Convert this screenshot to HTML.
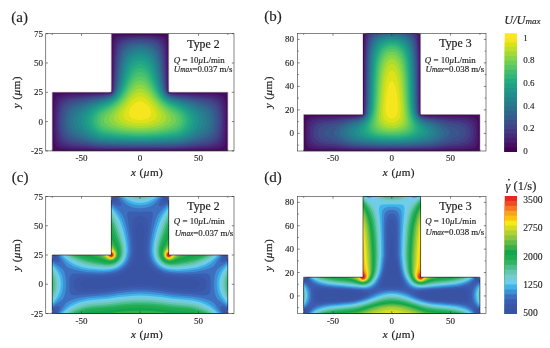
<!DOCTYPE html>
<html><head><meta charset="utf-8"><title>Velocity and shear rate contours</title>
<style>
html,body{margin:0;padding:0;background:#fff;}
svg{display:block;font-family:"Liberation Serif", "DejaVu Serif", serif;}
</style></head>
<body>
<svg width="550" height="348" viewBox="0 0 550 348">
<rect width="550" height="348" fill="#fff"/>
<clipPath id="ca"><path d="M52.25 150.9L227.8 150.9L227.8 92.3L168.69 92.3L168.69 33.7L111.35 33.7L111.35 92.3L52.25 92.3Z"/></clipPath>
<g clip-path="url(#ca)">
<path d="M52.25 150.9L227.8 150.9L227.8 92.3L168.69 92.3L168.69 33.7L111.35 33.7L111.35 92.3L52.25 92.3Z" fill="#460b5e"/>
<path d="M83.3 149.7L99.1 150.0L116.0 150.1L151.1 150.1L181.6 150.0L203.8 149.6L211.4 149.3L214.9 149.1L217.8 148.8L219.6 148.4L221.3 148.0L222.5 147.4L223.3 146.8L223.9 146.2L224.6 145.0L225.0 143.9L225.5 142.1L226.0 137.4L226.3 132.1L226.4 125.7L226.4 118.1L226.3 111.6L226.1 107.0L225.8 103.4L225.5 101.1L224.9 98.8L224.3 97.6L223.9 97.0L223.4 96.4L222.5 95.8L221.4 95.2L220.2 94.9L216.7 94.3L212.6 93.9L206.7 93.7L172.2 92.9L168.7 92.6L168.4 92.3L168.2 90.0L168.1 86.4L167.6 56.6L167.4 50.1L167.1 45.4L166.7 41.9L166.2 39.6L165.8 38.6L165.2 37.8L164.6 37.2L164.0 36.8L162.8 36.2L161.7 35.9L158.2 35.4L152.9 35.0L145.3 34.9L134.3 34.9L126.0 35.1L120.7 35.5L119.0 35.8L117.2 36.2L116.3 36.6L115.4 37.2L114.8 37.8L114.3 38.6L113.9 39.6L113.5 40.7L113.0 44.2L112.7 48.4L112.5 53.6L112.0 85.3L111.8 90.0L111.6 92.3L111.3 92.6L107.8 92.9L72.7 93.7L66.9 94.0L62.8 94.4L59.9 94.9L58.7 95.2L57.5 95.8L56.7 96.4L56.1 97.0L55.4 98.2L55.0 99.3L54.6 101.1L54.3 102.8L53.9 108.7L53.7 117.5L53.7 128.0L53.9 135.1L54.3 139.8L54.5 141.5L54.8 143.3L55.2 144.5L55.7 145.6L56.7 146.8L57.5 147.4L58.1 147.7L59.9 148.3L62.2 148.8L65.7 149.1L69.8 149.4Z" fill="#481a6c"/>
<path d="M99.6 149.2L116.6 149.3L140.6 149.4L165.2 149.3L181.0 149.1L190.9 148.8L207.9 147.9L211.4 147.6L213.8 147.3L216.1 146.8L218.0 146.2L219.6 145.5L220.8 144.6L221.5 143.9L222.3 142.7L222.9 141.5L223.5 139.8L224.0 137.4L224.3 135.1L224.7 131.0L224.9 126.3L224.9 120.4L224.8 115.2L224.6 111.1L224.3 107.5L223.8 104.6L223.1 102.2L222.5 100.8L221.9 99.8L221.0 98.7L220.2 98.1L219.0 97.4L217.8 96.9L216.1 96.4L214.3 96.0L210.8 95.5L205.6 95.1L172.8 93.5L170.5 93.2L169.3 93.0L168.7 92.8L168.2 92.3L167.9 91.1L167.7 90.0L167.4 85.9L166.6 58.9L166.3 53.0L165.9 48.4L165.2 44.2L164.4 41.9L164.0 41.0L163.4 40.1L162.8 39.5L161.7 38.6L160.5 38.0L159.3 37.6L157.6 37.1L155.8 36.8L150.6 36.3L144.1 36.1L135.3 36.1L128.3 36.4L123.6 36.9L121.9 37.3L120.0 37.8L118.7 38.4L117.8 39.0L117.1 39.6L116.2 40.7L115.6 41.9L115.2 43.1L114.7 44.8L114.4 46.6L113.9 51.3L113.5 57.1L112.6 86.4L112.3 90.5L111.9 92.3L111.3 92.8L110.8 93.0L107.8 93.4L73.9 95.1L68.6 95.6L64.5 96.3L62.8 96.7L61.0 97.4L59.8 98.2L58.7 99.1L57.7 100.5L57.1 101.7L56.5 103.4L56.1 105.2L55.5 109.9L55.2 116.9L55.1 125.1L55.4 132.1L56.0 136.8L56.3 138.9L56.7 140.4L57.1 141.5L57.7 142.7L58.5 143.9L59.1 144.5L59.9 145.1L60.7 145.6L62.8 146.5L65.1 147.1L68.6 147.6L72.1 147.9L76.8 148.2L92.0 148.9Z" fill="#482677"/>
<path d="M122.5 148.6L150.0 148.6L177.5 148.3L188.6 147.8L202.6 146.8L206.7 146.4L210.2 145.9L213.2 145.3L215.5 144.5L217.3 143.6L218.4 142.8L219.0 142.3L220.1 140.9L221.1 139.2L221.7 137.4L222.2 135.7L222.6 133.3L223.0 130.4L223.2 127.5L223.3 120.4L223.2 116.9L223.0 113.4L222.4 108.7L222.1 107.0L221.6 105.2L220.8 103.4L220.2 102.3L219.2 101.1L218.4 100.3L216.9 99.3L214.9 98.4L212.6 97.7L209.7 97.2L203.2 96.4L172.8 94.1L170.5 93.7L169.3 93.4L168.7 93.2L168.3 92.9L167.8 92.3L167.4 91.1L167.2 90.0L166.7 85.9L166.4 80.6L165.5 58.9L165.0 53.0L164.3 48.4L163.9 46.6L163.3 44.8L162.5 43.1L161.7 41.9L160.5 40.7L159.7 40.1L158.6 39.6L157.0 39.0L155.2 38.5L153.5 38.2L151.1 37.8L148.2 37.6L141.8 37.3L135.3 37.4L129.5 37.8L125.4 38.4L122.5 39.2L121.3 39.6L120.1 40.3L119.0 41.2L118.4 41.9L117.8 42.7L117.2 43.7L116.6 45.1L116.2 46.6L115.5 50.1L114.9 54.8L114.5 60.1L113.6 80.6L113.3 86.4L112.8 90.5L112.2 92.3L111.9 92.7L111.3 93.2L110.8 93.4L109.6 93.7L107.3 94.1L76.2 96.5L71.5 97.0L67.5 97.7L65.7 98.2L63.9 98.9L62.8 99.5L61.4 100.5L60.4 101.5L59.5 102.8L58.9 104.0L58.3 105.8L57.7 108.1L57.3 110.5L57.0 113.4L56.8 116.3L56.7 119.8L56.7 123.9L56.9 127.5L57.1 131.0L57.7 135.1L58.1 136.8L58.7 138.6L59.5 140.4L60.3 141.5L61.0 142.3L62.2 143.3L63.4 144.0L64.5 144.5L67.5 145.4L71.6 146.2L76.2 146.7L90.9 147.8L99.1 148.2L104.9 148.4Z" fill="#46337f"/>
<path d="M102.0 147.4L120.1 147.7L140.0 147.8L159.9 147.7L178.1 147.4L187.4 146.8L203.2 145.2L207.9 144.4L210.2 143.9L212.0 143.4L213.8 142.7L215.5 141.7L216.7 140.7L217.6 139.8L218.5 138.6L219.4 136.8L220.1 135.1L220.7 132.7L221.1 129.8L221.4 126.9L221.6 123.4L221.6 119.3L221.4 115.7L221.1 112.8L220.5 109.9L219.9 107.5L219.2 105.8L218.5 104.6L217.7 103.4L216.5 102.3L215.5 101.5L213.8 100.5L212.4 99.9L210.6 99.3L207.3 98.6L203.2 98.0L188.6 96.3L173.4 94.8L170.5 94.2L169.3 93.9L168.5 93.5L167.8 92.9L167.4 92.3L167.1 91.7L166.6 90.0L166.2 87.0L165.6 80.6L164.5 61.2L164.0 56.4L163.5 52.5L162.9 49.5L162.1 47.2L161.3 45.4L160.2 43.7L159.3 42.8L158.3 41.9L157.0 41.2L155.8 40.6L154.1 40.1L152.3 39.6L150.0 39.3L147.6 39.0L144.7 38.8L141.2 38.7L137.7 38.7L134.2 38.8L131.2 39.1L128.9 39.4L126.6 39.9L124.8 40.4L123.1 41.2L121.9 41.8L120.7 42.8L119.9 43.7L119.0 44.8L118.4 46.1L117.7 47.8L117.1 50.1L116.3 54.2L115.7 60.1L115.2 65.9L114.4 80.6L113.9 86.4L113.6 88.8L113.3 90.5L112.9 91.7L112.7 92.3L112.3 92.9L111.3 93.6L110.8 93.9L109.0 94.4L107.3 94.7L104.3 95.1L90.5 96.4L76.2 98.0L71.6 98.8L68.0 99.8L66.3 100.5L64.5 101.5L63.4 102.4L62.4 103.4L61.5 104.6L60.6 106.4L60.0 108.1L59.4 110.5L58.7 114.6L58.4 119.8L58.5 125.7L59.0 130.4L59.7 133.9L60.2 135.7L60.6 136.8L61.2 138.0L62.0 139.2L62.8 140.2L63.6 140.9L65.2 142.1L67.5 143.2L69.8 143.9L73.3 144.7L77.4 145.2L90.9 146.6L96.7 147.1Z" fill="#424086"/>
<path d="M116.6 146.8L129.5 147.0L142.4 147.0L155.2 146.9L168.7 146.7L176.3 146.5L180.4 146.3L185.7 145.9L190.9 145.2L204.4 143.2L207.9 142.4L210.8 141.4L212.6 140.5L213.7 139.8L214.5 139.2L215.5 138.1L216.9 136.2L217.5 135.1L218.2 133.3L218.7 131.6L219.2 129.2L219.5 126.9L219.7 124.5L219.8 122.2L219.7 119.3L219.6 116.9L219.3 114.6L219.0 112.8L218.4 110.6L217.8 108.9L217.3 107.6L216.6 106.4L215.7 105.2L214.9 104.4L213.8 103.4L212.0 102.3L210.2 101.5L207.9 100.7L205.6 100.1L202.0 99.5L189.7 97.6L175.1 95.7L172.8 95.4L171.0 95.0L169.3 94.4L168.1 93.7L167.3 92.9L166.6 91.7L166.2 90.5L165.8 88.8L165.4 86.4L164.8 80.6L163.8 67.1L163.3 61.2L162.6 56.0L161.7 51.6L161.1 49.7L160.5 48.2L159.6 46.6L158.7 45.3L157.7 44.2L156.4 43.3L155.0 42.5L153.5 41.9L151.7 41.3L149.4 40.8L144.7 40.3L141.8 40.1L138.9 40.1L135.9 40.2L133.0 40.5L130.7 40.8L128.9 41.2L126.0 42.1L124.2 42.9L123.1 43.7L121.9 44.7L121.2 45.4L120.1 47.1L119.2 48.9L118.4 51.3L117.8 54.2L117.2 57.7L116.6 62.7L115.2 80.6L114.5 87.0L114.0 90.0L113.4 91.7L112.8 92.9L111.9 93.7L110.8 94.4L109.6 94.8L106.7 95.5L92.0 97.3L78.0 99.5L73.9 100.2L71.0 101.1L69.2 101.7L67.5 102.6L66.2 103.4L65.1 104.4L63.9 105.7L63.1 107.0L62.5 108.1L61.8 109.9L61.3 111.6L60.8 114.0L60.5 116.3L60.4 118.7L60.3 121.0L60.3 123.9L60.5 126.9L60.9 129.2L61.7 132.7L62.2 134.2L62.8 135.7L63.5 136.8L64.5 138.1L65.6 139.2L66.9 140.1L68.2 140.9L69.8 141.6L71.6 142.2L73.9 142.9L78.0 143.6L88.5 145.1L95.0 145.9L100.8 146.4L104.9 146.6Z" fill="#3e4c8a"/>
<path d="M106.1 145.6L123.6 146.0L141.2 146.2L158.7 146.0L176.3 145.5L182.7 145.1L188.6 144.3L201.5 141.9L205.6 140.9L207.9 140.1L209.7 139.3L210.9 138.6L212.5 137.4L213.6 136.2L214.5 135.1L215.5 133.4L216.1 132.0L216.8 129.8L217.3 127.5L217.6 125.1L217.7 122.2L217.7 119.3L217.5 116.9L217.1 114.6L216.5 112.2L215.8 110.5L215.0 108.7L214.2 107.5L213.2 106.4L212.0 105.3L210.8 104.5L209.1 103.5L207.3 102.7L205.0 102.0L202.6 101.4L192.1 99.2L186.2 98.2L175.7 96.6L172.8 96.0L169.9 95.2L168.7 94.7L167.8 94.1L166.7 92.9L166.1 91.7L165.4 90.0L164.8 87.0L163.9 80.6L162.3 63.1L161.7 58.9L161.1 55.8L160.4 53.0L159.5 50.7L158.7 48.9L157.6 47.3L157.0 46.6L155.8 45.5L154.7 44.7L153.5 44.0L152.3 43.5L150.6 42.9L148.8 42.5L146.5 42.1L144.1 41.8L141.8 41.7L137.1 41.7L134.8 41.9L132.4 42.2L130.7 42.6L128.9 43.1L127.1 43.7L125.4 44.7L124.2 45.5L123.1 46.6L122.1 47.8L121.3 49.1L120.5 50.7L119.9 52.5L118.8 56.6L117.9 61.8L117.3 67.7L116.1 80.6L115.4 86.4L114.8 89.4L114.2 91.1L113.7 92.3L112.9 93.5L111.9 94.3L110.8 95.0L109.6 95.4L107.8 95.9L104.9 96.5L93.9 98.2L87.5 99.3L76.8 101.5L74.1 102.3L72.1 103.0L70.4 103.8L69.0 104.6L67.5 105.8L66.3 107.0L65.5 108.1L64.5 109.9L63.8 111.6L63.1 114.0L62.5 117.5L62.3 121.0L62.5 125.1L63.0 128.6L63.4 130.4L63.9 132.0L64.5 133.3L65.1 134.4L66.4 136.2L67.5 137.3L68.3 138.0L70.4 139.3L72.7 140.4L75.1 141.1L78.0 141.8L87.9 143.7L93.8 144.6L100.2 145.3Z" fill="#39568c"/>
<path d="M119.0 145.1L129.5 145.2L140.0 145.3L150.6 145.2L161.5 145.0L177.5 144.5L182.2 144.0L186.2 143.4L192.7 142.1L201.5 140.0L204.4 139.1L206.9 138.0L208.5 137.1L209.7 136.3L210.8 135.3L211.6 134.5L212.4 133.3L213.2 132.1L213.8 130.9L214.4 129.2L214.8 127.5L215.2 125.7L215.5 122.2L215.3 118.7L215.1 116.9L214.7 115.2L214.3 113.7L213.8 112.2L212.6 110.0L211.1 108.1L210.2 107.3L209.1 106.4L207.3 105.3L205.6 104.4L203.2 103.6L200.9 102.9L193.9 101.1L188.6 99.8L183.4 98.7L174.5 97.2L171.6 96.5L169.9 95.9L168.7 95.3L167.5 94.5L166.5 93.5L165.7 92.3L165.0 90.5L164.4 88.8L163.9 86.4L163.1 81.2L161.7 68.3L161.0 63.0L160.0 57.7L159.0 54.2L158.2 52.2L157.4 50.7L156.4 49.2L155.2 47.9L154.1 46.9L152.8 46.0L151.1 45.2L149.4 44.5L147.6 44.1L145.9 43.7L141.8 43.3L137.7 43.4L135.3 43.6L133.6 43.8L130.7 44.5L128.9 45.2L127.7 45.7L126.6 46.4L125.4 47.3L124.3 48.4L123.6 49.2L122.3 51.3L121.3 53.6L120.4 56.6L119.7 59.5L119.1 63.0L118.6 66.5L116.8 82.3L116.3 85.3L115.7 88.2L115.1 90.5L114.3 92.3L113.5 93.5L112.5 94.5L111.9 94.9L110.8 95.6L109.6 96.1L107.8 96.6L104.9 97.3L95.0 99.1L89.7 100.2L78.0 103.2L74.5 104.4L72.9 105.2L71.6 106.0L70.2 107.0L68.9 108.1L67.9 109.3L66.9 110.9L66.3 112.2L65.6 114.0L65.2 115.7L64.9 117.5L64.6 121.0L64.6 123.4L64.8 125.1L65.1 126.9L65.5 128.6L66.1 130.4L66.6 131.6L67.2 132.7L68.0 133.9L69.0 135.1L69.8 135.8L71.0 136.7L72.1 137.4L74.5 138.6L78.0 139.8L87.3 142.1L94.4 143.5L99.1 144.1L103.2 144.5Z" fill="#34618d"/>
<path d="M111.9 143.9L121.9 144.2L131.2 144.4L140.6 144.4L150.6 144.3L162.3 144.1L173.4 143.6L178.1 143.4L182.2 142.9L186.8 142.0L192.1 140.7L200.6 138.0L203.8 136.8L205.6 135.9L206.7 135.1L207.9 134.2L208.8 133.3L209.8 132.1L210.6 131.0L211.7 128.6L212.1 127.5L212.5 125.7L212.9 122.8L212.9 119.8L212.4 116.9L212.0 115.2L211.5 114.0L211.0 112.8L210.3 111.6L209.0 109.9L207.0 108.1L205.0 106.8L202.6 105.7L197.8 104.0L192.5 102.3L186.2 100.5L181.6 99.4L174.5 98.0L171.0 97.0L169.3 96.3L168.1 95.6L166.8 94.6L165.8 93.5L165.1 92.3L164.3 90.5L163.7 88.8L163.1 86.4L162.2 81.2L160.6 69.4L159.9 64.8L158.8 59.5L157.7 56.0L157.0 54.2L156.4 53.0L155.3 51.3L154.4 50.1L153.5 49.2L152.3 48.3L150.6 47.2L149.1 46.6L147.6 46.1L145.9 45.7L142.4 45.2L140.6 45.1L138.3 45.1L134.8 45.5L131.8 46.3L130.1 46.9L128.9 47.5L127.7 48.3L126.6 49.2L125.7 50.1L124.8 51.1L123.6 53.0L122.5 55.4L121.5 58.3L120.8 61.2L119.7 67.7L117.6 82.9L117.0 85.9L116.5 88.2L115.8 90.5L115.0 92.3L114.2 93.5L113.1 94.7L111.3 96.0L110.2 96.6L108.4 97.2L105.5 98.0L96.3 99.9L91.5 101.1L83.9 103.4L78.8 105.2L76.8 106.0L75.1 106.8L73.9 107.5L72.7 108.4L71.6 109.4L70.6 110.5L69.7 111.6L69.0 112.8L68.3 114.6L67.9 115.7L67.5 117.5L67.1 120.4L67.1 122.2L67.2 123.9L67.8 126.9L68.6 129.2L69.1 130.4L69.8 131.6L70.7 132.7L71.6 133.6L72.5 134.5L73.9 135.5L76.4 136.8L79.4 138.0L86.8 140.4L90.3 141.3L93.2 142.0L97.3 142.8L101.4 143.3L104.3 143.5Z" fill="#2f6c8e"/>
<path d="M124.2 143.3L133.6 143.5L142.4 143.5L151.7 143.4L160.5 143.1L169.3 142.8L176.3 142.4L179.8 142.0L183.9 141.3L188.6 140.1L193.2 138.6L196.1 137.4L200.2 135.7L202.0 134.8L203.6 133.9L205.0 132.9L205.8 132.1L207.3 130.4L208.1 129.2L208.7 128.0L209.2 126.9L209.7 125.1L210.0 122.8L210.0 120.4L209.7 118.1L209.1 115.8L208.2 114.0L207.1 112.2L205.6 110.6L203.9 109.3L202.0 108.1L198.2 106.4L194.2 104.6L189.5 102.8L183.7 101.1L174.5 98.9L171.0 97.8L169.3 97.0L167.5 96.0L166.4 95.0L165.5 94.1L164.7 92.9L163.8 91.1L163.1 89.4L162.4 87.0L161.3 81.8L159.4 69.4L158.5 64.8L157.3 60.1L156.0 56.6L155.1 54.8L154.1 53.1L152.9 51.7L151.7 50.6L150.1 49.5L148.8 48.8L147.0 48.1L145.3 47.6L142.4 47.2L139.4 47.1L136.5 47.3L133.6 47.9L131.2 48.8L130.1 49.4L128.9 50.2L127.1 51.7L125.6 53.6L124.6 55.4L123.6 57.5L122.7 60.1L121.9 63.0L120.7 69.2L118.6 82.3L118.0 85.3L117.3 88.2L116.5 90.5L115.7 92.3L114.9 93.7L113.7 95.0L112.5 96.0L111.3 96.7L109.0 97.8L105.5 98.9L96.3 101.1L90.9 102.7L87.3 104.0L84.5 105.2L78.1 108.1L76.8 108.8L75.3 109.9L74.0 111.1L73.0 112.2L72.1 113.4L71.2 115.2L70.8 116.3L70.3 118.1L70.0 120.4L70.1 123.4L70.4 125.1L70.7 126.3L71.6 128.5L72.7 130.4L74.2 132.1L76.2 133.7L78.6 135.1L83.9 137.4L88.5 139.2L93.2 140.6L97.9 141.6L101.4 142.2L104.9 142.5L114.3 142.9Z" fill="#2b758e"/>
<path d="M119.0 142.1L127.7 142.4L135.9 142.5L144.1 142.5L152.9 142.4L162.3 142.1L172.4 141.5L176.9 141.2L181.0 140.6L185.7 139.4L189.9 138.0L193.9 136.2L198.2 133.9L201.7 131.6L203.6 129.8L204.6 128.6L205.3 127.5L205.8 126.3L206.2 125.1L206.6 123.4L206.7 121.0L206.6 119.3L206.1 117.5L205.4 115.7L204.3 114.0L202.8 112.2L201.4 111.1L197.8 108.7L194.7 107.0L191.2 105.2L188.6 104.1L185.3 102.8L182.7 102.0L173.4 99.4L171.6 98.9L169.9 98.1L168.1 97.2L167.0 96.4L165.8 95.4L165.1 94.6L164.2 93.5L163.3 91.7L162.5 90.0L161.6 87.0L160.3 81.8L158.3 70.6L157.4 66.5L156.3 62.4L155.0 58.9L154.1 57.1L153.4 56.0L152.3 54.4L151.1 53.2L150.0 52.2L148.6 51.3L147.0 50.5L145.3 49.9L142.9 49.4L140.0 49.2L137.1 49.4L134.8 49.9L132.4 50.8L130.5 51.9L129.5 52.7L128.5 53.6L127.0 55.4L125.9 57.1L124.8 59.5L123.9 61.8L123.1 64.8L121.9 70.1L119.5 82.9L118.8 85.9L118.1 88.2L117.3 90.5L116.5 92.3L115.4 94.1L114.3 95.4L113.1 96.4L111.9 97.2L110.8 97.8L109.0 98.6L106.1 99.6L98.5 101.7L93.8 103.2L88.8 105.2L84.2 107.5L79.5 110.5L77.9 111.6L76.8 112.7L75.7 114.0L74.9 115.2L74.4 116.3L73.7 118.1L73.3 120.4L73.3 122.2L73.4 123.4L74.0 125.7L74.5 126.9L75.1 128.0L76.4 129.8L78.3 131.6L81.9 133.9L85.0 135.7L88.7 137.4L91.8 138.6L95.5 139.8L99.1 140.6L101.4 141.0L104.3 141.3Z" fill="#277f8e"/>
<path d="M134.8 141.5L142.9 141.5L150.6 141.4L158.7 141.2L166.4 140.8L176.9 139.9L180.4 139.3L183.3 138.6L186.8 137.4L190.7 135.7L193.7 133.9L196.9 131.6L199.4 129.2L200.5 128.0L201.3 126.9L201.9 125.7L202.4 124.5L202.7 123.4L202.9 122.2L202.8 120.4L202.5 118.7L201.8 116.9L201.2 115.7L199.8 114.0L198.1 112.2L196.1 110.5L194.5 109.3L190.8 107.0L188.6 105.8L186.0 104.6L181.4 102.8L172.8 100.2L169.9 99.0L168.1 98.1L166.9 97.3L165.8 96.3L164.7 95.2L163.8 94.1L162.7 92.3L161.9 90.5L160.8 87.6L159.5 82.9L157.0 71.2L156.0 67.1L154.7 63.0L153.9 61.2L153.1 59.5L152.3 58.2L151.1 56.6L150.0 55.3L148.2 53.9L146.5 53.0L144.7 52.3L142.9 51.8L141.2 51.6L138.9 51.6L137.1 51.8L134.8 52.5L133.0 53.2L131.4 54.2L130.0 55.4L128.5 57.1L127.3 58.9L126.6 60.3L125.6 62.4L124.2 66.6L123.1 71.2L120.5 82.9L119.8 85.9L119.0 88.2L118.2 90.5L117.0 92.9L115.8 94.6L114.9 95.8L113.7 96.8L112.5 97.7L111.3 98.4L109.6 99.3L106.7 100.4L99.1 102.7L95.0 104.2L92.7 105.2L90.3 106.4L88.2 107.5L86.4 108.7L84.7 109.9L82.6 111.6L81.3 112.8L79.8 114.6L78.6 116.2L77.9 117.5L77.4 119.1L77.2 120.4L77.1 121.6L77.2 122.8L77.5 123.9L77.8 125.1L78.4 126.3L79.1 127.5L81.2 129.8L83.8 132.1L85.4 133.3L87.2 134.5L90.5 136.2L93.8 137.6L96.7 138.6L98.9 139.2L101.9 139.8L104.3 140.1L111.3 140.6L119.0 141.0L127.1 141.4Z" fill="#23888e"/>
<path d="M128.9 140.4L136.5 140.5L143.5 140.5L150.6 140.4L157.6 140.1L165.8 139.6L174.0 139.0L177.1 138.6L180.4 137.9L183.9 136.8L187.4 135.3L190.3 133.6L193.0 131.6L194.8 129.8L195.8 128.6L196.7 127.5L197.4 126.3L197.9 125.1L198.3 123.9L198.5 122.8L198.6 121.0L198.4 119.3L198.1 118.1L197.3 116.3L196.2 114.6L194.8 112.8L193.1 111.1L191.7 109.9L190.1 108.7L188.3 107.5L186.2 106.4L183.8 105.2L179.3 103.4L172.8 101.2L169.3 99.7L167.5 98.7L166.4 97.8L164.7 96.4L163.7 95.2L162.8 94.1L161.8 92.3L160.9 90.5L160.0 88.2L158.6 83.5L155.9 73.0L155.0 69.4L153.6 65.3L152.3 62.4L151.1 60.5L150.0 58.9L148.8 57.7L147.6 56.7L146.5 55.9L144.7 55.1L143.5 54.7L141.8 54.3L139.4 54.2L137.7 54.4L135.9 54.9L134.2 55.6L132.6 56.6L131.2 57.7L130.1 58.9L128.8 60.7L127.8 62.4L127.1 63.7L126.2 65.9L125.4 68.4L124.2 72.5L121.5 83.5L120.6 86.4L119.8 88.8L118.8 91.1L117.9 92.9L116.8 94.6L115.8 95.8L114.7 97.0L113.1 98.3L111.9 99.0L110.2 100.0L107.3 101.2L100.7 103.4L96.7 105.0L92.8 107.0L89.9 108.7L88.3 109.9L87.0 111.1L85.8 112.2L84.2 114.0L83.1 115.7L82.4 116.9L81.8 118.7L81.5 119.8L81.4 121.0L81.4 122.2L81.6 123.4L81.9 124.5L82.4 125.7L83.0 126.9L84.2 128.6L85.2 129.8L86.4 131.0L88.5 132.7L91.2 134.5L94.7 136.2L97.3 137.2L99.6 137.9L102.0 138.4L104.3 138.8L116.1 139.8Z" fill="#20928c"/>
<path d="M127.1 139.2L134.2 139.4L141.2 139.5L148.2 139.4L154.7 139.1L162.8 138.6L169.9 138.1L175.7 137.4L178.6 136.8L181.6 136.0L184.5 134.8L187.1 133.3L189.5 131.6L191.3 129.8L192.3 128.6L193.1 127.5L194.1 125.7L194.5 124.5L194.8 123.4L195.0 121.6L194.9 119.8L194.7 118.7L194.1 116.9L193.2 115.2L192.0 113.4L190.4 111.6L189.1 110.5L187.7 109.3L185.9 108.1L182.8 106.4L178.9 104.6L172.2 102.1L168.7 100.4L166.9 99.3L165.8 98.4L164.2 97.0L163.1 95.8L162.2 94.6L161.1 92.9L160.2 91.1L159.2 88.8L157.8 84.7L154.7 73.9L153.8 71.2L152.5 67.7L151.1 64.9L150.4 63.6L149.4 62.1L148.2 60.8L147.0 59.7L145.9 58.9L144.7 58.2L143.5 57.7L141.8 57.3L140.0 57.2L138.3 57.3L136.6 57.7L135.3 58.2L133.6 59.3L132.4 60.2L131.2 61.4L130.0 63.0L128.3 66.0L126.6 70.3L125.4 73.9L122.3 84.7L120.6 89.4L119.5 91.7L118.6 93.5L117.4 95.2L116.4 96.4L115.3 97.6L113.7 98.9L112.5 99.7L110.8 100.7L107.8 102.1L101.2 104.6L98.4 105.8L95.1 107.5L92.4 109.3L90.9 110.5L89.6 111.6L88.5 112.8L87.6 114.0L86.8 115.2L86.2 116.3L85.7 117.5L85.2 119.3L85.0 120.4L85.0 121.6L85.1 122.8L85.3 123.9L85.7 125.1L86.2 126.3L87.3 128.0L88.7 129.8L90.6 131.6L93.0 133.3L95.5 134.8L97.6 135.7L99.6 136.4L102.0 137.0L104.3 137.4L109.7 138.0L115.4 138.5Z" fill="#1e9c89"/>
<path d="M126.6 138.0L133.6 138.3L140.0 138.3L146.5 138.3L152.9 138.0L159.9 137.6L166.4 137.1L173.3 136.2L177.0 135.7L179.8 134.9L182.2 133.9L184.5 132.6L186.8 131.0L188.6 129.2L189.9 127.5L190.9 125.7L191.4 124.5L191.7 123.4L191.9 121.6L191.8 119.8L191.4 118.1L191.0 116.9L190.2 115.2L189.4 114.0L187.9 112.2L186.7 111.1L185.3 109.9L183.7 108.7L180.7 107.0L178.1 105.7L171.6 103.1L168.1 101.2L166.4 100.0L164.6 98.6L163.4 97.5L162.0 95.8L161.1 94.6L160.0 92.9L158.3 89.4L156.7 85.3L152.9 73.8L151.3 70.0L150.0 67.4L148.2 64.8L146.5 63.0L145.3 62.1L144.1 61.4L142.9 60.9L141.8 60.6L140.6 60.4L138.9 60.5L137.1 60.9L135.9 61.4L134.8 62.1L133.6 63.0L132.4 64.2L131.0 65.9L129.5 68.4L127.7 72.3L126.6 75.5L123.3 85.3L121.5 90.0L120.3 92.3L119.3 94.1L118.1 95.8L117.1 97.0L116.0 98.2L114.3 99.6L111.3 101.6L107.8 103.3L102.6 105.5L99.6 106.8L97.3 108.1L94.7 109.9L93.3 111.1L92.1 112.2L91.1 113.4L90.3 114.6L89.6 115.7L89.0 116.9L88.6 118.1L88.3 119.3L88.2 120.4L88.2 121.6L88.4 123.4L88.7 124.5L89.1 125.7L90.1 127.5L91.5 129.2L93.3 131.0L95.5 132.6L97.9 133.9L99.6 134.6L101.4 135.2L103.2 135.7L105.5 136.1L110.8 136.8L115.4 137.2Z" fill="#21a585"/>
<path d="M127.7 136.8L134.2 137.1L140.6 137.2L147.0 137.1L152.9 136.8L159.9 136.3L165.8 135.7L171.6 134.9L176.3 134.1L178.6 133.4L181.0 132.4L183.3 131.0L184.7 129.8L186.4 128.0L187.6 126.3L188.4 124.5L188.8 122.8L189.0 121.6L188.9 119.8L188.5 118.1L188.1 116.9L187.3 115.2L186.5 114.0L185.5 112.8L184.4 111.6L182.3 109.9L179.6 108.1L177.3 107.0L171.0 104.1L167.5 102.1L165.8 100.9L164.6 99.9L162.8 98.3L161.7 97.0L159.6 94.1L157.7 90.5L155.6 85.9L151.7 75.8L150.1 72.4L148.8 70.0L147.0 67.7L145.3 66.0L143.5 64.9L142.4 64.4L141.2 64.1L139.4 64.1L138.3 64.2L137.1 64.6L135.9 65.2L134.8 66.0L133.6 67.0L131.8 69.2L130.2 71.8L128.9 74.4L127.1 78.7L123.9 87.0L122.1 91.1L120.1 94.6L118.8 96.4L117.8 97.7L116.6 98.9L114.9 100.4L111.9 102.5L108.4 104.4L101.6 107.5L99.1 109.0L97.0 110.5L95.1 112.2L94.0 113.4L93.2 114.6L92.5 115.7L91.9 116.9L91.5 118.1L91.2 119.3L91.1 120.4L91.1 121.6L91.3 123.4L91.9 125.1L92.8 126.9L94.1 128.6L95.5 130.0L97.6 131.6L99.6 132.7L101.4 133.4L103.7 134.1L109.3 135.1L118.4 136.2Z" fill="#28ae80"/>
<path d="M130.1 135.7L136.5 135.9L142.4 135.9L148.2 135.8L154.1 135.4L159.3 135.0L165.2 134.3L170.5 133.5L175.1 132.5L177.5 131.8L179.2 131.0L181.2 129.8L182.6 128.6L183.9 127.2L184.9 125.7L185.6 123.9L186.0 122.2L186.1 121.0L186.0 119.3L185.7 118.1L185.3 116.9L184.8 115.7L184.0 114.6L183.1 113.4L182.0 112.2L180.0 110.5L178.2 109.3L176.1 108.1L171.0 105.6L168.7 104.2L166.9 103.1L165.2 101.8L163.4 100.3L162.3 99.2L160.8 97.6L158.7 94.6L156.6 91.1L154.9 87.6L150.6 77.8L149.4 75.6L148.2 73.6L146.5 71.3L144.7 69.7L142.9 68.6L141.2 68.1L140.0 68.0L138.9 68.1L137.7 68.4L136.5 68.9L135.3 69.7L134.2 70.7L132.4 72.8L131.2 74.7L129.5 77.8L124.6 88.8L122.8 92.3L120.6 95.8L119.2 97.6L118.2 98.7L117.0 99.9L115.4 101.3L112.5 103.5L109.0 105.6L102.6 108.9L100.9 109.9L99.1 111.3L98.0 112.2L96.9 113.4L95.6 115.2L94.7 116.9L94.3 118.1L94.0 119.3L93.9 121.0L94.1 122.8L94.6 124.5L95.5 126.3L96.7 127.9L98.1 129.2L99.7 130.4L101.9 131.6L103.7 132.2L105.5 132.7L108.8 133.3L113.1 134.0L121.7 135.1Z" fill="#37b878"/>
<path d="M134.2 134.5L139.4 134.6L144.7 134.5L150.0 134.3L155.2 133.9L160.5 133.3L164.6 132.7L168.7 132.0L173.0 131.0L175.1 130.4L176.9 129.7L178.6 128.7L180.2 127.5L181.3 126.3L182.4 124.5L182.8 123.4L183.2 121.6L183.2 119.8L183.0 118.7L182.7 117.5L181.8 115.7L180.6 114.0L178.9 112.2L176.9 110.7L169.9 106.6L166.4 104.2L163.4 101.9L161.4 99.9L158.9 97.0L156.5 93.5L154.6 90.0L150.0 81.0L148.2 78.0L147.0 76.4L145.9 75.0L144.1 73.5L142.4 72.5L140.6 72.1L138.9 72.2L137.1 72.8L135.3 74.0L134.2 75.0L133.0 76.4L131.2 79.0L129.5 82.1L125.8 89.4L123.9 92.9L122.0 95.8L120.1 98.3L118.7 99.9L117.2 101.4L115.4 102.9L113.7 104.2L110.2 106.6L103.5 110.5L102.0 111.5L100.8 112.5L99.9 113.4L99.0 114.6L97.9 116.3L97.2 118.1L96.8 119.8L96.8 121.6L97.0 122.8L97.7 124.5L98.3 125.7L99.3 126.9L100.5 128.0L102.0 129.1L103.7 130.0L106.1 130.7L109.4 131.6L113.1 132.3L117.2 133.0L125.4 134.0Z" fill="#48c16e"/>
<path d="M128.9 132.7L133.0 133.0L137.7 133.2L142.4 133.2L147.0 133.0L151.7 132.7L156.4 132.2L160.5 131.6L164.2 131.0L167.5 130.2L171.0 129.2L174.0 128.2L175.7 127.4L177.3 126.3L178.5 125.1L179.3 123.9L179.9 122.2L180.1 120.4L180.1 119.3L179.8 118.1L179.0 116.3L177.8 114.6L176.7 113.4L175.3 112.2L168.7 107.7L165.8 105.6L162.8 103.1L160.8 101.1L158.2 98.2L156.1 95.2L154.2 92.3L149.4 84.0L147.0 80.6L145.3 78.7L144.1 77.7L142.9 77.0L141.2 76.4L139.4 76.3L137.7 76.7L135.9 77.7L134.2 79.3L133.0 80.6L131.2 83.1L124.7 94.1L122.7 97.0L120.7 99.5L117.8 102.6L114.9 105.1L111.3 107.7L104.8 112.2L103.3 113.4L102.2 114.6L101.4 115.7L100.7 116.9L100.1 118.7L99.9 120.4L100.0 121.6L100.3 122.8L100.8 123.9L101.4 124.9L102.1 125.7L103.2 126.7L104.4 127.5L106.7 128.4L108.9 129.2L111.9 130.1L114.9 130.8L118.4 131.4L121.9 132.0Z" fill="#5cc863"/>
<path d="M135.3 131.6L139.4 131.7L143.5 131.6L147.0 131.4L151.1 131.1L154.7 130.7L158.2 130.2L161.7 129.5L164.6 128.8L166.9 128.0L169.9 126.9L171.6 126.1L173.2 125.1L174.6 123.9L175.6 122.8L176.1 121.6L176.4 120.4L176.4 119.3L176.1 118.1L175.6 116.9L174.8 115.7L173.7 114.6L171.9 112.8L165.2 107.2L162.8 105.1L160.5 102.9L158.9 101.1L157.4 99.3L155.6 97.0L149.4 87.7L147.6 85.4L146.5 84.0L144.7 82.3L143.5 81.5L142.4 80.9L140.6 80.4L138.9 80.5L137.1 81.1L135.3 82.3L133.6 84.0L131.2 86.9L125.3 95.8L123.6 98.2L121.9 100.3L119.5 102.9L117.2 105.1L114.9 107.2L108.8 112.2L106.3 114.6L105.3 115.7L104.5 116.9L104.0 118.1L103.7 119.3L103.7 120.4L103.9 121.6L104.4 122.8L105.4 123.9L106.7 125.0L107.8 125.7L109.6 126.6L111.5 127.5L113.7 128.2L116.6 129.1L119.5 129.7L122.5 130.3L128.3 131.1Z" fill="#73d056"/>
<path d="M134.8 129.8L138.3 130.0L141.8 130.0L148.2 129.6L151.7 129.2L154.7 128.8L157.6 128.2L160.5 127.5L162.8 126.8L165.2 125.8L166.6 125.1L168.5 123.9L169.3 123.3L170.3 122.2L171.0 121.0L171.3 119.8L171.3 118.7L171.2 118.1L170.9 116.9L170.3 115.7L169.0 114.0L166.9 111.6L161.1 105.8L157.6 102.0L154.9 98.7L150.0 92.0L147.6 89.1L145.9 87.3L144.1 85.8L142.4 84.9L140.6 84.5L138.9 84.5L137.1 85.1L135.3 86.3L134.2 87.3L133.0 88.4L130.7 91.3L125.6 98.2L122.5 102.0L119.0 105.8L113.1 111.6L111.0 114.0L110.1 115.2L109.5 116.3L109.0 117.5L108.7 118.7L108.7 119.8L109.1 121.0L109.6 122.0L110.2 122.8L111.3 123.8L112.4 124.5L113.7 125.3L115.4 126.1L117.5 126.9L119.4 127.5L124.2 128.6L129.5 129.4Z" fill="#8bd646"/>
<path d="M137.1 128.1L142.9 128.1L148.2 127.7L153.3 126.9L155.8 126.3L157.8 125.7L159.4 125.1L161.1 124.4L162.8 123.4L163.8 122.8L164.6 122.0L165.5 121.0L166.1 119.8L166.4 118.7L166.4 117.5L165.9 115.7L165.4 114.6L164.3 112.8L162.5 110.5L156.0 102.8L149.4 94.7L147.0 92.1L145.9 91.0L144.7 90.1L143.5 89.3L142.4 88.8L140.6 88.4L138.9 88.5L137.7 88.8L136.5 89.3L134.8 90.5L132.4 92.7L130.1 95.4L124.1 102.8L116.6 111.6L115.4 113.4L114.7 114.6L113.9 116.3L113.7 117.5L113.7 118.7L113.8 119.3L114.2 120.4L114.9 121.4L115.6 122.2L116.6 123.0L118.1 123.9L119.2 124.5L122.5 125.8L126.8 126.9L131.8 127.7Z" fill="#a8db34"/>
<path d="M134.8 125.7L139.4 126.0L144.1 125.8L148.8 125.3L152.9 124.3L154.7 123.8L156.4 123.0L158.0 122.2L158.9 121.6L159.9 120.7L160.6 119.8L161.1 119.1L161.5 118.1L161.6 116.9L161.5 115.7L161.2 114.6L160.8 113.4L160.2 112.2L159.1 110.5L155.6 105.8L150.6 99.6L148.8 97.6L147.0 95.8L145.3 94.4L144.1 93.6L142.4 92.7L141.2 92.4L140.0 92.3L138.9 92.4L137.7 92.7L136.5 93.2L135.3 93.9L134.2 94.8L131.8 97.0L127.7 101.7L124.0 106.4L121.8 109.3L120.6 111.1L119.6 112.8L118.8 114.6L118.5 115.7L118.4 116.9L118.5 117.5L118.8 118.7L119.0 119.3L119.5 120.0L120.4 121.0L122.0 122.2L124.3 123.4L125.9 123.9L127.7 124.5L131.2 125.3Z" fill="#c2df23"/>
<path d="M138.9 123.4L142.4 123.3L145.9 122.9L149.3 122.2L151.7 121.3L152.9 120.7L154.1 120.0L154.9 119.3L155.5 118.7L156.2 117.5L156.5 116.9L156.7 115.7L156.7 114.6L156.5 113.4L156.1 112.2L155.3 110.5L153.5 107.5L150.6 103.6L147.6 100.4L145.3 98.4L144.1 97.7L142.9 97.1L141.8 96.7L140.6 96.5L139.4 96.5L138.3 96.7L137.1 97.1L135.9 97.7L134.8 98.4L133.6 99.4L131.2 101.6L129.5 103.6L127.8 105.8L125.4 109.3L124.4 111.1L123.9 112.2L123.5 113.4L123.3 114.6L123.3 115.7L123.4 116.3L123.6 117.1L124.1 118.1L124.6 118.7L125.4 119.5L127.1 120.7L129.5 121.8L132.4 122.6L135.3 123.1Z" fill="#dde318"/>
<path d="M138.3 119.9L140.6 119.9L142.9 119.7L145.3 119.3L147.1 118.7L148.8 117.7L150.0 116.7L150.6 116.0L151.0 115.2L151.2 114.0L151.2 112.2L150.7 110.5L149.5 108.1L148.2 106.3L146.5 104.4L144.7 102.9L142.9 101.9L141.2 101.4L139.4 101.3L137.7 101.7L135.9 102.5L134.2 103.8L132.3 105.8L130.6 108.1L129.4 110.5L128.9 112.2L128.8 114.0L129.1 115.2L129.7 116.3L130.9 117.5L132.4 118.4L134.2 119.1L135.9 119.6Z" fill="#f6e620"/>
</g>
<path d="M52.25 150.9L227.8 150.9L227.8 92.3L168.69 92.3L168.69 33.7L111.35 33.7L111.35 92.3L52.25 92.3Z" fill="none" stroke="#111" stroke-width="0.3"/>
<rect x="45.75" y="33.7" width="188.25" height="117.2" fill="none" stroke="#333" stroke-width="0.6"/>
<path d="M81.50 150.9v-2.2M81.50 33.7v2.2M140.02 150.9v-2.2M140.02 33.7v2.2M198.54 150.9v-2.2M198.54 33.7v2.2M52.25 150.9v-1.3M52.25 33.7v1.3M227.80 150.9v-1.3M227.80 33.7v1.3M45.75 150.90h2.2M234 150.90h-2.2M45.75 121.60h2.2M234 121.60h-2.2M45.75 92.30h2.2M234 92.30h-2.2M45.75 63.00h2.2M234 63.00h-2.2M45.75 33.70h2.2M234 33.70h-2.2" stroke="#333" stroke-width="0.6" fill="none"/>
<g font-size="9" fill="#222" stroke="#222" stroke-width="0.12">
<text x="81.5" y="161.3" text-anchor="middle">-50</text>
<text x="140.0" y="161.3" text-anchor="middle">0</text>
<text x="198.5" y="161.3" text-anchor="middle">50</text>
<text x="43.0" y="153.9" text-anchor="end">-25</text>
<text x="43.0" y="124.6" text-anchor="end">0</text>
<text x="43.0" y="95.3" text-anchor="end">25</text>
<text x="43.0" y="66.0" text-anchor="end">50</text>
<text x="43.0" y="36.7" text-anchor="end">75</text>
</g>
<text x="147.1" y="175.6" text-anchor="middle" font-size="11.2" letter-spacing="0.45" fill="#222" stroke="#222" stroke-width="0.2"><tspan font-style="italic">x</tspan> (<tspan font-style="italic">μ</tspan>m)</text>
<text transform="translate(19.8 92.2) rotate(-90)" text-anchor="middle" font-size="11.2" letter-spacing="0.45" fill="#222" stroke="#222" stroke-width="0.2"><tspan font-style="italic">y</tspan> (<tspan font-style="italic">μ</tspan>m)</text>
<text x="11.3" y="21.5" font-size="15" fill="#222" stroke="#222" stroke-width="0.15">(a)</text>
<text x="203.4" y="47.6" text-anchor="middle" font-size="11.8" fill="#222" stroke="#222" stroke-width="0.2">Type 2</text>
<text x="173.8" y="62.9" font-size="8.9" fill="#222" stroke="#222" stroke-width="0.15"><tspan font-style="italic">Q</tspan> = 10<tspan font-style="italic">μ</tspan>L/min</text>
<text x="173.8" y="72.2" font-size="8.9" fill="#222" stroke="#222" stroke-width="0.15"><tspan font-style="italic">U</tspan><tspan font-style="italic" font-size="7.3">max</tspan>=0.037 m/s</text>
<clipPath id="cb"><path d="M303.65 151L479.92 151L479.92 114.57L420.58 114.57L420.58 33.5L362.99 33.5L362.99 114.57L303.65 114.57Z"/></clipPath>
<g clip-path="url(#cb)">
<path d="M303.65 151L479.92 151L479.92 114.57L420.58 114.57L420.58 33.5L362.99 33.5L362.99 114.57L303.65 114.57Z" fill="#460b5e"/>
<path d="M340.1 149.8L351.8 150.1L365.9 150.2L409.4 150.3L432.3 150.1L460.5 149.4L467.6 149.1L470.5 148.8L472.3 148.5L473.8 148.1L475.0 147.5L475.8 146.8L476.4 146.0L477.0 144.8L477.4 143.4L477.9 139.8L478.0 136.9L478.1 133.4L477.9 126.9L477.6 123.3L477.0 120.8L476.2 119.3L475.7 118.7L474.6 117.9L473.5 117.4L471.5 116.9L468.8 116.6L465.8 116.3L460.5 116.1L449.4 115.9L425.3 115.2L421.2 114.9L420.6 114.8L420.3 114.6L420.1 112.2L420.0 107.5L419.9 58.2L419.6 40.5L419.4 35.8L418.9 32.3L418.6 31.1L418.2 30.4L417.6 29.6L417.1 29.0L415.9 28.5L414.7 28.1L412.9 27.8L410.0 27.6L400.6 27.3L387.7 27.2L378.3 27.4L371.8 27.7L370.0 27.9L368.3 28.3L366.9 28.8L366.1 29.4L365.6 30.0L365.3 30.6L364.8 31.7L364.6 32.9L364.2 36.4L363.9 41.1L363.7 58.8L363.5 106.9L363.4 112.2L363.2 114.6L363.0 114.8L362.4 114.9L358.3 115.2L334.2 115.9L322.4 116.1L315.4 116.5L312.1 116.9L309.8 117.5L308.3 118.3L307.8 118.8L307.2 119.5L306.7 120.5L306.3 121.6L305.8 124.6L305.5 129.8L305.5 135.7L305.8 140.4L306.2 143.4L306.6 144.8L307.0 145.7L307.9 146.9L308.9 147.7L310.7 148.3L312.5 148.7L315.4 149.1L321.9 149.4Z" fill="#481a6c"/>
<path d="M353.0 149.2L374.7 149.6L402.4 149.6L427.6 149.3L437.6 148.9L449.4 148.2L460.5 147.7L464.1 147.4L467.0 147.0L469.8 146.3L471.7 145.5L473.0 144.5L473.6 143.9L474.3 142.8L474.9 141.6L475.2 140.4L475.6 138.7L475.9 136.3L476.0 134.0L476.0 131.6L475.7 127.5L475.2 125.2L474.9 124.0L474.3 122.8L473.6 121.6L473.0 121.0L472.3 120.5L471.3 119.9L469.8 119.3L468.2 118.8L465.8 118.4L463.5 118.1L459.4 117.8L449.4 117.3L425.3 115.9L422.9 115.6L421.2 115.3L420.6 115.1L420.1 114.6L419.8 113.4L419.7 112.2L419.5 106.9L419.2 59.3L419.0 48.8L418.7 41.7L418.2 37.0L417.9 35.3L417.4 33.5L416.9 32.3L416.0 31.1L415.3 30.5L414.4 30.0L412.9 29.4L411.2 29.0L408.8 28.6L405.3 28.3L395.9 28.0L385.3 28.0L378.3 28.3L375.3 28.6L373.0 28.9L371.2 29.3L370.0 29.6L368.9 30.1L367.7 31.0L367.1 31.7L366.5 32.6L366.0 34.1L365.7 35.3L365.1 38.8L364.8 44.1L364.5 51.1L364.3 61.7L364.1 106.9L363.9 112.2L363.8 113.4L363.5 114.6L363.0 115.1L362.4 115.3L360.6 115.6L358.3 115.9L334.2 117.3L323.6 117.8L320.2 118.1L317.7 118.4L314.8 119.0L313.6 119.3L312.3 119.9L311.3 120.5L310.6 121.0L310.0 121.6L309.2 122.8L308.7 124.0L308.3 125.2L308.0 126.9L307.8 128.7L307.6 131.0L307.6 133.4L307.8 137.5L308.3 140.4L308.7 141.6L309.2 142.8L310.0 143.9L310.6 144.5L311.9 145.5L313.6 146.3L315.4 146.8L317.7 147.2L320.7 147.5L325.4 147.8L334.2 148.2L346.0 148.9Z" fill="#482677"/>
<path d="M365.9 148.7L384.7 148.9L410.0 148.8L428.8 148.4L433.5 148.1L438.2 147.8L450.0 146.6L459.4 145.8L462.9 145.3L465.2 144.8L467.9 143.9L469.0 143.4L469.9 142.8L470.6 142.2L471.5 141.0L472.4 139.2L473.1 136.9L473.5 133.9L473.5 132.2L473.4 130.4L472.9 127.6L472.2 125.7L471.7 124.8L471.1 124.0L469.9 122.8L469.0 122.2L467.9 121.6L466.3 121.0L464.6 120.6L460.5 119.9L457.0 119.5L450.0 119.0L438.2 117.7L424.7 116.5L422.3 116.0L421.2 115.7L420.6 115.5L419.7 114.6L419.4 113.4L419.2 111.6L418.9 106.9L418.5 60.5L418.2 50.2L417.8 42.9L417.4 40.0L417.0 37.6L416.5 35.6L415.9 34.2L415.0 32.9L414.1 32.0L412.9 31.2L411.8 30.7L410.0 30.1L407.7 29.7L405.3 29.4L401.8 29.1L393.5 28.8L384.7 28.9L378.9 29.3L376.5 29.6L374.2 30.0L372.4 30.5L371.2 30.9L370.0 31.6L369.1 32.3L368.3 33.2L367.7 34.2L367.1 35.6L366.7 37.0L366.1 40.5L365.6 45.8L365.2 52.9L365.0 62.9L364.6 106.3L364.4 111.6L364.2 113.4L363.8 114.6L363.0 115.5L362.4 115.7L361.2 116.0L358.9 116.5L345.4 117.7L333.6 119.0L324.8 119.7L321.9 120.0L319.5 120.5L316.6 121.3L315.4 121.8L314.2 122.4L313.0 123.4L312.5 124.0L311.7 125.2L311.1 126.3L310.7 127.6L310.4 129.3L310.1 132.2L310.2 135.1L310.5 136.9L310.7 138.1L311.4 139.8L311.9 140.7L312.5 141.6L313.0 142.2L314.2 143.2L316.0 144.1L317.7 144.7L319.5 145.1L322.4 145.6L325.4 145.9L333.6 146.6L343.6 147.6L349.5 148.1L355.4 148.4Z" fill="#46337f"/>
<path d="M378.9 148.1L400.0 148.1L415.9 147.9L430.0 147.3L434.7 146.9L439.4 146.4L450.0 144.7L458.2 143.7L461.1 143.1L463.5 142.5L464.6 142.0L465.8 141.4L467.0 140.6L467.8 139.8L468.3 139.2L469.1 138.1L469.6 136.9L470.0 135.7L470.3 134.0L470.3 131.6L470.0 129.8L469.3 128.0L468.3 126.3L467.2 125.2L465.8 124.2L464.2 123.4L461.7 122.6L458.2 121.9L450.0 120.9L438.2 118.9L426.5 117.4L424.1 117.0L422.3 116.6L420.6 115.9L420.0 115.4L419.4 114.6L419.0 113.4L418.7 111.6L418.4 106.9L418.2 98.7L418.0 71.1L417.8 59.9L417.4 50.0L417.1 45.8L416.7 42.9L416.2 40.0L415.6 37.6L414.9 35.8L414.1 34.5L412.9 33.3L411.8 32.4L410.4 31.7L408.2 31.0L405.9 30.5L402.9 30.1L399.4 29.8L395.9 29.7L391.8 29.6L387.7 29.7L384.1 29.8L380.6 30.1L376.5 30.8L374.7 31.2L373.0 31.8L371.8 32.4L370.6 33.3L369.8 34.1L368.9 35.5L368.0 37.6L367.2 40.5L366.7 44.1L366.3 48.8L365.9 55.6L365.7 64.6L365.4 99.9L365.2 107.5L365.0 111.0L364.6 113.4L364.2 114.6L363.6 115.4L363.0 115.9L361.8 116.4L360.6 116.8L358.3 117.2L345.4 118.9L333.0 120.9L326.0 121.8L323.4 122.2L321.3 122.7L319.5 123.3L318.1 124.0L317.1 124.6L316.0 125.5L315.2 126.3L314.5 127.5L313.9 128.7L313.6 129.8L313.3 132.2L313.4 134.6L313.6 135.7L313.9 136.9L314.8 138.7L315.7 139.8L317.2 141.0L318.9 142.0L321.3 142.8L323.5 143.4L326.0 143.8L333.0 144.6L343.6 146.3L350.1 147.1L354.8 147.4L363.0 147.7Z" fill="#424086"/>
<path d="M365.3 146.9L373.6 147.2L381.8 147.3L404.1 147.3L418.8 146.9L428.2 146.4L432.9 146.0L436.4 145.5L440.6 144.7L450.5 142.4L456.4 141.3L459.4 140.5L461.7 139.5L463.5 138.3L464.8 136.9L465.2 136.2L465.7 135.1L466.0 134.0L466.1 132.2L465.9 131.0L465.5 129.8L464.8 128.7L463.7 127.5L462.3 126.4L461.0 125.7L459.4 125.1L457.0 124.4L450.0 123.1L439.3 120.5L434.1 119.5L426.5 118.2L424.1 117.7L422.3 117.2L420.6 116.4L419.7 115.8L419.2 115.2L418.9 114.6L418.5 113.4L418.2 111.6L417.9 109.3L417.8 106.3L417.6 99.3L417.3 74.6L417.1 62.3L416.7 52.3L416.4 48.8L416.0 45.2L415.5 42.3L415.0 40.0L414.3 38.2L413.5 36.5L412.6 35.3L411.4 34.1L410.0 33.2L408.2 32.4L406.5 31.9L404.1 31.4L401.8 31.0L398.8 30.8L392.4 30.5L388.8 30.5L385.3 30.7L380.6 31.2L378.3 31.6L376.5 32.0L374.7 32.7L373.6 33.2L372.2 34.1L371.2 35.0L370.5 35.8L369.8 37.0L369.2 38.2L368.6 40.0L368.2 41.7L367.7 44.1L367.1 49.6L366.7 56.4L366.4 65.8L366.0 98.7L365.8 105.8L365.6 109.3L365.4 111.6L365.1 113.4L364.7 114.6L364.3 115.2L363.8 115.8L363.0 116.4L361.2 117.2L359.5 117.7L357.1 118.2L349.5 119.5L344.3 120.5L333.0 123.2L327.1 124.3L324.2 125.1L321.9 126.1L320.1 127.3L318.8 128.7L318.3 129.4L317.9 130.4L317.6 131.6L317.5 133.4L317.9 135.1L318.4 136.3L319.3 137.5L320.6 138.7L322.4 139.8L324.1 140.4L327.1 141.3L333.0 142.4L342.1 144.5L347.7 145.6L354.2 146.3Z" fill="#3e4c8a"/>
<path d="M373.0 146.3L380.0 146.5L388.8 146.6L407.1 146.4L413.5 146.2L420.0 145.9L428.2 145.3L431.7 144.9L437.0 144.0L441.4 142.8L444.9 141.6L451.7 138.9L454.3 138.1L455.8 137.4L457.7 136.3L458.8 135.1L459.5 134.0L459.6 133.4L459.6 132.2L459.2 131.0L458.3 129.8L457.7 129.3L456.8 128.7L455.8 128.1L454.4 127.5L450.5 126.2L443.5 123.4L440.0 122.2L435.6 121.0L426.5 119.1L423.5 118.3L421.8 117.7L420.6 117.0L419.4 116.1L418.7 115.2L418.2 114.0L417.7 112.2L417.4 109.9L417.2 106.9L417.0 99.9L416.6 75.2L416.3 62.9L415.8 52.9L415.4 48.8L415.0 45.8L414.5 42.9L413.8 40.5L412.9 38.5L412.0 37.0L411.0 35.8L409.4 34.6L407.7 33.7L405.5 32.9L403.5 32.4L401.2 32.0L398.8 31.7L395.9 31.5L390.0 31.4L387.1 31.6L384.1 31.8L380.0 32.4L378.1 32.9L376.3 33.5L374.7 34.2L373.6 35.0L372.6 35.8L371.8 36.7L370.8 38.2L370.2 39.4L369.3 42.3L368.4 46.4L367.8 51.7L367.4 58.2L367.1 67.0L366.6 98.7L366.4 105.8L366.3 108.7L366.0 111.0L365.7 112.8L365.1 114.6L364.4 115.8L363.6 116.6L362.4 117.4L360.6 118.1L357.7 119.0L348.9 120.8L343.6 122.2L340.0 123.4L333.0 126.2L328.9 127.6L327.1 128.4L325.9 129.3L324.7 130.4L324.1 131.6L323.9 132.2L324.0 133.4L324.4 134.6L325.2 135.7L326.8 136.9L327.9 137.5L329.3 138.1L331.9 138.9L338.7 141.6L342.2 142.8L344.8 143.5L347.7 144.2L350.7 144.7L353.5 145.1L363.6 145.9Z" fill="#39568c"/>
<path d="M385.9 145.7L400.6 145.7L411.8 145.4L418.2 145.0L427.0 144.2L429.6 143.9L432.3 143.5L435.4 142.8L439.1 141.6L441.9 140.4L444.1 139.2L445.9 138.1L447.9 136.3L448.9 135.1L449.3 134.6L449.7 133.4L449.7 132.2L449.6 131.6L449.0 130.4L448.5 129.8L447.4 128.7L446.0 127.5L443.3 125.7L439.7 124.0L436.5 122.8L432.7 121.6L425.9 119.9L422.9 118.9L421.2 118.1L420.0 117.3L419.0 116.3L418.2 115.2L417.7 114.0L417.2 112.2L416.8 109.9L416.6 106.9L416.3 99.9L415.9 74.0L415.5 61.7L415.2 56.4L414.8 51.7L414.3 47.6L413.7 44.7L412.8 41.7L411.8 39.4L410.5 37.6L410.0 37.0L408.8 36.0L407.1 34.9L404.7 34.0L401.8 33.3L398.2 32.7L393.5 32.4L388.8 32.5L384.1 32.9L380.6 33.5L377.7 34.4L376.5 34.9L375.3 35.6L373.6 37.0L372.2 38.8L371.5 40.0L371.0 41.1L370.4 42.9L369.9 44.7L369.1 48.8L368.5 54.1L368.1 60.5L367.8 69.3L367.3 98.1L367.1 105.2L366.9 108.7L366.6 111.0L366.3 112.8L365.7 114.6L365.0 115.8L364.2 116.8L363.0 117.7L361.2 118.7L358.3 119.7L350.9 121.6L347.0 122.8L343.9 124.0L340.3 125.7L337.6 127.5L335.6 129.3L334.6 130.4L334.3 131.0L333.9 132.2L333.9 133.4L334.0 134.0L334.7 135.1L335.6 136.3L337.7 138.1L340.6 139.8L343.0 141.0L346.0 142.1L348.3 142.8L351.2 143.5L354.2 144.0L364.2 144.9L374.2 145.5Z" fill="#34618d"/>
<path d="M374.7 144.6L381.8 144.8L389.4 144.9L398.2 144.8L405.3 144.7L411.2 144.4L416.5 144.1L428.5 142.8L431.6 142.2L434.1 141.5L436.9 140.4L439.2 139.2L440.9 138.1L442.2 136.9L443.2 135.7L443.8 134.6L444.0 134.0L444.2 132.8L444.2 132.2L443.9 131.0L443.6 130.4L443.3 129.8L442.4 128.7L440.4 126.9L437.6 125.2L435.1 124.0L431.9 122.8L425.3 120.7L423.5 120.1L421.8 119.2L420.0 118.1L418.8 117.0L417.9 115.8L417.3 114.6L416.7 112.8L416.4 111.0L416.1 108.7L415.8 105.8L415.6 98.1L415.1 74.0L414.8 64.0L414.5 58.8L414.1 54.1L413.7 50.5L413.2 47.6L412.5 44.7L411.6 42.3L410.6 40.2L409.4 38.6L408.2 37.5L406.5 36.3L404.4 35.3L401.8 34.5L400.0 34.1L397.7 33.7L393.0 33.4L388.3 33.5L385.9 33.7L383.6 34.1L381.8 34.5L380.0 35.0L378.3 35.7L377.1 36.3L375.9 37.0L374.7 38.0L374.0 38.8L373.2 40.0L372.5 41.1L371.8 42.6L370.8 45.8L370.0 50.0L369.3 55.2L368.9 61.7L368.5 69.9L368.0 98.1L367.8 104.6L367.6 108.1L367.3 110.5L367.0 112.2L366.5 114.0L365.7 115.8L364.8 117.0L363.6 118.1L361.8 119.2L360.1 120.1L358.3 120.7L351.7 122.8L348.9 123.8L346.0 125.2L344.0 126.3L342.4 127.5L341.2 128.7L340.3 129.8L339.7 131.0L339.5 131.6L339.4 132.8L339.4 133.4L339.7 134.6L340.4 135.7L341.4 136.9L342.7 138.1L344.4 139.2L346.5 140.3L348.2 141.0L349.9 141.6L352.0 142.2L355.9 142.9L365.9 144.0Z" fill="#2f6c8e"/>
<path d="M385.3 144.0L398.8 143.9L409.4 143.6L418.2 142.8L428.2 141.3L430.6 140.8L432.9 140.0L434.6 139.2L436.5 138.1L437.9 136.9L438.9 135.7L439.6 134.6L439.9 133.4L440.0 132.8L439.9 131.6L439.5 130.4L438.8 129.3L438.3 128.7L437.1 127.5L435.9 126.6L434.5 125.7L432.2 124.6L429.4 123.4L425.3 121.9L423.5 121.1L421.8 120.2L420.0 119.0L418.8 117.9L417.6 116.4L416.9 115.2L416.3 113.4L415.9 111.6L415.5 109.3L415.2 106.3L414.9 99.9L414.4 75.8L414.0 64.0L413.6 58.8L413.1 54.1L412.5 50.0L411.9 47.0L410.9 44.1L409.8 41.7L408.6 40.0L407.7 39.0L406.7 38.2L404.7 36.9L402.4 36.0L399.4 35.2L395.9 34.7L391.8 34.5L387.8 34.7L384.1 35.2L381.2 36.0L378.7 37.0L377.7 37.6L376.5 38.5L375.0 40.0L374.2 41.1L373.6 42.1L372.4 44.7L371.4 48.2L370.6 52.5L370.0 57.7L369.6 64.0L369.3 71.7L368.7 97.5L368.5 104.0L368.0 109.9L367.6 112.2L367.1 114.0L366.3 115.8L365.3 117.2L364.2 118.5L362.4 119.8L359.5 121.4L351.4 124.6L349.1 125.7L347.2 126.9L345.8 128.1L344.8 129.3L344.1 130.4L343.8 131.0L343.6 132.2L343.6 133.4L344.0 134.6L344.6 135.7L345.6 136.9L347.1 138.1L349.0 139.2L350.7 140.0L353.0 140.8L354.8 141.2L356.8 141.6L363.6 142.6L368.3 143.1L375.9 143.7Z" fill="#2b758e"/>
<path d="M378.3 142.8L383.6 143.0L390.0 143.1L396.5 143.1L402.4 142.9L407.1 142.7L411.8 142.3L415.9 141.9L419.4 141.3L427.6 139.8L429.4 139.2L431.2 138.5L433.0 137.5L434.4 136.3L435.4 135.1L435.7 134.6L436.1 133.4L436.2 132.2L436.0 131.0L435.7 130.4L435.0 129.3L433.9 128.1L432.5 126.9L430.6 125.7L424.1 122.6L421.8 121.3L420.6 120.5L418.8 118.9L417.6 117.6L416.8 116.3L416.0 114.6L415.5 112.8L415.1 111.0L414.8 108.7L414.5 105.8L414.2 99.3L413.7 77.0L413.2 66.4L412.9 61.7L412.5 57.0L411.9 52.9L411.4 50.0L410.6 47.0L409.7 44.7L408.5 42.3L407.1 40.5L405.3 39.0L403.5 38.0L401.2 37.0L398.2 36.2L394.7 35.8L390.6 35.7L388.3 35.8L386.5 36.0L384.7 36.4L383.0 36.8L381.2 37.4L380.0 38.0L378.9 38.6L377.8 39.4L377.1 40.0L375.9 41.2L375.1 42.3L374.4 43.5L373.8 44.7L373.2 46.4L372.2 50.0L371.4 54.1L370.8 59.3L370.4 65.2L370.0 72.6L369.4 97.5L369.2 104.0L368.7 109.3L368.4 111.6L367.9 113.4L367.3 115.2L366.5 116.7L365.3 118.3L364.2 119.5L362.4 120.9L360.6 122.0L358.3 123.2L354.1 125.2L351.1 126.9L349.6 128.1L348.6 129.3L347.9 130.4L347.5 131.6L347.4 132.8L347.6 134.0L348.2 135.1L348.6 135.7L349.8 136.9L350.7 137.6L352.4 138.5L354.2 139.2L355.9 139.8L359.1 140.4L365.8 141.6L371.8 142.3Z" fill="#277f8e"/>
<path d="M376.5 141.6L381.2 141.9L385.9 142.1L397.1 142.1L401.8 141.9L406.5 141.7L410.6 141.3L414.1 140.9L417.6 140.3L421.8 139.4L425.3 138.4L428.0 137.5L429.4 136.8L430.8 135.7L431.8 134.6L432.3 133.3L432.5 132.2L432.3 131.0L431.7 129.8L430.8 128.7L429.5 127.5L428.7 126.9L422.3 123.0L420.6 121.7L419.4 120.7L418.2 119.5L417.1 118.0L416.1 116.3L415.3 114.6L414.8 112.8L414.4 111.0L414.1 108.7L413.8 105.8L413.4 99.3L412.9 78.1L412.4 67.0L412.1 62.3L411.6 58.2L411.2 54.6L410.5 51.1L409.7 48.2L408.8 45.8L407.5 43.5L406.1 41.7L405.3 41.0L404.1 40.0L402.4 39.0L400.0 38.1L397.7 37.4L394.1 37.0L392.4 36.9L390.0 36.9L386.5 37.3L384.7 37.7L383.1 38.2L381.8 38.7L380.5 39.4L379.4 40.0L378.3 41.0L377.5 41.7L376.5 42.9L375.7 44.1L375.1 45.2L373.9 48.2L373.0 51.6L372.2 55.8L371.7 60.5L371.2 66.4L370.9 73.5L370.2 97.5L369.9 104.0L369.4 109.3L369.0 111.6L368.6 113.4L368.0 115.2L367.1 117.0L365.9 118.8L364.8 120.1L363.0 121.7L361.2 123.0L359.5 124.1L355.8 126.3L353.6 127.9L352.8 128.7L351.9 129.8L351.3 131.0L351.2 131.6L351.1 132.8L351.3 133.4L351.8 134.6L352.2 135.1L353.5 136.3L354.4 136.9L355.6 137.5L359.2 138.7L365.3 140.1L370.6 141.0Z" fill="#23888e"/>
<path d="M384.7 141.0L393.5 141.1L401.8 140.9L408.8 140.3L412.3 139.8L414.7 139.4L417.6 138.7L419.9 138.1L422.3 137.2L424.4 136.3L425.9 135.5L427.1 134.6L427.7 134.0L428.1 133.4L428.3 132.8L428.4 132.2L428.4 131.6L428.1 130.4L427.6 129.7L426.8 128.7L424.9 126.9L420.0 122.7L418.2 120.9L417.1 119.4L415.9 117.5L415.0 115.8L414.4 114.0L413.9 112.2L413.3 108.1L412.8 102.8L412.0 75.8L411.6 69.3L411.3 64.0L410.8 59.3L410.1 55.2L409.4 51.7L408.5 48.8L407.7 46.8L406.4 44.7L405.0 42.9L403.5 41.6L401.8 40.4L399.4 39.4L397.1 38.7L394.1 38.3L390.6 38.2L387.7 38.5L384.7 39.2L382.4 40.1L381.2 40.7L380.0 41.6L378.3 43.2L376.8 45.2L375.6 47.6L374.5 50.5L373.6 54.1L373.0 58.2L372.4 63.2L372.0 68.8L371.6 75.2L370.7 102.8L370.2 108.7L369.9 111.0L369.5 112.8L368.8 115.2L368.0 116.9L367.1 118.5L366.2 119.9L364.8 121.5L363.6 122.7L358.6 126.9L356.7 128.7L355.9 129.7L355.5 130.4L355.2 131.6L355.3 132.8L355.5 133.4L355.9 134.0L357.2 135.1L358.1 135.7L360.1 136.7L363.6 138.1L368.1 139.2L373.0 140.1L378.3 140.7Z" fill="#20928c"/>
<path d="M383.0 139.9L391.2 140.1L399.4 139.9L406.5 139.4L411.8 138.6L414.1 138.0L416.5 137.3L418.8 136.4L420.3 135.7L421.8 134.8L422.7 134.0L423.5 132.8L423.9 131.6L423.9 131.0L423.7 129.8L422.8 128.1L421.5 126.3L417.6 121.8L416.5 120.2L415.5 118.7L414.7 116.9L414.0 115.2L413.4 113.4L413.0 111.6L412.4 107.5L412.0 102.2L411.1 77.6L410.5 66.4L410.0 61.7L409.4 57.6L408.7 54.1L407.9 51.1L407.0 48.8L405.8 46.4L404.5 44.7L402.9 43.1L401.2 41.9L398.8 40.8L396.5 40.1L394.1 39.7L391.2 39.6L389.4 39.7L387.8 40.0L385.3 40.6L383.9 41.1L382.7 41.7L381.7 42.3L380.6 43.1L378.9 44.9L377.5 47.0L376.8 48.2L376.1 50.0L375.2 52.9L374.4 56.4L373.7 60.5L373.2 65.2L372.8 70.5L372.5 77.0L371.6 102.2L371.2 107.5L370.5 111.6L370.1 113.4L369.6 115.2L368.9 116.9L368.0 118.7L367.1 120.2L365.9 121.8L362.1 126.3L360.8 128.1L359.9 129.8L359.6 131.0L359.8 132.2L360.0 132.8L360.9 134.0L361.8 134.8L363.3 135.7L365.9 136.9L369.5 138.0L373.0 138.8L377.7 139.4Z" fill="#1e9c89"/>
<path d="M383.0 138.7L390.0 139.0L397.7 138.9L404.1 138.4L406.5 138.1L409.4 137.6L412.2 136.9L414.0 136.3L415.5 135.7L417.1 134.9L418.4 134.0L419.4 132.9L419.9 132.2L420.3 131.0L420.4 130.4L420.3 129.3L419.7 127.5L418.7 125.7L415.3 120.2L413.7 116.9L412.8 114.0L412.0 110.5L411.5 106.3L411.1 101.7L410.3 78.7L409.6 68.2L409.2 64.0L408.6 59.9L408.0 56.4L407.2 53.5L406.4 51.1L405.3 48.7L404.1 46.8L403.3 45.8L402.4 44.9L400.6 43.5L398.8 42.6L396.5 41.7L394.1 41.3L391.2 41.1L388.3 41.5L387.1 41.7L385.3 42.3L384.1 42.8L383.0 43.5L381.2 44.9L380.3 45.8L379.3 47.0L377.9 49.4L376.7 52.3L375.9 55.2L375.1 58.8L374.5 62.9L374.0 67.6L373.3 78.1L372.4 101.7L372.0 106.9L371.5 111.0L370.6 114.6L369.5 117.8L367.7 121.3L364.2 126.9L363.4 128.7L363.2 129.8L363.3 131.0L363.4 131.6L363.7 132.2L364.2 132.9L365.2 134.0L366.0 134.6L368.1 135.7L371.2 136.8L374.2 137.6L378.3 138.2Z" fill="#21a585"/>
<path d="M383.6 137.5L390.0 137.8L397.1 137.7L402.9 137.2L405.3 136.9L408.1 136.3L410.3 135.7L411.9 135.1L413.2 134.6L414.7 133.7L415.8 132.8L416.5 132.0L417.1 131.0L417.4 129.8L417.4 128.7L417.1 126.9L416.1 124.6L413.6 119.3L412.7 116.9L411.7 113.4L411.1 109.9L410.6 106.3L410.3 101.7L409.4 80.5L408.8 70.5L408.3 65.8L407.8 62.3L407.2 58.8L406.5 55.8L405.5 52.9L404.5 50.5L403.0 48.2L401.8 46.7L400.0 45.2L398.2 44.2L395.9 43.3L393.5 42.9L392.4 42.8L390.6 42.9L388.3 43.2L385.9 44.0L384.7 44.5L383.5 45.2L381.8 46.7L381.0 47.6L380.0 48.9L379.4 50.0L378.5 51.7L377.4 54.6L376.6 57.6L375.9 61.2L375.3 65.3L374.9 69.9L374.2 79.9L373.3 101.7L372.9 106.3L372.5 109.9L371.8 113.4L370.8 116.9L369.7 119.9L366.9 125.7L366.3 127.5L366.2 128.7L366.2 129.8L366.3 130.4L366.5 131.0L367.1 132.0L367.8 132.8L368.4 133.4L370.3 134.6L373.0 135.6L375.9 136.4L379.4 137.1Z" fill="#28ae80"/>
<path d="M385.3 136.3L391.2 136.5L397.7 136.4L402.9 135.8L405.3 135.4L407.1 134.9L408.8 134.4L410.6 133.6L411.8 132.9L412.8 132.2L413.5 131.5L414.2 130.4L414.7 129.3L414.9 128.1L414.7 126.3L414.3 124.6L412.0 118.1L411.0 114.6L410.4 111.6L410.0 108.7L409.6 105.2L409.3 100.5L408.4 81.1L407.8 72.3L407.0 64.6L406.4 61.1L405.7 58.2L404.8 55.2L403.9 52.9L402.6 50.5L401.2 48.7L399.4 47.1L397.7 46.0L396.5 45.5L395.3 45.1L393.0 44.7L391.2 44.7L390.0 44.8L387.7 45.3L386.5 45.8L385.3 46.4L383.6 47.6L381.9 49.4L380.6 51.2L379.4 53.5L378.3 56.7L377.6 59.3L376.9 62.9L376.4 66.4L375.9 71.1L375.2 80.5L374.3 101.1L373.9 105.8L373.5 109.3L372.9 112.8L372.2 115.8L371.3 118.7L369.4 124.0L368.9 125.7L368.7 126.9L368.8 128.7L369.1 129.8L369.3 130.4L370.0 131.5L370.6 132.1L371.6 132.8L372.5 133.4L374.7 134.4L377.7 135.2L381.2 135.9Z" fill="#37b878"/>
<path d="M388.8 135.1L394.1 135.2L398.8 134.9L402.9 134.2L404.7 133.8L406.5 133.3L408.9 132.2L410.0 131.4L411.1 130.4L411.8 129.5L412.2 128.7L412.5 127.5L412.6 126.3L412.5 125.2L412.2 123.4L410.4 116.3L409.7 113.4L408.9 108.1L408.3 101.1L407.4 82.3L406.8 74.0L406.4 69.9L405.9 66.0L405.3 62.7L404.7 60.1L403.8 57.0L402.8 54.6L401.5 52.3L400.0 50.3L398.2 48.8L396.5 47.8L394.7 47.1L393.5 46.9L392.4 46.7L391.2 46.7L390.0 46.9L388.8 47.1L387.7 47.5L385.9 48.4L384.1 49.8L383.4 50.5L382.4 51.7L381.2 53.7L380.0 56.3L379.1 59.3L378.3 62.7L377.7 65.8L377.2 69.3L376.8 73.5L376.2 82.3L375.2 101.1L374.6 108.7L373.7 114.0L373.0 116.9L371.5 122.8L371.1 124.6L371.0 125.7L371.1 127.5L371.4 128.7L371.7 129.3L372.4 130.3L373.0 130.9L373.8 131.6L374.7 132.2L375.9 132.8L377.4 133.4L380.6 134.2L384.1 134.8Z" fill="#48c16e"/>
<path d="M385.3 133.4L390.0 133.7L395.3 133.6L397.7 133.4L400.0 133.1L401.8 132.8L403.9 132.2L405.3 131.7L406.6 131.0L407.7 130.3L408.8 129.3L409.4 128.5L409.9 127.5L410.3 126.3L410.5 125.2L410.4 123.4L410.2 121.6L408.6 113.4L407.8 107.5L407.3 101.1L406.4 84.6L405.8 76.4L404.9 68.8L404.5 65.8L403.8 62.9L402.9 59.6L401.9 57.0L400.7 54.6L399.4 52.8L397.7 51.1L395.9 50.0L394.1 49.4L392.4 49.1L391.2 49.1L390.0 49.2L388.3 49.8L386.5 50.7L384.7 52.2L383.2 54.1L381.9 56.4L380.9 58.8L380.0 61.7L379.4 64.1L378.8 67.6L378.3 71.5L377.9 75.2L377.3 83.4L376.3 101.1L375.7 108.1L375.0 112.8L373.5 120.5L373.1 123.4L373.1 125.2L373.4 126.9L374.2 128.5L374.7 129.3L375.3 129.9L376.1 130.4L377.1 131.1L379.4 132.1L381.9 132.8Z" fill="#5cc863"/>
<path d="M385.3 131.7L387.7 132.0L390.0 132.1L392.4 132.1L394.7 132.1L398.8 131.6L400.6 131.2L402.4 130.6L404.1 129.9L405.2 129.3L405.9 128.7L407.0 127.5L407.7 126.5L408.0 125.7L408.3 124.6L408.5 123.4L408.5 121.6L408.3 119.9L407.0 110.5L406.4 104.6L405.2 85.2L404.6 77.6L403.8 71.1L402.9 65.8L402.1 62.9L401.2 60.0L400.0 57.5L398.8 55.7L397.4 54.1L395.9 53.0L394.1 52.1L392.4 51.8L390.6 51.9L388.8 52.4L387.1 53.3L385.6 54.6L384.1 56.5L383.0 58.7L382.0 61.1L381.1 64.0L380.0 69.1L379.1 75.8L378.4 84.0L377.5 99.9L377.1 105.8L376.4 111.6L375.2 120.5L375.1 122.8L375.2 124.0L375.4 125.2L375.8 126.3L376.1 126.9L377.0 128.1L378.4 129.3L379.4 129.8L380.6 130.4L383.0 131.2Z" fill="#73d056"/>
<path d="M386.5 129.9L390.0 130.3L392.4 130.4L394.1 130.3L397.7 129.8L399.4 129.4L401.2 128.8L402.4 128.2L403.5 127.5L404.2 126.9L405.2 125.7L405.5 125.2L406.0 124.0L406.3 122.8L406.5 121.6L406.6 119.9L406.5 117.5L405.1 104.0L403.5 81.3L402.8 74.6L401.8 68.7L401.1 65.8L400.1 62.9L399.4 61.1L398.2 59.1L397.1 57.6L396.5 57.0L395.3 56.1L394.1 55.4L393.5 55.2L392.4 55.0L390.6 55.1L389.4 55.4L388.6 55.8L387.8 56.4L386.5 57.6L385.3 59.1L384.1 61.2L383.0 64.0L382.2 67.0L381.1 72.3L380.6 75.8L380.2 79.9L379.5 87.5L378.4 104.0L377.1 117.5L377.0 119.9L377.1 122.2L377.5 124.0L378.1 125.2L378.4 125.7L379.4 126.9L380.0 127.4L381.8 128.5L383.7 129.3Z" fill="#8bd646"/>
<path d="M388.8 128.2L390.6 128.3L392.4 128.3L395.3 128.1L397.1 127.7L398.2 127.4L399.5 126.9L400.6 126.3L401.5 125.7L402.4 124.9L402.9 124.3L403.5 123.3L404.0 122.2L404.3 121.0L404.5 119.9L404.7 118.1L404.5 113.4L402.4 85.3L401.5 77.6L400.5 71.7L399.8 68.8L398.8 65.9L398.0 64.0L397.1 62.4L395.9 60.9L394.7 59.8L393.5 59.2L393.0 59.0L391.8 58.8L390.6 59.0L390.0 59.2L388.8 59.8L387.7 60.9L386.5 62.3L385.5 64.0L384.7 65.9L384.0 68.2L383.2 71.1L382.2 77.0L381.3 84.6L378.9 115.8L378.9 118.7L379.2 121.0L379.8 122.8L380.4 124.0L380.9 124.6L381.4 125.2L382.4 126.0L384.1 126.9L386.5 127.7Z" fill="#a8db34"/>
<path d="M389.4 125.8L390.6 125.9L392.4 125.9L394.7 125.7L397.1 125.0L398.2 124.5L399.4 123.7L400.0 123.2L400.9 122.2L401.8 120.6L402.4 118.7L402.7 115.8L402.7 112.8L402.5 108.7L401.2 91.2L400.2 82.3L399.7 78.7L399.2 75.8L398.5 72.9L397.7 70.3L396.7 68.2L395.9 66.7L395.3 65.8L394.1 64.7L393.0 64.0L391.8 63.8L390.6 64.0L389.4 64.7L388.3 65.8L387.7 66.7L386.8 68.2L385.9 70.3L385.3 72.1L384.7 74.6L384.1 77.1L383.6 80.7L382.7 87.5L381.8 98.4L380.9 112.2L380.9 115.8L381.1 118.1L381.5 119.9L382.0 121.0L382.4 121.8L383.6 123.2L384.5 124.0L385.3 124.5L387.1 125.2Z" fill="#c2df23"/>
<path d="M390.6 122.8L391.8 122.9L393.0 122.8L394.7 122.5L395.9 122.0L396.6 121.6L397.5 121.0L398.2 120.3L398.8 119.5L399.3 118.7L400.0 116.9L400.4 114.6L400.6 111.6L400.6 108.7L400.4 105.2L399.5 94.6L398.7 87.5L397.7 81.2L397.1 78.7L396.5 76.7L395.9 75.1L395.3 73.8L394.4 72.3L393.5 71.4L393.0 71.0L392.4 70.7L391.8 70.6L391.2 70.7L390.6 71.0L390.0 71.4L389.4 72.0L388.8 72.9L387.9 74.6L387.2 76.4L386.5 78.7L386.1 80.5L385.1 85.8L384.2 93.4L383.4 102.2L383.0 109.3L383.0 112.8L383.2 115.2L383.8 117.5L384.6 119.3L385.5 120.5L386.1 121.0L387.1 121.7L388.8 122.5Z" fill="#dde318"/>
<path d="M390.0 118.3L391.2 118.6L392.4 118.6L393.0 118.5L394.0 118.1L394.7 117.7L395.9 116.6L396.8 115.2L397.4 113.4L397.7 111.6L397.9 109.3L397.9 105.2L397.5 99.9L396.8 94.0L395.9 89.1L395.2 86.4L394.7 84.9L394.1 83.5L393.5 82.4L393.0 81.7L392.4 81.3L391.8 81.2L391.2 81.3L390.7 81.7L390.0 82.4L389.4 83.5L389.0 84.6L388.3 86.7L387.4 90.5L386.6 95.2L386.0 100.5L385.7 104.6L385.6 107.5L385.7 109.9L385.9 112.0L386.4 114.0L387.1 115.7L387.7 116.6L388.8 117.7Z" fill="#f6e620"/>
</g>
<path d="M303.65 151L479.92 151L479.92 114.57L420.58 114.57L420.58 33.5L362.99 33.5L362.99 114.57L303.65 114.57Z" fill="none" stroke="#111" stroke-width="0.3"/>
<rect x="297.5" y="33.5" width="188.5" height="117.5" fill="none" stroke="#333" stroke-width="0.6"/>
<path d="M333.03 151v-2.2M333.03 33.5v2.2M391.79 151v-2.2M391.79 33.5v2.2M450.54 151v-2.2M450.54 33.5v2.2M303.65 151v-1.3M303.65 33.5v1.3M479.92 151v-1.3M479.92 33.5v1.3M297.5 133.38h2.2M486 133.38h-2.2M297.5 109.88h2.2M486 109.88h-2.2M297.5 86.38h2.2M486 86.38h-2.2M297.5 62.88h2.2M486 62.88h-2.2M297.5 39.38h2.2M486 39.38h-2.2M297.5 145.12h1.3M486 145.12h-1.3M297.5 121.62h1.3M486 121.62h-1.3M297.5 98.12h1.3M486 98.12h-1.3M297.5 74.62h1.3M486 74.62h-1.3M297.5 51.12h1.3M486 51.12h-1.3" stroke="#333" stroke-width="0.6" fill="none"/>
<g font-size="9" fill="#222" stroke="#222" stroke-width="0.12">
<text x="333.0" y="161.4" text-anchor="middle">-50</text>
<text x="391.8" y="161.4" text-anchor="middle">0</text>
<text x="450.5" y="161.4" text-anchor="middle">50</text>
<text x="293.9" y="136.4" text-anchor="end">0</text>
<text x="293.9" y="112.9" text-anchor="end">20</text>
<text x="293.9" y="89.4" text-anchor="end">40</text>
<text x="293.9" y="65.9" text-anchor="end">60</text>
<text x="293.9" y="42.4" text-anchor="end">80</text>
</g>
<text x="398.9" y="175.7" text-anchor="middle" font-size="11.2" letter-spacing="0.45" fill="#222" stroke="#222" stroke-width="0.2"><tspan font-style="italic">x</tspan> (<tspan font-style="italic">μ</tspan>m)</text>
<text transform="translate(272.2 92.2) rotate(-90)" text-anchor="middle" font-size="11.2" letter-spacing="0.45" fill="#222" stroke="#222" stroke-width="0.2"><tspan font-style="italic">y</tspan> (<tspan font-style="italic">μ</tspan>m)</text>
<text x="264.3" y="21.3" font-size="15" fill="#222" stroke="#222" stroke-width="0.15">(b)</text>
<text x="455.4" y="47.4" text-anchor="middle" font-size="11.8" fill="#222" stroke="#222" stroke-width="0.2">Type 3</text>
<text x="424.8" y="62.5" font-size="8.9" fill="#222" stroke="#222" stroke-width="0.15"><tspan font-style="italic">Q</tspan> = 10<tspan font-style="italic">μ</tspan>L/min</text>
<text x="425.5" y="72.3" font-size="8.9" fill="#222" stroke="#222" stroke-width="0.15"><tspan font-style="italic">U</tspan><tspan font-style="italic" font-size="7.3">max</tspan>=0.038 m/s</text>
<clipPath id="cc"><path d="M52.25 313.5L227.8 313.5L227.8 255L168.69 255L168.69 196.5L111.35 196.5L111.35 255L52.25 255Z"/></clipPath>
<g clip-path="url(#cc)">
<path d="M52.25 313.5L227.8 313.5L227.8 255L168.69 255L168.69 196.5L111.35 196.5L111.35 255L52.25 255Z" fill="#3953a4"/>
<path d="M55.2 313.5L225.0 313.5L224.5 312.3L224.5 311.7L224.6 311.2L224.9 310.6L225.5 310.3L226.0 310.2L226.6 310.2L227.8 310.7L227.8 257.8L226.6 258.3L226.0 258.3L225.5 258.2L224.9 257.9L224.6 257.3L224.5 256.8L224.5 256.2L225.0 255.0L225.0 199.4L224.9 199.3L224.3 199.3L196.2 199.3L168.7 199.7L167.5 200.2L166.4 200.4L165.8 200.2L165.2 199.8L165.0 199.4L164.8 198.8L165.0 197.7L165.5 196.5L114.5 196.5L115.1 197.7L115.2 198.8L115.1 199.4L114.9 199.8L114.3 200.2L113.7 200.4L112.5 200.2L111.3 199.7L85.0 199.3L56.3 199.3L55.2 198.8L55.1 198.8L55.1 255.0L55.5 256.2L55.6 256.8L55.5 257.3L55.2 257.9L54.6 258.2L54.0 258.3L53.4 258.3L52.2 257.8L52.2 310.7L53.4 310.2L54.0 310.2L54.6 310.3L55.1 310.6L55.5 311.2L55.6 311.7L55.5 312.3L55.1 313.5ZM88.0 288.9L85.6 288.6L83.8 288.2L82.1 287.5L81.5 287.2L80.8 286.6L80.3 286.0L80.0 285.4L79.8 284.2L80.0 283.1L80.3 282.5L80.7 281.9L81.4 281.3L82.1 280.9L83.3 280.3L85.0 279.8L86.8 279.4L91.5 278.9L103.7 278.2L109.0 277.7L113.7 277.0L117.2 276.2L119.5 275.3L121.3 274.6L123.1 273.7L124.8 272.6L126.6 271.3L128.3 269.8L129.6 268.5L131.1 266.7L132.8 264.4L134.4 261.4L135.6 258.5L136.3 255.6L136.7 252.7L136.8 249.7L136.7 246.8L135.8 235.7L135.8 232.2L135.9 229.3L136.4 226.9L137.1 225.1L137.7 224.3L138.3 223.8L138.9 223.5L139.4 223.3L140.0 223.3L140.6 223.3L141.2 223.5L141.8 223.8L142.4 224.3L142.9 225.1L143.7 226.9L144.1 229.3L144.3 232.2L144.2 235.7L143.4 246.8L143.2 249.7L143.4 253.2L143.8 256.2L144.3 257.9L144.9 259.7L145.6 261.4L146.6 263.2L148.5 266.1L149.9 267.9L151.0 269.0L153.5 271.3L156.4 273.3L158.2 274.3L159.9 275.1L162.8 276.2L166.4 277.0L171.0 277.7L176.3 278.2L189.2 279.0L192.1 279.3L194.4 279.7L196.8 280.3L197.7 280.7L198.7 281.3L199.3 281.9L199.8 282.5L200.0 283.1L200.2 284.2L200.0 285.4L199.7 286.0L199.2 286.6L198.5 287.2L197.5 287.8L195.8 288.3L194.4 288.6L192.1 288.9L189.8 289.1L183.9 289.1L177.5 288.6L171.0 287.8L159.3 285.8L154.1 285.1L147.0 284.5L140.0 284.3L133.0 284.5L126.0 285.1L120.7 285.8L109.0 287.8L105.3 288.3L102.0 288.7L98.5 289.0L94.4 289.1L90.9 289.1Z" fill="#3a56a8"/>
<path d="M56.3 313.5L223.8 313.5L223.0 311.7L222.7 310.6L222.7 310.0L222.9 309.4L223.3 308.8L223.7 308.6L224.3 308.4L225.5 308.5L226.6 308.9L227.8 309.5L227.8 259.0L226.0 259.8L224.9 260.1L224.3 260.0L223.7 259.9L223.1 259.4L222.8 258.5L222.7 257.9L223.0 256.8L223.8 255.0L223.8 200.6L223.7 200.5L223.1 200.5L196.2 200.5L175.1 201.0L168.7 201.0L167.5 201.7L166.4 202.2L165.2 202.5L164.6 202.5L163.7 202.4L162.9 201.8L162.7 201.2L162.6 200.6L162.7 200.0L162.9 198.8L163.4 197.7L164.2 196.5L115.9 196.5L116.6 197.7L117.1 198.8L117.4 200.0L117.4 200.6L117.3 201.2L117.1 201.8L116.4 202.4L115.4 202.5L114.9 202.5L113.7 202.2L112.5 201.7L111.3 201.0L104.9 201.0L85.0 200.5L57.5 200.5L56.3 199.9L56.2 200.0L56.2 255.0L57.1 256.8L57.3 257.9L57.3 258.5L56.9 259.4L56.3 259.9L55.8 260.0L55.2 260.1L54.0 259.8L52.2 259.0L52.2 309.5L53.4 308.9L54.6 308.5L55.8 308.4L56.3 308.6L56.7 308.8L57.1 309.4L57.3 310.0L57.3 310.6L57.1 311.7L56.2 313.5ZM81.9 291.9L80.3 291.7L78.6 291.4L77.4 291.1L76.6 290.7L75.7 290.1L75.1 289.5L74.5 288.5L74.2 287.8L73.8 286.6L73.6 284.8L73.7 283.1L73.9 281.8L74.2 280.7L74.8 279.6L75.7 278.6L76.7 277.8L78.6 277.1L81.5 276.6L85.6 276.4L98.5 276.2L103.7 276.0L109.6 275.4L111.9 275.1L114.3 274.6L116.6 273.9L118.4 273.3L120.7 272.3L122.5 271.3L124.2 270.2L126.0 268.8L127.5 267.3L129.0 265.5L129.8 264.4L130.9 262.6L132.2 259.7L132.8 257.9L133.2 256.2L133.7 252.7L133.8 249.2L133.7 245.6L132.4 231.6L132.1 226.9L132.1 223.4L132.3 221.1L132.6 219.9L133.0 219.1L133.6 218.2L134.3 217.6L135.3 217.0L135.9 216.8L137.1 216.5L138.9 216.2L140.6 216.2L142.4 216.4L143.5 216.6L144.7 217.0L145.7 217.6L146.5 218.2L147.2 219.3L147.6 220.5L148.0 222.8L148.0 226.3L147.7 231.0L146.7 241.5L146.3 246.2L146.2 250.3L146.5 253.8L146.8 256.2L147.3 257.9L147.8 259.7L148.6 261.4L149.5 263.2L150.6 264.9L151.7 266.4L153.1 267.9L154.4 269.0L155.9 270.2L157.6 271.3L159.3 272.3L161.7 273.3L163.4 273.9L165.8 274.6L167.5 275.0L171.6 275.6L175.7 275.9L182.2 276.2L196.8 276.5L199.7 276.8L201.9 277.2L203.2 277.8L203.8 278.1L204.8 279.0L205.2 279.6L205.6 280.2L206.0 281.3L206.3 282.5L206.4 283.7L206.4 285.4L206.1 287.2L205.6 288.3L204.9 289.5L203.8 290.5L202.6 291.1L200.9 291.6L198.5 291.8L195.0 291.9L189.8 291.9L183.9 291.6L178.6 291.2L171.6 290.4L159.3 288.5L152.9 287.6L146.5 287.0L140.0 286.8L133.6 287.0L127.1 287.6L120.7 288.5L108.4 290.4L101.4 291.2L96.1 291.6L90.3 291.9L85.6 291.9Z" fill="#3a5db0"/>
<path d="M57.5 313.5L222.6 313.5L221.8 312.3L221.1 311.2L220.5 309.4L220.2 308.2L220.2 307.6L220.4 307.1L220.8 306.4L221.4 306.0L221.9 305.9L222.5 305.9L223.7 306.1L225.5 306.8L226.6 307.4L227.8 308.3L227.8 260.2L226.6 261.0L224.9 261.9L223.7 262.3L222.5 262.5L221.9 262.5L221.4 262.4L220.8 262.0L220.4 261.4L220.3 260.9L220.4 259.7L220.9 257.9L221.8 256.2L222.6 255.0L222.6 201.8L221.9 201.7L195.6 201.7L175.1 202.4L168.7 202.5L166.4 204.1L165.2 204.8L163.4 205.6L162.3 206.0L161.1 206.3L159.9 206.3L159.3 206.1L159.0 205.9L158.7 205.3L158.7 204.7L158.9 203.5L159.3 202.4L159.7 201.2L160.6 199.4L161.4 198.3L162.7 196.5L117.4 196.5L118.7 198.3L119.7 200.0L120.5 201.8L121.1 203.5L121.3 204.7L121.3 205.3L121.1 205.9L120.7 206.1L120.1 206.3L119.5 206.3L118.4 206.1L116.0 205.3L113.7 204.1L111.3 202.5L104.9 202.4L85.0 201.7L58.7 201.7L57.5 201.2L57.5 255.0L58.3 256.2L59.1 257.9L59.7 259.7L59.7 260.9L59.6 261.4L59.2 262.0L58.7 262.4L58.1 262.5L57.5 262.5L56.3 262.3L55.2 261.9L53.4 261.0L52.2 260.2L52.2 308.3L53.4 307.4L54.6 306.8L56.3 306.1L57.5 305.9L58.1 305.9L58.7 306.0L59.3 306.4L59.7 307.1L59.8 307.6L59.8 308.2L59.6 309.4L58.9 311.2ZM72.2 294.8L71.6 294.5L71.0 294.0L70.4 293.2L70.0 292.4L69.7 291.3L69.6 290.1L69.4 287.2L69.4 281.3L69.7 277.8L70.0 276.6L70.4 275.7L70.9 274.9L71.6 274.3L72.1 274.0L73.3 273.6L75.7 273.4L78.6 273.4L89.1 274.1L97.3 274.3L101.4 274.2L105.5 274.0L109.0 273.6L111.9 273.2L114.9 272.5L117.2 271.8L119.5 270.7L121.3 269.8L123.1 268.6L124.8 267.1L126.4 265.5L127.7 263.8L128.5 262.6L129.4 260.9L130.5 257.9L130.9 256.2L131.3 254.4L131.6 250.9L131.6 248.6L131.5 245.6L130.9 239.2L129.6 230.4L127.5 217.6L127.2 214.6L127.2 213.5L127.4 212.9L127.7 212.3L128.3 211.8L129.5 211.6L131.8 211.5L140.0 211.7L150.0 211.5L151.1 211.6L151.7 211.8L152.4 212.3L152.7 212.9L152.9 214.1L152.7 216.4L150.2 231.6L149.0 241.0L148.5 246.8L148.5 251.5L148.7 253.8L149.1 256.2L149.7 258.5L150.7 260.9L151.6 262.6L152.9 264.6L154.2 266.1L156.1 267.9L157.6 269.0L159.3 270.1L161.1 271.0L162.8 271.8L164.6 272.4L166.9 273.0L169.3 273.4L171.6 273.7L176.9 274.1L183.9 274.3L192.1 274.1L202.6 273.4L205.0 273.4L206.7 273.6L207.9 274.0L208.5 274.3L209.1 274.9L209.7 275.7L210.0 276.6L210.4 279.0L210.6 282.5L210.7 286.6L210.5 289.5L210.2 291.9L209.7 293.2L208.9 294.2L207.9 294.8L206.1 295.2L204.4 295.3L202.0 295.2L193.9 294.5L177.5 293.3L171.0 292.6L159.3 290.8L152.9 289.9L146.5 289.4L140.6 289.2L134.2 289.3L127.7 289.9L120.7 290.8L108.4 292.6L100.2 293.5L86.8 294.4L77.4 295.2L74.5 295.2L73.3 295.1Z" fill="#3d6fc0"/>
<path d="M59.3 313.5L221.2 313.5L219.0 310.6L215.5 305.0L214.4 303.6L213.8 302.9L212.6 301.9L210.8 300.9L208.5 300.0L205.6 299.1L199.1 297.6L193.3 296.7L173.4 294.9L158.7 292.8L152.3 292.0L145.9 291.5L140.0 291.4L134.2 291.5L127.7 292.0L121.3 292.8L106.7 294.9L86.8 296.7L80.9 297.6L74.5 299.1L71.6 300.0L69.2 300.9L67.5 301.9L66.3 302.9L65.6 303.6L64.5 305.0L61.1 310.6L58.9 313.5ZM52.7 306.5L55.2 304.6L59.4 301.8L61.0 300.6L62.3 299.5L63.5 297.7L64.1 296.5L64.7 294.8L65.4 291.9L65.9 287.8L66.0 283.7L65.8 279.6L65.2 275.5L64.5 272.6L64.0 271.4L63.4 270.2L62.5 269.0L61.3 267.9L59.6 266.7L55.2 263.9L52.2 261.6L52.2 306.8ZM227.8 306.8L227.8 261.6L224.9 263.9L220.4 266.7L218.8 267.9L217.5 269.0L216.7 270.2L216.0 271.4L215.6 272.6L215.1 274.3L214.7 276.1L214.2 280.2L214.0 284.2L214.2 288.3L214.8 292.4L215.2 294.2L215.7 295.9L216.2 297.1L216.9 298.3L217.8 299.5L219.0 300.6L220.6 301.8L225.5 305.0ZM87.9 272.0L95.5 272.4L102.6 272.4L105.5 272.3L108.4 272.1L110.8 271.8L113.1 271.3L115.4 270.6L117.2 270.0L119.0 269.2L120.7 268.1L122.5 266.8L123.9 265.5L125.0 264.4L126.3 262.6L127.3 260.9L128.1 259.1L128.7 257.3L129.1 255.6L129.4 253.8L129.7 251.5L129.7 249.2L129.7 246.8L129.4 243.3L128.9 239.8L128.2 235.1L127.4 231.0L126.5 226.9L125.6 223.4L124.7 220.5L123.9 218.1L123.1 216.4L122.1 214.6L121.0 212.9L120.0 211.7L117.6 209.4L113.1 205.7L111.3 204.1L104.9 204.0L91.5 203.3L85.0 203.1L60.4 203.1L59.9 203.0L59.3 202.7L58.9 202.9L58.9 255.0L61.0 257.9L63.9 262.8L65.1 264.6L66.3 265.9L68.0 267.2L69.3 267.9L71.0 268.5L73.3 269.3L75.7 269.9L82.1 271.2ZM171.0 272.0L174.0 272.3L176.9 272.4L183.9 272.4L191.5 272.0L195.0 271.7L198.0 271.2L204.4 269.9L207.3 269.1L209.7 268.3L211.4 267.5L212.8 266.7L213.8 265.9L214.9 264.6L216.1 262.8L219.0 257.9L221.2 255.0L221.2 203.5L220.8 203.1L195.0 203.1L188.6 203.3L175.1 204.0L168.7 204.1L161.8 210.0L160.0 211.7L159.1 212.9L158.3 214.1L157.3 215.8L156.4 217.6L155.5 219.9L154.0 225.2L152.4 232.2L151.1 239.8L150.7 243.3L150.4 246.2L150.3 249.2L150.4 251.5L150.6 253.8L150.9 255.6L151.3 257.3L151.9 259.1L152.7 260.9L153.4 262.0L154.2 263.2L155.2 264.6L156.4 265.8L157.6 266.8L158.9 267.9L160.5 268.8L163.4 270.2L165.2 270.8L166.9 271.3L168.7 271.7ZM138.9 208.2L142.4 208.2L145.3 207.8L148.2 207.1L149.4 206.7L151.1 205.9L153.5 204.4L155.2 202.9L161.0 196.5L119.1 196.5L124.8 202.9L126.6 204.4L128.3 205.6L130.7 206.7L133.0 207.4L135.9 208.0Z" fill="#3f8fd4"/>
<path d="M60.4 313.5L219.6 313.5L213.8 307.2L212.0 305.7L210.2 304.4L207.9 303.1L205.6 302.0L202.6 301.0L199.1 300.0L195.6 299.2L191.5 298.6L186.8 298.1L173.4 296.9L160.5 295.1L154.7 294.4L147.0 293.7L140.0 293.5L133.0 293.7L125.4 294.4L119.5 295.1L106.7 296.9L93.2 298.1L88.5 298.6L84.4 299.2L80.9 300.0L77.4 301.0L74.5 302.0L72.1 303.1L69.8 304.4L68.0 305.7L66.3 307.2ZM52.8 304.7L56.4 301.2L58.0 299.5L59.4 297.7L60.8 295.4L61.8 293.0L62.6 290.1L63.1 287.2L63.2 283.7L63.0 280.7L62.5 277.8L61.7 274.9L60.6 272.6L59.1 270.2L57.6 268.5L52.2 263.2L52.2 305.3ZM227.8 305.3L227.8 263.2L223.6 267.3L221.9 269.0L220.5 270.8L219.1 273.1L218.2 275.5L217.4 278.4L217.0 281.3L216.8 284.2L217.0 287.2L217.4 290.1L218.2 293.0L219.2 295.4L220.6 297.7L222.0 299.5L223.6 301.2ZM97.9 270.8L103.7 270.9L106.7 270.7L109.0 270.5L111.3 270.2L113.1 269.8L114.9 269.3L116.6 268.6L118.1 267.9L119.5 267.1L120.9 266.1L122.5 264.7L123.6 263.5L124.7 262.0L125.4 260.9L126.3 259.1L127.0 257.3L127.4 255.6L127.7 253.8L128.0 251.5L128.0 249.2L127.9 246.8L127.3 241.5L126.6 237.4L125.8 233.4L125.0 229.8L124.0 226.3L123.1 223.4L122.2 221.1L121.2 218.7L120.0 216.4L118.5 214.1L116.7 211.7L115.1 210.0L111.3 206.0L104.9 205.8L91.5 204.9L85.6 204.7L61.6 204.6L60.4 204.1L60.4 255.0L65.1 260.2L67.5 262.5L68.6 263.4L70.4 264.6L72.1 265.6L73.9 266.4L76.2 267.3L78.6 268.1L81.5 268.9L84.4 269.5L87.4 269.9L90.9 270.3ZM175.1 270.8L179.2 270.9L183.3 270.8L187.4 270.5L191.5 270.1L195.0 269.6L198.0 269.0L200.9 268.3L203.8 267.3L206.1 266.4L207.9 265.6L209.7 264.6L211.4 263.4L212.6 262.5L214.3 260.8L219.7 255.0L219.6 204.6L195.0 204.7L188.6 204.9L175.1 205.8L168.7 206.0L163.9 211.1L162.4 212.9L161.2 214.6L160.1 216.4L159.1 218.1L158.1 220.5L157.2 222.8L156.2 225.8L155.4 228.7L153.7 235.7L152.6 242.1L152.1 247.4L152.0 249.7L152.1 252.1L152.4 254.4L152.8 256.2L153.3 257.9L154.0 259.7L154.9 261.4L155.7 262.6L156.7 263.8L157.8 264.9L159.2 266.1L160.5 267.1L161.9 267.9L163.4 268.6L165.2 269.3L166.9 269.8L170.5 270.4ZM138.3 205.3L141.2 205.3L144.1 205.0L147.0 204.4L149.4 203.5L151.7 202.3L154.1 200.7L155.8 199.3L159.1 196.5L121.0 196.5L124.2 199.3L126.0 200.7L127.7 201.9L129.5 202.9L131.2 203.7L133.6 204.5L135.9 205.0Z" fill="#3db5ec"/>
<path d="M62.2 313.5L217.9 313.5L214.3 310.3L212.0 308.4L209.7 306.7L207.9 305.7L205.6 304.5L202.6 303.3L199.7 302.3L196.8 301.5L193.3 300.8L189.8 300.3L172.8 298.7L161.1 297.1L154.7 296.4L147.0 295.7L140.0 295.5L133.0 295.7L125.4 296.4L119.0 297.1L107.3 298.7L90.3 300.3L86.8 300.8L83.3 301.5L80.3 302.3L77.4 303.3L74.5 304.5L72.1 305.7L69.8 307.1L67.5 308.8L65.1 310.8ZM52.7 303.0L55.1 300.0L56.8 297.7L57.8 295.9L59.0 293.6L59.8 291.3L60.3 288.9L60.7 286.6L60.8 283.7L60.6 281.3L60.3 279.0L59.6 276.6L58.8 274.3L57.9 272.6L56.4 270.2L54.7 267.9L52.2 265.0L52.2 303.5ZM227.8 303.5L227.8 265.0L225.4 267.9L223.6 270.2L222.1 272.6L221.3 274.3L220.4 276.6L219.8 279.0L219.4 281.3L219.3 284.2L219.4 287.2L219.8 289.5L220.4 291.9L221.3 294.2L222.2 295.9L223.7 298.3L225.4 300.6ZM95.5 269.0L101.4 269.4L106.7 269.3L110.8 268.9L112.5 268.5L114.3 268.0L116.0 267.4L117.8 266.5L119.3 265.5L120.7 264.4L122.0 263.2L122.9 262.0L123.7 260.9L124.7 259.1L125.4 257.3L125.9 255.6L126.2 253.8L126.4 252.1L126.5 250.3L126.4 248.0L125.9 243.3L125.3 239.8L124.6 236.3L123.6 232.2L122.6 228.7L121.6 225.8L120.6 222.8L119.6 220.5L118.4 218.1L117.1 215.8L115.5 213.5L113.8 211.1L111.3 208.1L104.9 207.9L92.0 206.8L86.8 206.4L82.1 206.3L63.4 206.3L62.2 205.8L62.1 205.9L62.1 255.0L66.3 258.8L69.2 261.1L72.1 263.0L75.7 264.7L79.7 266.2L82.1 266.9L84.4 267.5L89.7 268.4ZM170.5 269.0L173.4 269.3L176.9 269.4L181.0 269.3L185.1 269.0L189.2 268.6L192.7 268.1L196.2 267.4L199.1 266.6L202.0 265.6L204.4 264.7L206.7 263.6L209.1 262.3L210.8 261.1L213.2 259.3L217.9 255.0L217.9 206.4L217.8 206.3L198.5 206.3L194.4 206.4L188.6 206.7L175.1 207.9L168.7 208.1L165.8 211.7L163.3 215.2L161.9 217.6L161.0 219.3L159.3 223.4L157.5 228.7L155.6 235.7L154.3 242.1L153.9 245.1L153.7 247.4L153.6 249.7L153.6 252.1L153.8 253.8L154.2 255.6L154.5 256.8L155.1 258.5L156.0 260.3L156.7 261.4L157.6 262.6L158.6 263.8L159.9 264.9L161.1 265.8L162.3 266.5L164.0 267.4L166.9 268.4L168.7 268.8ZM135.3 202.4L138.3 202.8L141.2 202.9L144.1 202.5L146.5 202.0L149.4 201.0L151.7 199.8L154.1 198.4L156.8 196.5L123.2 196.5L126.6 198.8L129.5 200.4L132.4 201.6Z" fill="#6fcdea"/>
<path d="M64.5 313.5L215.9 313.5L213.2 311.4L210.8 309.7L208.5 308.2L206.1 307.0L203.2 305.7L200.9 304.8L198.0 303.8L195.0 303.1L192.1 302.5L188.6 302.0L172.8 300.6L161.1 299.1L154.7 298.3L147.0 297.7L140.0 297.5L133.0 297.7L125.4 298.3L119.0 299.1L107.3 300.6L91.5 302.0L87.9 302.5L85.0 303.1L82.1 303.8L78.6 305.0L75.7 306.2L73.3 307.3L71.0 308.6L69.2 309.7L66.9 311.4L64.1 313.5ZM52.4 301.2L53.6 299.5L55.0 297.1L56.0 295.4L57.0 293.0L57.7 290.7L58.1 288.9L58.5 286.6L58.6 284.2L58.5 281.9L58.2 279.6L57.8 277.8L57.0 275.5L56.0 273.1L55.1 271.4L53.6 269.0L52.2 267.1L52.2 301.4ZM227.8 301.4L227.8 267.1L226.4 269.0L225.0 271.4L224.0 273.1L223.0 275.5L222.3 277.8L221.9 279.6L221.5 281.9L221.4 284.2L221.6 286.6L221.9 288.9L222.3 290.7L223.1 293.0L224.1 295.4L225.0 297.1L226.5 299.5ZM100.8 267.9L106.1 268.0L110.2 267.7L111.9 267.4L113.7 266.9L115.4 266.3L116.6 265.7L118.4 264.7L119.5 263.8L120.7 262.6L121.7 261.4L122.5 260.3L123.5 258.5L123.9 257.3L124.5 255.6L124.8 253.8L125.0 252.1L125.0 250.3L124.9 248.0L124.3 243.3L123.1 237.4L121.1 230.4L119.1 224.6L117.1 219.9L115.9 217.6L114.5 215.2L111.3 210.4L108.4 210.4L104.9 210.2L91.9 208.8L85.6 208.3L82.1 208.2L65.1 208.2L64.5 207.9L64.0 208.2L64.0 255.0L68.0 258.1L71.6 260.4L75.1 262.3L77.4 263.3L79.7 264.2L83.8 265.5L88.5 266.5L94.4 267.3ZM171.6 267.9L174.0 268.0L176.9 268.0L180.4 267.8L184.5 267.5L188.0 267.0L191.5 266.5L194.4 265.9L197.4 265.2L200.3 264.2L202.6 263.3L205.0 262.3L207.3 261.1L209.1 260.1L211.4 258.5L216.0 255.0L216.0 208.8L215.5 208.2L198.0 208.2L194.4 208.3L188.1 208.8L175.1 210.2L171.6 210.4L168.7 210.4L165.9 214.6L163.5 218.7L161.4 223.4L159.7 228.1L157.6 235.1L155.9 242.1L155.4 245.1L155.1 247.4L155.0 249.7L155.0 251.5L155.2 253.2L155.5 255.0L155.9 256.8L156.3 257.9L157.2 259.7L157.9 260.9L158.8 262.0L159.9 263.2L161.1 264.2L162.3 265.0L163.4 265.7L165.2 266.5L168.1 267.4ZM138.3 200.6L140.0 200.7L142.4 200.6L144.1 200.3L146.5 199.8L148.2 199.3L150.0 198.6L152.3 197.5L154.1 196.5L126.0 196.5L128.9 198.1L131.8 199.3L133.6 199.8L135.3 200.2Z" fill="#74ccd0"/>
<path d="M66.9 313.5L213.7 313.5L210.8 311.6L208.5 310.2L206.1 309.0L203.8 307.9L200.9 306.7L198.0 305.7L195.6 305.1L193.3 304.6L188.0 303.8L172.8 302.5L161.7 301.0L154.7 300.2L147.0 299.7L140.0 299.5L133.0 299.7L125.4 300.2L118.4 301.0L107.3 302.5L92.0 303.8L86.8 304.6L83.8 305.2L81.5 305.9L78.6 306.9L75.7 308.1L73.3 309.2L71.0 310.5L66.3 313.5ZM52.2 298.9L54.1 295.4L54.8 293.6L55.4 291.9L55.9 290.1L56.3 288.3L56.5 286.6L56.6 284.2L56.5 281.9L56.3 280.2L56.0 278.4L55.5 276.6L54.9 274.9L54.1 273.1L52.2 269.6ZM227.8 298.9L227.8 269.6L225.9 273.1L225.2 274.9L224.6 276.6L224.1 278.4L223.7 280.2L223.5 281.9L223.4 284.2L223.5 286.6L223.8 288.3L224.1 290.1L224.6 291.9L225.2 293.6L225.9 295.4ZM104.3 266.7L108.4 266.7L110.2 266.5L111.9 266.2L113.7 265.7L114.9 265.3L117.2 264.1L118.4 263.2L119.7 262.0L120.7 260.9L121.5 259.7L122.1 258.5L122.8 256.8L123.2 255.6L123.5 253.8L123.7 252.1L123.7 250.3L123.6 248.6L123.3 246.2L122.3 241.0L120.5 234.5L118.4 228.1L116.4 222.8L114.2 218.1L111.3 213.1L108.4 213.1L104.9 212.8L92.4 211.1L86.5 210.5L82.1 210.4L67.5 210.4L66.3 209.9L66.2 210.0L66.2 255.0L70.4 257.8L74.5 260.0L78.6 261.9L82.7 263.3L86.8 264.4L92.0 265.4L99.1 266.3ZM172.2 266.7L174.5 266.8L177.5 266.6L183.9 266.0L190.9 264.9L196.2 263.7L200.9 262.1L205.6 260.0L209.7 257.8L213.8 255.0L213.8 210.5L213.8 210.4L213.2 210.4L198.5 210.4L194.4 210.5L188.0 211.1L175.1 212.8L171.6 213.1L168.7 213.1L166.2 217.6L164.2 221.7L162.0 226.9L160.3 232.2L158.4 238.6L157.1 243.9L156.5 248.0L156.3 250.3L156.4 252.1L156.7 255.0L157.2 256.8L157.7 257.9L158.2 259.1L159.0 260.3L159.9 261.4L161.0 262.6L162.3 263.7L163.3 264.4L164.6 265.0L165.8 265.5L166.9 265.9L168.7 266.3ZM135.9 198.4L137.7 198.6L139.4 198.7L141.2 198.7L142.9 198.5L146.5 197.9L148.2 197.3L150.5 196.5L129.6 196.5L132.4 197.5L134.2 198.0Z" fill="#66c6b4"/>
<path d="M69.2 313.5L211.2 313.5L208.5 312.0L206.1 310.8L201.5 308.8L196.8 307.2L192.1 306.2L186.2 305.4L172.2 304.2L161.7 302.9L154.7 302.1L147.0 301.6L140.0 301.4L133.0 301.6L125.4 302.1L118.4 302.9L107.8 304.2L93.8 305.4L87.9 306.2L83.3 307.2L80.9 307.9L78.0 309.0L73.3 311.1L68.8 313.5ZM52.4 295.4L53.5 292.4L54.3 289.5L54.7 286.6L54.8 284.2L54.6 281.3L54.2 278.4L53.3 275.5L52.2 272.7L52.2 295.7ZM227.8 295.7L227.8 272.7L226.7 275.5L225.9 278.4L225.4 281.3L225.2 284.2L225.4 287.2L225.9 290.1L226.7 293.0ZM104.9 265.5L108.4 265.6L111.3 265.3L113.1 264.8L114.3 264.4L115.4 263.9L116.6 263.2L117.8 262.3L118.8 261.4L119.8 260.3L120.5 259.1L121.2 257.9L121.6 256.8L122.1 255.0L122.3 253.8L122.5 250.9L122.3 248.0L121.6 244.5L120.4 239.8L118.2 232.8L115.9 226.3L113.7 221.1L111.3 216.3L108.4 216.2L104.9 215.8L92.0 213.7L86.2 213.0L82.1 212.8L69.8 212.8L69.2 212.6L68.7 212.9L68.7 255.0L72.1 257.0L76.2 259.0L80.3 260.7L84.4 262.1L88.5 263.1L93.8 264.1L100.2 265.1ZM171.0 265.5L172.8 265.6L175.1 265.5L180.4 265.0L188.6 263.7L194.4 262.4L198.5 261.1L203.2 259.3L207.3 257.3L211.4 255.0L211.4 213.5L211.3 212.9L210.8 212.8L198.5 212.8L193.9 213.0L188.0 213.7L175.1 215.8L171.6 216.2L168.7 216.3L166.6 220.5L164.6 225.2L162.7 230.4L160.5 237.0L159.0 242.1L158.2 245.6L157.7 249.2L157.6 252.1L157.7 253.8L157.9 255.0L158.6 257.3L159.2 258.5L159.9 259.7L161.3 261.4L162.3 262.3L163.4 263.2L164.6 263.9L165.8 264.4L168.1 265.1ZM135.9 196.5L137.7 196.7L140.0 196.8L142.4 196.7L144.2 196.5L135.8 196.5Z" fill="#4cbd8c"/>
<path d="M72.1 313.5L208.3 313.5L203.8 311.4L198.5 309.5L194.4 308.4L190.3 307.6L185.1 307.0L172.8 306.1L161.1 304.6L154.1 303.9L147.0 303.4L140.0 303.3L133.0 303.4L126.0 303.9L118.4 304.7L107.8 306.0L94.4 307.1L89.1 307.7L85.0 308.5L80.9 309.7L76.2 311.4L71.8 313.5ZM52.3 290.7L52.9 287.2L53.1 284.2L52.9 280.7L52.2 277.4L52.2 291.0ZM227.8 291.0L227.8 277.4L227.2 280.7L226.9 284.2L227.2 287.8ZM104.9 264.4L108.4 264.5L111.3 264.3L113.7 263.6L115.8 262.6L116.6 262.0L117.8 261.0L118.5 260.3L119.4 259.1L120.0 257.9L120.5 256.8L121.2 254.4L121.4 252.1L121.3 249.7L120.8 246.8L120.1 243.9L118.4 238.5L115.4 229.8L113.4 224.6L111.3 219.9L108.4 219.8L104.9 219.3L101.4 218.7L92.6 216.8L86.8 215.8L82.7 215.5L72.7 215.5L71.5 215.2L71.5 255.0L75.1 256.8L78.6 258.3L82.1 259.6L85.0 260.6L88.5 261.4L93.2 262.4L100.6 263.8ZM169.3 264.4L171.0 264.5L172.8 264.5L176.9 264.2L185.1 262.8L192.1 261.3L196.2 260.2L199.7 259.0L204.4 257.0L208.5 255.0L208.5 215.7L207.9 215.5L198.5 215.5L193.9 215.8L190.9 216.2L188.0 216.6L178.1 218.8L175.1 219.3L171.6 219.8L168.7 219.9L166.9 224.0L165.1 228.7L162.8 235.1L160.7 241.5L159.7 245.1L159.1 247.4L158.8 249.7L158.7 252.1L158.9 254.4L159.5 256.8L160.3 258.5L161.5 260.3L162.3 261.0L163.4 262.0L165.2 263.1L166.9 263.8Z" fill="#2fb365"/>
<path d="M75.7 313.5L204.8 313.5L200.3 311.7L196.6 310.6L193.3 309.8L189.2 309.2L184.5 308.7L172.2 307.8L161.1 306.4L153.5 305.7L146.5 305.3L140.0 305.1L133.0 305.3L126.0 305.7L118.6 306.5L107.8 307.8L95.0 308.7L90.3 309.2L86.2 309.9L82.7 310.8L78.6 312.2L75.2 313.5ZM104.3 263.2L107.8 263.5L110.8 263.4L112.2 263.2L113.7 262.7L114.9 262.2L116.7 260.9L117.8 259.8L118.4 259.0L119.0 257.9L119.6 256.8L120.2 254.4L120.3 252.7L120.2 250.3L119.7 247.4L119.2 245.6L117.4 240.4L111.3 224.0L108.4 223.9L104.9 223.3L101.4 222.5L92.6 220.2L87.4 219.1L83.3 218.7L75.7 218.7L75.1 218.5L74.8 218.7L74.8 255.0L80.9 257.5L85.7 259.1L91.5 260.5ZM168.1 263.3L169.3 263.4L171.0 263.6L174.5 263.4L178.1 262.8L189.2 260.4L193.9 259.2L197.4 258.2L201.1 256.8L205.3 255.0L205.3 219.3L205.1 218.7L197.4 218.7L195.0 218.8L192.7 219.1L187.4 220.2L178.6 222.5L175.1 223.3L171.6 223.9L168.7 224.0L166.2 230.4L161.1 244.8L160.3 247.4L159.9 249.6L159.7 252.1L159.9 254.4L160.3 256.2L161.0 257.9L162.2 259.7L163.4 260.9L164.9 262.0L166.4 262.7Z" fill="#1fab52"/>
<path d="M82.1 313.5L198.3 313.5L195.6 312.8L193.3 312.3L190.3 311.8L187.4 311.5L172.8 310.5L161.1 309.1L153.5 308.4L146.5 308.0L140.0 307.8L133.6 308.0L126.6 308.4L119.0 309.1L107.3 310.5L92.6 311.5L89.7 311.8L86.8 312.3L84.4 312.8L81.7 313.5ZM106.7 262.1L109.0 262.3L111.3 262.2L113.1 261.7L114.9 260.9L116.3 259.7L116.9 259.1L117.7 257.9L118.5 256.2L118.9 254.4L119.0 253.2L118.9 251.5L118.6 249.7L118.2 248.0L117.2 245.3L113.4 236.3L111.3 230.9L109.6 230.8L107.8 230.7L104.3 229.9L100.8 228.9L92.6 226.1L88.5 225.0L84.4 224.3L82.7 224.2L80.9 224.2L80.6 224.6L80.6 255.0L83.3 255.9L86.2 256.8L96.1 259.3L103.8 261.4ZM168.1 262.1L169.3 262.3L171.0 262.3L172.8 262.2L174.5 261.9L183.9 259.3L193.9 256.8L196.8 255.9L199.5 255.0L199.5 224.6L199.1 224.1L195.6 224.3L191.5 225.0L187.4 226.1L179.2 228.9L175.7 229.9L172.2 230.7L170.5 230.8L168.7 230.9L166.4 236.9L162.3 246.9L161.4 249.7L161.1 251.5L161.0 252.7L161.1 254.4L161.4 255.6L162.0 257.3L162.8 258.7L164.0 260.0L165.2 260.9L166.4 261.5Z" fill="#12a54e"/>
<path d="M104.9 313.5L175.4 313.5L171.0 313.2L161.7 312.0L154.1 311.3L147.0 310.8L140.0 310.7L133.0 310.8L125.4 311.3L117.8 312.1L109.0 313.2L104.7 313.5ZM107.8 261.0L109.6 261.2L111.3 261.1L113.1 260.6L114.3 260.0L115.4 259.1L116.4 257.9L117.1 256.8L117.6 255.0L117.8 253.8L117.7 252.1L117.4 250.9L116.9 249.2L116.0 247.1L112.8 241.0L111.3 238.0L109.6 237.9L107.8 237.8L105.8 237.4L103.7 237.0L100.2 235.9L92.6 233.2L89.1 232.1L89.0 232.2L89.1 232.8L89.2 233.4L89.2 255.0L93.8 256.1L96.7 257.0L99.6 258.0L104.9 260.1L106.7 260.7ZM168.1 261.0L169.3 261.2L170.5 261.2L171.6 261.1L173.4 260.7L175.1 260.1L179.8 258.2L182.7 257.2L185.7 256.3L190.9 255.0L190.9 233.9L190.9 233.4L191.7 232.2L191.5 231.9L188.0 233.0L180.4 235.7L176.3 237.0L174.2 237.4L172.2 237.8L170.5 237.9L168.7 238.0L167.3 241.0L164.6 246.0L163.4 248.4L162.6 250.9L162.4 252.1L162.3 253.2L162.3 254.4L162.5 255.6L163.0 256.8L163.6 257.9L164.6 259.1L165.8 260.0L166.9 260.6Z" fill="#35b04a"/>
<path d="M107.8 259.8L108.4 260.0L109.6 260.2L110.8 260.2L111.9 260.1L113.7 259.4L114.3 259.0L115.4 257.9L115.8 257.3L116.4 256.2L116.6 255.0L116.8 253.8L116.4 251.5L115.7 249.7L114.7 248.0L111.3 243.2L108.4 243.1L105.1 242.7L102.1 242.1L98.5 241.2L98.2 241.5L98.4 242.1L98.4 255.0L100.9 256.2L105.5 258.9L106.7 259.4ZM167.5 259.9L168.7 260.2L170.5 260.2L171.6 260.0L173.4 259.4L175.7 258.2L179.2 256.2L181.6 255.0L181.6 242.7L182.4 241.5L182.2 241.0L178.1 242.1L175.0 242.7L171.6 243.1L168.7 243.2L165.3 248.0L164.3 249.7L163.6 251.5L163.3 253.8L163.4 255.0L163.6 256.2L164.2 257.3L164.7 257.9L165.8 259.0L166.4 259.4ZM182.7 241.0L182.7 240.8L182.3 241.0Z" fill="#62bb46"/>
<path d="M110.8 259.7L111.9 259.5L112.5 259.4L113.7 258.8L114.9 257.7L115.5 256.8L115.8 256.2L116.1 255.0L116.1 253.2L115.7 251.5L114.9 249.9L113.7 248.2L111.3 245.5L109.0 245.5L106.7 245.3L102.0 244.6L101.6 245.1L101.6 255.0L104.8 257.3L106.7 258.6L107.8 259.1L109.0 259.5ZM169.3 259.7L171.0 259.5L172.2 259.1L173.4 258.6L175.3 257.3L178.4 255.0L178.4 246.2L178.6 245.6L178.9 245.1L178.6 244.5L175.7 245.0L173.4 245.3L171.0 245.5L168.7 245.5L166.4 248.2L165.2 249.9L164.4 251.5L163.9 253.2L163.9 255.0L164.2 256.2L164.5 256.8L165.2 257.7L166.4 258.8L167.5 259.4L168.1 259.5ZM179.2 244.5L179.2 244.4L178.9 244.5Z" fill="#8cc63e"/>
<path d="M109.6 259.1L110.8 259.3L111.3 259.2L112.5 258.9L113.7 258.3L114.7 257.3L115.4 256.2L115.7 255.0L115.7 254.4L115.6 253.2L115.0 251.5L114.3 250.3L113.7 249.5L111.3 247.2L107.8 247.1L103.7 246.7L103.6 246.8L103.6 247.4L103.6 255.0L105.4 256.8L106.8 257.9L108.4 258.8ZM168.1 259.1L168.7 259.2L169.9 259.2L171.0 259.0L172.2 258.5L174.0 257.3L176.5 255.0L176.5 248.0L177.0 246.8L176.9 246.6L172.8 247.0L168.7 247.2L166.9 248.8L165.8 250.2L165.0 251.5L164.4 253.2L164.3 254.4L164.5 255.6L165.0 256.8L165.8 257.8L166.9 258.7Z" fill="#b0d136"/>
<path d="M109.6 258.7L110.8 258.9L111.9 258.7L113.1 258.2L114.2 257.3L114.9 256.2L115.3 255.0L115.3 253.8L115.0 252.7L114.4 251.5L113.7 250.5L112.5 249.4L111.3 248.5L108.4 248.4L105.5 248.2L104.9 248.6L104.9 255.0L105.9 256.2L107.1 257.3L108.4 258.2ZM167.5 258.5L168.1 258.7L169.3 258.9L170.5 258.7L171.6 258.2L172.8 257.5L173.6 256.8L175.1 255.0L175.1 249.2L175.4 248.6L175.1 248.2L171.6 248.4L168.7 248.5L166.9 249.9L166.0 250.9L165.3 252.1L164.9 253.2L164.7 254.4L164.8 255.0L165.1 256.2L165.8 257.2L166.5 257.9Z" fill="#d3dd28"/>
<path d="M109.0 258.0L110.2 258.4L111.3 258.5L112.5 258.2L113.7 257.4L114.3 256.7L114.9 255.2L114.9 254.4L114.7 253.2L114.3 252.2L113.7 251.3L112.5 250.2L111.3 249.4L106.7 249.3L106.1 249.5L105.9 249.7L105.9 255.0L107.3 256.8L107.9 257.3ZM167.5 258.2L168.7 258.5L169.3 258.5L171.0 258.0L172.1 257.3L172.8 256.8L173.7 255.6L174.1 255.0L174.1 250.3L174.2 249.7L174.0 249.3L168.7 249.4L166.9 250.7L166.2 251.5L165.8 252.2L165.3 253.2L165.2 253.8L165.1 255.0L165.5 256.2L165.8 256.8L166.4 257.4Z" fill="#f5ea14"/>
<path d="M110.2 257.9L111.3 258.0L112.0 257.9L112.5 257.7L113.1 257.3L113.7 256.8L114.1 256.2L114.5 255.0L114.5 254.4L114.2 253.2L113.7 252.4L113.1 251.7L112.5 251.2L111.3 250.5L107.8 250.5L107.3 250.5L107.0 250.9L107.0 255.0L107.7 256.2L108.2 256.8L109.0 257.4ZM168.1 257.9L169.3 258.0L170.5 257.7L171.6 257.0L172.3 256.2L173.0 255.0L173.0 251.5L173.1 250.9L172.8 250.5L168.7 250.5L167.5 251.2L166.9 251.7L166.2 252.7L165.8 253.5L165.6 254.4L165.6 255.0L165.8 255.8L165.9 256.2L166.3 256.8L166.9 257.3L167.5 257.7Z" fill="#fcc20e"/>
<path d="M110.2 257.4L110.8 257.6L111.3 257.6L111.9 257.5L112.5 257.2L113.2 256.8L113.6 256.2L113.9 255.6L114.0 255.0L114.0 254.4L113.9 253.8L113.6 253.2L113.1 252.6L112.5 252.1L111.3 251.5L108.3 251.5L107.9 252.1L107.9 255.0L108.6 256.2L109.0 256.7L109.6 257.1ZM168.1 257.5L168.7 257.6L169.3 257.6L169.9 257.4L171.0 256.8L171.5 256.2L172.1 255.0L172.1 252.7L172.2 251.4L168.7 251.5L167.5 252.1L166.9 252.6L166.5 253.2L166.0 254.4L166.0 255.0L166.1 255.6L166.4 256.2L166.9 256.8L167.5 257.2Z" fill="#f9a31a"/>
<path d="M110.2 257.0L110.8 257.2L111.3 257.3L111.9 257.2L112.5 256.8L113.1 256.3L113.5 255.6L113.7 255.0L113.6 254.4L113.4 253.8L113.1 253.4L112.5 252.8L111.3 252.1L109.0 252.2L108.6 252.7L108.6 255.0L109.2 256.2ZM167.5 256.8L168.1 257.2L168.7 257.3L169.3 257.2L170.2 256.8L170.8 256.2L171.5 255.0L171.5 252.7L171.0 252.1L168.7 252.1L167.5 252.8L166.9 253.4L166.6 253.8L166.4 254.4L166.4 255.0L166.5 255.6L166.8 256.2Z" fill="#f47721"/>
<path d="M110.8 256.9L111.3 257.0L111.9 256.8L112.5 256.5L112.8 256.2L113.2 255.6L113.4 255.0L113.3 254.4L113.0 253.8L112.5 253.3L111.9 252.9L111.3 252.7L109.6 252.7L109.1 253.2L109.1 255.0L109.3 255.6L109.7 256.2L110.2 256.6ZM168.1 256.8L168.7 257.0L169.3 256.9L169.9 256.6L170.3 256.2L170.7 255.6L171.0 255.0L171.0 252.7L168.7 252.7L168.1 252.9L167.5 253.3L167.1 253.8L166.8 254.4L166.7 255.0L166.8 255.6L167.2 256.2L167.5 256.5Z" fill="#ef4b23"/>
<path d="M110.2 256.2L111.3 256.7L112.5 256.1L113.1 255.0L112.5 253.7L111.3 253.1L109.6 253.1L109.5 253.2L109.5 255.0ZM168.1 256.4L168.7 256.7L169.9 256.2L170.6 255.0L170.6 253.2L170.5 253.1L168.7 253.1L167.4 253.8L167.0 255.0L167.5 256.1Z" fill="#e8281f"/>
</g>
<path d="M52.25 313.5L227.8 313.5L227.8 255L168.69 255L168.69 196.5L111.35 196.5L111.35 255L52.25 255Z" fill="none" stroke="#111" stroke-width="0.6"/>
<rect x="45.75" y="196.5" width="188.25" height="117.0" fill="none" stroke="#333" stroke-width="0.6"/>
<path d="M81.50 313.5v-2.2M81.50 196.5v2.2M140.02 313.5v-2.2M140.02 196.5v2.2M198.54 313.5v-2.2M198.54 196.5v2.2M52.25 313.5v-1.3M52.25 196.5v1.3M227.80 313.5v-1.3M227.80 196.5v1.3M45.75 313.50h2.2M234 313.50h-2.2M45.75 284.25h2.2M234 284.25h-2.2M45.75 255.00h2.2M234 255.00h-2.2M45.75 225.75h2.2M234 225.75h-2.2M45.75 196.50h2.2M234 196.50h-2.2" stroke="#333" stroke-width="0.6" fill="none"/>
<g font-size="9" fill="#222" stroke="#222" stroke-width="0.12">
<text x="81.5" y="323.9" text-anchor="middle">-50</text>
<text x="140.0" y="323.9" text-anchor="middle">0</text>
<text x="198.5" y="323.9" text-anchor="middle">50</text>
<text x="43.0" y="316.5" text-anchor="end">-25</text>
<text x="43.0" y="287.2" text-anchor="end">0</text>
<text x="43.0" y="258.0" text-anchor="end">25</text>
<text x="43.0" y="228.8" text-anchor="end">50</text>
<text x="43.0" y="199.5" text-anchor="end">75</text>
</g>
<text x="147.1" y="338.2" text-anchor="middle" font-size="11.2" letter-spacing="0.45" fill="#222" stroke="#222" stroke-width="0.2"><tspan font-style="italic">x</tspan> (<tspan font-style="italic">μ</tspan>m)</text>
<text transform="translate(19.8 254.9) rotate(-90)" text-anchor="middle" font-size="11.2" letter-spacing="0.45" fill="#222" stroke="#222" stroke-width="0.2"><tspan font-style="italic">y</tspan> (<tspan font-style="italic">μ</tspan>m)</text>
<text x="11.8" y="181.6" font-size="15" fill="#222" stroke="#222" stroke-width="0.15">(c)</text>
<text x="203.4" y="209.7" text-anchor="middle" font-size="11.8" fill="#222" stroke="#222" stroke-width="0.2">Type 2</text>
<text x="173.8" y="223.9" font-size="8.9" fill="#222" stroke="#222" stroke-width="0.15"><tspan font-style="italic">Q</tspan> = 10<tspan font-style="italic">μ</tspan>L/min</text>
<text x="174.7" y="236.1" font-size="8.9" fill="#222" stroke="#222" stroke-width="0.15"><tspan font-style="italic">U</tspan><tspan font-style="italic" font-size="7.3">max</tspan>=0.037 m/s</text>
<clipPath id="cd"><path d="M303.65 313.5L479.92 313.5L479.92 277.23L420.58 277.23L420.58 196.5L362.99 196.5L362.99 277.23L303.65 277.23Z"/></clipPath>
<g clip-path="url(#cd)">
<path d="M303.65 313.5L479.92 313.5L479.92 277.23L420.58 277.23L420.58 196.5L362.99 196.5L362.99 277.23L303.65 277.23Z" fill="#3953a4"/>
<path d="M306.6 313.5L477.3 313.5L476.7 312.3L476.6 311.7L476.5 311.2L476.7 310.6L477.0 310.3L477.6 310.1L478.2 310.1L478.7 310.3L479.9 310.9L479.9 279.7L478.7 280.3L478.2 280.4L477.6 280.4L477.0 280.0L476.8 279.6L476.8 279.0L476.9 278.4L477.5 277.2L477.8 270.8L478.2 264.4L478.7 258.6L479.2 255.0L479.2 219.9L479.3 219.3L479.9 218.7L479.9 190.1L420.6 190.2L420.0 190.1L419.9 189.5L363.7 189.5L363.6 190.1L363.0 190.2L303.6 190.1L303.6 218.1L304.2 218.7L304.4 219.3L304.4 255.0L304.8 258.6L305.3 264.4L305.8 270.8L306.0 277.2L306.6 278.4L306.8 279.0L306.8 279.6L306.6 280.0L306.0 280.4L305.4 280.4L304.8 280.3L303.6 279.7L303.6 310.9L304.8 310.3L305.4 310.1L306.0 310.1L306.6 310.3L306.9 310.6L307.0 311.2L307.0 311.7L306.9 312.3L306.3 313.5ZM318.1 300.6L317.2 300.1L316.6 299.5L316.0 298.3L315.8 297.1L315.7 295.9L315.8 293.6L316.0 292.6L316.2 291.9L316.6 291.2L317.1 290.7L318.0 290.1L319.5 289.7L321.9 289.6L325.4 289.7L347.7 290.7L354.8 291.2L358.9 291.6L361.8 292.2L362.7 292.4L363.6 292.9L363.9 293.0L364.3 293.6L364.3 294.2L363.9 294.8L363.3 295.4L362.5 295.9L360.6 296.9L358.6 297.7L356.6 298.3L354.2 298.8L351.8 299.2L348.3 299.7L343.9 300.0L325.4 301.1L320.7 301.1L318.9 300.9ZM450.0 300.6L441.1 300.1L436.4 299.8L431.7 299.2L428.2 298.6L425.0 297.7L422.1 296.5L420.3 295.4L419.6 294.8L419.3 294.2L419.3 293.6L419.7 293.0L421.2 292.3L423.5 291.8L427.6 291.3L435.8 290.7L458.8 289.6L462.3 289.6L464.6 289.8L465.5 290.1L466.4 290.6L467.0 291.2L467.3 291.9L467.7 293.0L467.8 294.2L467.9 295.9L467.7 297.7L467.3 298.9L467.0 299.5L466.5 300.0L465.8 300.5L465.2 300.7L464.1 301.0L461.7 301.1L457.6 301.0ZM385.6 286.0L384.1 285.5L383.4 284.8L383.1 284.2L383.0 283.7L383.0 282.5L383.6 279.6L384.9 274.9L385.8 271.4L388.3 259.6L388.8 257.4L389.7 255.0L390.0 243.3L390.3 238.0L390.6 235.0L390.9 233.9L391.2 232.8L391.8 232.2L392.4 232.8L392.7 233.9L393.0 235.0L393.3 238.0L393.6 243.3L393.8 255.0L394.7 257.4L395.3 259.6L397.9 272.0L400.2 280.2L400.6 282.5L400.6 283.7L400.4 284.2L400.1 284.8L399.5 285.4L398.8 285.7L397.7 286.1L395.3 286.3L391.2 286.4L387.7 286.3Z" fill="#3a56a8"/>
<path d="M307.2 313.5L476.5 313.5L475.4 311.7L474.9 310.6L474.7 309.4L474.8 308.8L475.2 308.4L475.8 308.3L477.0 308.5L478.2 309.0L479.9 310.1L479.9 280.5L478.2 281.6L477.0 282.1L476.4 282.2L475.8 282.2L475.3 281.9L475.0 281.3L475.0 280.7L475.4 279.6L475.9 278.4L476.7 277.2L477.3 265.5L478.1 255.0L478.1 221.1L478.2 220.5L479.9 218.7L479.9 191.0L444.7 191.0L420.6 191.2L420.0 191.4L419.4 191.4L419.1 191.2L418.8 190.9L418.7 190.7L418.7 190.1L418.8 189.5L364.7 189.5L364.9 190.1L364.9 190.7L364.8 190.9L364.4 191.2L364.2 191.4L363.6 191.4L363.0 191.2L338.9 191.0L303.6 191.0L303.6 218.1L305.4 219.9L305.4 220.5L305.4 255.0L306.3 265.5L306.9 277.2L307.6 278.4L308.2 279.6L308.5 280.7L308.5 281.3L308.3 281.9L307.8 282.2L307.2 282.2L306.6 282.1L305.4 281.6L303.6 280.5L303.6 310.1L305.4 309.0L306.6 308.5L307.8 308.3L308.3 308.4L308.7 308.8L308.8 309.4L308.8 310.0L308.2 311.7L307.1 313.5ZM314.4 303.0L313.9 302.4L313.6 301.9L313.4 300.6L313.4 290.1L313.6 288.9L313.9 288.3L314.5 287.8L315.4 287.5L317.7 287.5L332.4 288.8L350.1 289.8L359.5 290.5L363.0 290.9L366.5 291.5L368.1 291.9L368.9 292.4L369.0 293.0L368.7 293.6L368.2 294.2L366.7 295.4L364.8 296.5L362.2 297.7L360.1 298.5L357.7 299.2L354.8 299.8L351.2 300.4L347.1 300.9L330.1 302.1L317.7 303.2L315.4 303.3ZM463.1 303.0L452.9 302.0L435.9 300.8L431.2 300.2L427.6 299.6L425.3 299.0L422.9 298.3L421.3 297.7L418.8 296.5L416.8 295.4L415.4 294.2L414.9 293.6L414.6 293.0L414.7 292.4L415.5 291.9L417.6 291.4L421.2 290.9L425.9 290.4L434.1 289.8L451.1 288.8L465.8 287.5L467.6 287.5L468.8 287.6L469.3 287.9L469.7 288.3L469.9 288.9L470.1 290.1L470.2 299.5L470.1 300.6L469.9 301.9L469.7 302.4L469.3 302.8L468.8 303.1L468.2 303.3L466.4 303.3ZM380.0 287.8L379.5 287.2L379.4 286.6L379.5 286.0L380.0 284.2L383.0 276.1L384.0 272.6L385.2 267.3L387.3 255.0L387.5 233.9L387.8 228.7L388.3 224.7L388.9 222.2L389.4 221.0L390.0 220.1L390.6 219.6L391.2 219.3L391.8 219.2L392.4 219.3L393.0 219.6L393.5 220.1L394.1 221.0L394.4 221.7L394.9 222.8L395.3 224.6L395.7 227.5L395.9 231.0L396.1 235.7L396.2 255.0L398.4 267.3L399.3 271.4L400.6 276.1L403.8 284.8L404.1 286.0L404.1 286.6L404.1 287.2L403.6 287.8L402.9 288.0L401.8 288.3L400.6 288.3L391.8 288.2L383.0 288.3L381.2 288.2Z" fill="#3a5db0"/>
<path d="M308.3 313.5L475.6 313.5L472.3 309.2L470.8 307.6L469.9 307.0L468.8 306.4L467.0 305.6L465.8 305.3L462.3 304.5L457.0 303.6L449.4 302.9L435.3 301.8L430.7 301.2L427.0 300.6L422.8 299.5L418.0 297.7L414.5 295.9L408.8 292.7L407.7 292.2L405.9 291.6L402.9 290.8L399.4 290.3L395.3 289.9L391.8 289.7L388.3 289.9L384.1 290.3L380.6 290.8L377.7 291.6L375.9 292.2L374.7 292.7L369.1 295.9L365.5 297.7L360.8 299.5L356.5 300.6L352.9 301.2L348.3 301.8L334.2 302.9L326.6 303.6L321.3 304.5L317.7 305.3L316.6 305.6L314.8 306.4L313.6 307.0L312.5 307.9L311.3 309.2L308.0 313.5ZM304.1 308.8L307.0 306.5L308.4 305.3L309.4 304.1L309.8 303.6L310.6 301.8L311.1 300.0L311.4 297.7L311.5 294.8L311.3 292.4L311.1 290.7L310.6 288.9L309.8 287.2L309.0 286.0L307.8 284.8L303.6 281.5L303.6 309.2ZM479.9 309.2L479.9 281.5L475.7 284.8L474.6 286.0L473.8 287.2L473.0 288.9L472.5 290.7L472.2 293.0L472.1 295.4L472.2 297.7L472.5 300.0L473.0 301.8L473.8 303.6L474.2 304.1L475.2 305.3L476.5 306.5ZM359.5 289.5L364.8 289.9L367.7 289.8L370.6 289.4L371.8 289.1L373.0 288.6L374.7 287.5L375.9 286.4L376.8 285.4L377.7 284.1L378.7 282.5L380.3 279.0L381.9 274.9L382.6 272.6L383.2 270.2L384.2 264.9L385.6 255.0L385.6 229.3L385.8 224.0L386.2 220.5L386.5 218.7L387.1 217.0L387.7 215.9L388.2 215.2L388.8 214.5L390.0 213.9L390.6 213.7L391.8 213.5L393.0 213.7L393.5 213.9L394.7 214.5L395.4 215.2L396.2 216.4L396.7 217.6L397.1 218.9L397.5 221.1L397.8 224.6L398.0 229.8L398.0 255.0L399.4 264.9L400.4 270.2L401.1 273.1L401.8 275.5L402.7 277.8L404.0 280.7L404.9 282.5L406.0 284.2L407.1 285.8L408.2 287.0L409.4 287.9L410.6 288.6L411.8 289.1L413.5 289.5L415.3 289.8L417.1 289.9L419.4 289.8L422.3 289.7L434.7 288.7L449.4 287.8L454.7 287.3L458.8 286.9L463.5 286.1L467.0 285.1L469.3 284.2L470.5 283.5L471.1 283.0L472.3 281.8L475.8 277.2L476.3 266.1L477.1 255.0L477.1 221.7L477.6 221.1L479.9 218.7L479.9 191.8L447.6 191.8L420.6 192.1L419.4 192.6L418.8 192.6L418.1 192.4L417.6 191.8L417.5 191.2L417.5 190.7L417.9 189.5L365.6 189.5L366.1 190.7L366.1 191.2L366.0 191.8L365.4 192.4L364.8 192.6L364.2 192.6L363.0 192.1L336.0 191.8L303.6 191.8L303.6 218.1L306.0 220.5L306.4 221.1L306.4 255.0L307.3 266.1L307.8 277.2L311.3 281.8L311.9 282.4L313.0 283.5L314.2 284.2L315.4 284.7L317.2 285.3L318.9 285.8L321.3 286.3L324.2 286.8L331.3 287.6L336.6 288.0L349.5 288.8Z" fill="#3d6fc0"/>
<path d="M309.5 313.5L474.6 313.5L471.1 310.1L469.9 309.2L468.8 308.4L466.4 307.2L464.6 306.6L462.9 306.1L458.8 305.2L454.1 304.5L448.2 303.9L434.7 302.8L430.6 302.2L427.0 301.6L422.9 300.6L418.2 299.1L414.9 297.7L407.7 294.3L405.3 293.4L403.5 292.9L400.6 292.1L397.7 291.6L394.7 291.3L391.8 291.2L388.8 291.3L385.9 291.6L383.0 292.1L380.0 292.9L378.3 293.4L375.9 294.3L368.7 297.7L365.3 299.1L360.6 300.6L356.5 301.6L353.0 302.2L348.9 302.8L335.4 303.9L329.5 304.5L324.2 305.3L320.1 306.2L318.3 306.8L316.6 307.5L314.2 308.8L313.0 309.6L311.9 310.7L309.0 313.5ZM304.1 307.6L306.8 304.7L307.6 303.6L308.6 301.8L309.2 300.0L309.6 298.3L309.8 296.5L309.8 294.8L309.7 293.0L309.4 291.3L308.8 289.5L308.3 288.3L307.6 287.2L306.8 286.0L305.8 284.8L303.6 282.6L303.6 308.1ZM479.9 308.1L479.9 282.6L477.7 284.8L476.8 286.0L475.9 287.2L475.3 288.3L474.5 290.1L474.1 291.9L473.8 293.6L473.7 295.4L473.9 297.7L474.2 299.5L474.8 301.2L475.3 302.4L476.0 303.6L476.8 304.7L477.8 305.9ZM355.9 288.4L361.2 288.7L365.3 288.8L368.3 288.4L370.0 288.0L371.2 287.5L372.4 286.9L373.7 286.0L374.7 285.1L375.9 283.9L376.9 282.5L377.7 281.3L378.6 279.6L379.7 277.2L381.0 273.7L381.6 271.4L382.2 269.0L383.0 263.8L384.1 255.0L384.1 246.8L383.7 224.6L383.9 219.9L384.2 216.4L384.6 214.6L385.0 213.5L385.7 212.3L386.5 211.4L387.1 210.9L388.3 210.3L389.4 209.9L391.2 209.7L393.0 209.7L394.1 209.9L395.3 210.3L396.5 210.9L397.4 211.7L398.2 212.9L398.8 214.1L399.1 215.2L399.4 216.8L399.6 218.7L399.8 223.4L399.5 255.0L400.6 264.4L401.2 267.9L401.8 270.8L402.6 273.7L403.4 276.1L405.0 279.6L406.3 281.9L407.7 283.9L409.1 285.4L410.6 286.5L411.8 287.2L413.5 288.0L415.3 288.4L417.1 288.7L418.8 288.8L424.1 288.6L435.3 287.7L448.8 286.8L454.1 286.2L458.2 285.7L462.3 284.8L465.8 283.8L468.2 282.8L469.3 282.1L470.5 281.2L472.3 279.7L474.8 277.2L475.3 265.5L476.0 255.0L476.0 222.8L476.4 222.2L479.9 218.6L479.9 192.6L447.6 192.6L420.6 193.1L419.4 193.7L418.8 193.8L417.6 194.0L417.1 193.8L416.7 193.6L416.2 193.0L416.1 192.4L416.2 191.2L416.4 190.7L417.0 189.5L366.6 189.5L367.2 190.7L367.4 191.2L367.5 192.4L367.3 193.0L366.9 193.6L366.5 193.8L365.9 194.0L364.8 193.8L364.2 193.7L363.0 193.1L336.0 192.6L303.6 192.6L303.6 218.0L307.2 221.7L307.5 222.2L307.5 255.0L308.3 265.5L308.8 277.2L311.9 280.2L313.0 281.2L314.2 282.1L315.4 282.8L317.2 283.6L318.9 284.2L321.3 284.8L326.0 285.7L333.0 286.6L348.3 287.7Z" fill="#3f8fd4"/>
<path d="M310.7 313.5L473.4 313.5L469.9 310.8L467.6 309.3L464.6 308.0L461.1 307.0L457.0 306.1L452.3 305.4L447.6 304.9L434.1 303.7L430.0 303.2L426.5 302.6L422.3 301.6L417.7 300.0L414.6 298.9L406.5 295.5L402.4 294.1L399.4 293.4L397.1 293.0L394.7 292.7L391.8 292.6L388.8 292.7L386.5 293.0L384.1 293.4L381.2 294.1L377.1 295.5L369.0 298.9L365.9 300.0L361.2 301.6L357.1 302.6L353.6 303.2L349.5 303.7L336.0 304.9L330.7 305.5L326.0 306.2L321.9 307.1L318.3 308.2L315.4 309.6L313.0 311.2L310.2 313.5ZM304.0 306.5L306.1 303.6L307.2 301.2L307.7 300.0L308.1 298.3L308.2 297.1L308.3 295.4L308.2 293.6L308.1 292.4L307.7 290.7L307.2 289.5L306.4 287.8L305.7 286.6L303.6 283.8L303.6 306.9ZM479.9 306.9L479.9 283.8L477.9 286.6L477.2 287.8L476.3 289.5L475.9 290.7L475.5 292.4L475.3 293.6L475.2 295.4L475.3 297.1L475.5 298.3L475.9 300.0L476.3 301.2L477.2 303.0L477.9 304.1ZM359.5 287.8L363.6 287.9L366.5 287.7L368.3 287.3L369.5 286.9L370.6 286.4L371.8 285.8L373.8 284.2L374.9 283.1L375.8 281.9L377.5 279.0L378.7 276.6L379.4 274.9L380.4 271.4L381.3 267.3L381.9 262.6L382.7 255.0L382.5 240.4L381.8 218.7L381.8 215.2L382.0 212.9L382.3 211.1L382.8 210.0L383.6 208.9L384.1 208.3L385.3 207.7L386.5 207.3L387.7 207.0L389.4 206.8L391.8 206.7L394.1 206.8L396.0 207.0L397.7 207.4L398.8 208.0L399.9 208.8L400.8 210.0L401.2 211.1L401.7 213.5L401.8 217.6L401.1 241.0L400.9 255.0L401.7 262.6L402.1 266.1L402.8 269.6L403.5 272.6L404.4 275.5L405.7 278.4L407.1 280.8L408.7 283.1L410.0 284.4L411.3 285.4L412.9 286.4L414.1 286.9L415.9 287.4L417.6 287.8L419.4 287.9L422.3 287.9L425.3 287.7L435.3 286.7L449.4 285.6L454.1 285.1L458.2 284.4L462.3 283.5L465.8 282.3L467.6 281.5L468.8 280.9L471.1 279.3L473.6 277.2L474.1 265.5L474.9 255.0L474.9 224.0L475.2 223.4L479.9 218.6L479.9 193.5L447.6 193.5L427.0 194.0L420.6 194.0L419.4 194.8L418.2 195.3L417.1 195.6L416.5 195.7L415.9 195.6L415.1 195.3L414.6 194.7L414.4 194.2L414.4 193.0L414.7 191.8L415.3 190.7L416.0 189.5L367.6 189.5L368.3 190.7L368.8 191.8L369.2 193.0L369.2 194.2L369.0 194.7L368.5 195.3L367.7 195.6L367.1 195.7L366.5 195.6L365.3 195.3L364.2 194.8L363.0 194.0L356.5 194.0L336.0 193.5L303.6 193.5L303.6 218.0L308.4 222.8L308.7 223.4L308.7 255.0L309.5 265.5L310.0 277.2L313.0 279.7L314.2 280.5L316.0 281.5L317.7 282.3L319.5 283.0L323.6 284.1L328.3 284.9L334.2 285.6L348.3 286.7Z" fill="#3db5ec"/>
<path d="M311.9 313.5L472.0 313.5L469.3 311.7L466.4 310.1L463.5 308.9L459.9 307.9L455.8 307.1L450.5 306.3L446.4 305.9L434.1 304.8L430.0 304.2L426.5 303.6L422.3 302.6L417.8 301.2L414.4 300.0L405.9 296.8L401.8 295.4L398.8 294.7L396.5 294.3L394.1 294.1L391.8 294.0L389.4 294.1L387.1 294.3L384.7 294.7L381.8 295.4L377.7 296.8L369.1 300.0L365.8 301.2L361.2 302.6L357.1 303.6L353.6 304.2L349.5 304.8L337.1 305.9L333.0 306.3L327.7 307.1L323.6 307.9L320.1 308.9L317.2 310.1L314.2 311.7L311.6 313.5ZM303.7 305.3L305.1 303.0L306.1 300.6L306.7 298.3L306.9 297.1L307.0 295.4L306.9 293.6L306.7 292.4L306.1 290.1L305.1 287.8L303.6 285.3L303.6 305.4ZM479.9 305.4L479.9 285.3L478.5 287.8L477.5 290.1L476.9 292.4L476.7 293.6L476.6 295.4L476.7 297.1L476.9 298.3L477.5 300.6L478.5 303.0ZM355.9 286.6L360.6 287.0L364.8 287.0L366.5 286.8L367.7 286.5L368.9 286.1L370.3 285.4L371.8 284.4L372.7 283.7L373.9 282.5L374.8 281.3L376.0 279.6L376.9 277.8L377.7 276.1L378.4 274.3L379.4 270.8L380.1 266.7L380.7 262.0L381.3 255.0L381.1 243.9L380.7 232.8L380.2 223.4L379.1 211.1L379.1 208.2L379.3 207.0L379.5 206.4L379.8 205.9L380.4 205.3L381.8 204.7L384.1 204.4L387.1 204.3L393.0 204.2L397.1 204.3L400.0 204.4L401.8 204.7L402.9 205.1L403.5 205.6L404.1 206.5L404.3 207.0L404.5 208.2L404.5 210.5L403.1 227.5L402.7 235.1L402.4 243.9L402.2 255.0L402.7 260.3L403.2 264.9L403.8 269.0L404.5 272.0L405.4 274.9L406.4 277.2L408.0 280.2L409.4 282.2L411.2 284.0L412.9 285.2L414.1 285.8L415.3 286.3L417.6 286.9L420.0 287.1L422.3 287.1L424.7 286.9L435.3 285.7L449.4 284.5L453.5 284.0L457.0 283.4L459.9 282.8L462.9 282.1L465.2 281.2L467.6 280.2L469.9 278.8L472.2 277.2L472.7 266.7L473.5 255.0L473.5 225.2L479.9 218.6L479.9 194.3L447.6 194.4L427.0 195.0L420.6 195.1L418.8 196.3L416.5 197.5L414.7 198.1L413.5 198.2L412.9 198.1L412.2 197.7L411.9 197.1L411.8 196.5L412.0 195.3L412.3 194.2L413.1 192.4L414.1 190.7L415.0 189.5L368.6 189.5L369.5 190.7L370.5 192.4L371.3 194.2L371.6 195.3L371.7 196.5L371.6 197.1L371.3 197.7L370.6 198.1L370.0 198.2L369.5 198.1L368.3 197.9L366.5 197.3L364.8 196.3L363.0 195.1L356.5 195.0L336.0 194.4L303.6 194.3L303.6 218.0L310.0 224.6L310.0 255.0L310.9 266.7L311.4 277.2L314.8 279.5L317.7 281.0L321.3 282.2L324.8 283.1L328.9 283.8L334.2 284.5L347.7 285.7Z" fill="#6fcdea"/>
<path d="M313.6 313.5L470.4 313.5L467.6 311.9L465.2 310.8L462.3 309.8L458.8 308.8L454.7 308.0L450.0 307.3L434.1 305.8L430.0 305.3L426.5 304.7L422.3 303.7L418.2 302.5L414.5 301.2L405.9 298.1L401.8 296.8L398.8 296.1L396.5 295.7L394.1 295.5L391.8 295.4L389.4 295.5L387.1 295.7L384.7 296.1L381.8 296.8L377.7 298.1L369.1 301.2L365.3 302.5L361.2 303.7L357.1 304.7L353.6 305.3L349.5 305.8L333.6 307.3L328.9 308.0L324.8 308.8L321.3 309.8L318.3 310.8L316.0 311.9L313.2 313.5ZM303.9 303.0L304.7 301.2L305.4 298.9L305.7 297.1L305.7 294.8L305.6 293.0L305.1 290.7L304.5 288.9L303.6 287.2L303.6 303.6ZM479.9 303.6L479.9 287.2L479.1 288.9L478.3 291.3L477.9 293.6L477.8 295.4L477.9 297.1L478.3 299.5L479.1 301.8ZM358.3 286.1L360.6 286.3L362.4 286.3L364.2 286.3L365.9 286.0L367.7 285.6L368.9 285.1L370.0 284.5L371.2 283.7L372.5 282.5L373.6 281.3L374.8 279.6L375.8 277.8L376.6 276.1L377.3 274.3L378.0 272.0L378.5 269.6L379.0 266.7L379.3 263.8L380.0 255.0L379.7 242.7L379.2 231.0L378.4 222.2L377.9 218.1L377.3 214.6L376.6 211.7L375.8 208.8L375.1 207.0L374.2 205.3L373.0 203.7L371.6 202.4L365.9 198.5L363.0 196.2L356.5 196.1L342.4 195.5L336.0 195.3L303.6 195.3L303.6 217.9L311.3 225.8L311.5 226.3L311.5 255.0L312.4 265.5L312.9 277.2L316.0 278.9L318.9 280.2L322.4 281.4L326.6 282.3L330.1 282.9L334.2 283.4L348.3 284.7ZM417.6 286.0L418.8 286.2L420.6 286.3L424.1 286.2L434.7 284.8L448.2 283.6L455.2 282.6L459.9 281.7L464.1 280.4L467.6 278.9L470.6 277.2L471.2 265.5L472.0 255.0L472.0 226.9L472.3 226.3L479.9 218.5L479.9 195.3L447.6 195.3L441.1 195.5L427.0 196.1L420.6 196.2L417.6 198.5L412.0 202.4L410.7 203.5L409.8 204.7L408.8 206.3L408.0 208.2L407.4 210.0L406.8 212.3L406.2 215.2L405.7 218.1L404.9 225.2L404.4 230.4L404.1 236.9L403.6 250.9L403.6 255.0L404.2 263.2L404.9 268.5L405.7 272.6L406.3 274.3L407.0 276.1L408.5 279.0L409.6 280.7L410.5 281.9L412.4 283.7L413.5 284.5L414.7 285.1L415.9 285.6ZM385.9 201.8L388.3 202.0L391.2 202.1L396.5 201.9L400.6 201.4L402.4 200.9L404.1 200.3L405.9 199.3L407.1 198.3L407.7 197.7L408.8 196.3L411.9 191.8L413.9 189.5L369.7 189.5L371.6 191.8L375.3 197.0L376.5 198.3L377.7 199.3L379.4 200.3L381.2 200.9L383.6 201.5Z" fill="#74ccd0"/>
<path d="M315.4 313.5L468.5 313.5L465.8 312.2L463.5 311.3L460.5 310.4L457.6 309.7L454.1 309.1L449.4 308.4L434.1 306.9L430.6 306.4L427.0 305.8L423.5 305.0L419.4 303.9L414.6 302.4L405.9 299.4L401.2 298.1L398.8 297.5L396.5 297.1L394.1 296.9L391.8 296.8L389.4 296.9L387.1 297.1L384.7 297.5L382.4 298.1L377.7 299.4L368.9 302.4L364.2 303.9L360.1 305.0L356.5 305.8L353.0 306.4L349.5 306.9L334.2 308.4L329.5 309.1L326.0 309.7L322.4 310.6L319.5 311.5L317.2 312.5L315.1 313.5ZM303.8 300.6L304.3 298.3L304.5 297.1L304.6 295.4L304.5 293.6L304.3 292.4L303.6 289.7L303.6 301.0ZM479.9 301.0L479.9 289.7L479.2 292.4L479.1 293.6L479.0 295.4L479.1 297.1L479.2 298.3ZM359.5 285.4L361.2 285.6L363.0 285.6L364.8 285.5L365.9 285.3L367.7 284.7L368.9 284.2L370.0 283.4L371.2 282.5L372.4 281.3L373.3 280.2L374.4 278.4L375.3 276.6L376.0 274.9L376.6 273.1L377.5 269.0L378.2 263.8L378.7 255.0L378.3 241.5L378.0 235.1L377.6 229.8L376.8 222.2L376.2 218.7L375.6 215.8L375.0 213.5L374.2 211.0L373.2 208.8L372.2 207.0L371.0 205.3L369.5 203.5L363.0 197.5L356.5 197.3L342.4 196.6L336.0 196.3L303.6 196.3L303.6 217.9L313.1 227.5L313.3 228.1L313.3 255.0L314.3 266.7L314.8 277.2L317.7 278.6L320.7 279.7L324.2 280.7L327.7 281.4L334.8 282.4L348.9 283.8ZM418.8 285.5L421.2 285.6L424.1 285.4L435.3 283.7L448.2 282.5L454.1 281.7L458.2 280.9L462.3 279.9L465.8 278.6L468.8 277.2L469.3 266.7L470.3 255.0L470.3 228.7L470.5 228.1L479.9 218.5L479.9 196.3L447.6 196.3L441.1 196.6L427.0 197.3L420.6 197.5L414.7 202.9L413.0 204.7L411.7 206.4L410.7 208.2L409.8 210.0L409.2 211.7L408.4 214.1L407.9 216.4L407.3 219.3L406.4 225.8L405.9 230.4L405.5 236.3L404.9 250.3L404.8 255.0L405.4 263.8L406.0 268.5L406.8 272.6L407.3 274.3L408.0 276.1L409.5 279.0L410.3 280.2L411.2 281.3L412.3 282.5L413.5 283.4L414.7 284.2L415.9 284.7L417.1 285.1ZM388.3 200.1L392.4 200.2L395.9 200.0L397.7 199.7L399.4 199.4L400.6 199.0L402.4 198.4L404.1 197.5L405.3 196.7L406.5 195.8L408.2 194.1L412.7 189.5L370.9 189.5L376.5 195.3L377.7 196.3L379.4 197.5L381.2 198.4L383.6 199.2L385.9 199.7Z" fill="#66c6b4"/>
<path d="M317.7 313.5L466.2 313.5L463.5 312.5L460.5 311.6L457.0 310.7L453.5 310.1L447.0 309.2L433.5 307.9L430.0 307.4L426.5 306.8L422.9 305.9L420.0 305.1L406.5 300.8L401.8 299.5L398.8 298.9L396.5 298.5L394.1 298.3L391.8 298.2L389.4 298.3L387.1 298.5L384.7 298.9L381.8 299.5L377.1 300.8L363.6 305.1L360.6 305.9L357.1 306.8L353.6 307.4L350.1 307.9L336.0 309.2L329.5 310.2L326.0 310.9L322.4 311.7L319.5 312.7L317.3 313.5ZM360.6 284.9L362.4 284.9L364.2 284.8L365.3 284.7L366.5 284.4L367.7 283.9L368.9 283.3L370.0 282.4L371.2 281.3L372.2 280.2L373.0 279.0L374.0 277.2L374.8 275.5L375.4 273.7L375.9 272.0L376.4 269.6L376.7 267.3L377.1 262.6L377.5 255.0L377.3 247.4L376.9 239.8L376.5 233.4L376.0 228.1L375.5 224.6L375.0 221.1L374.4 218.1L373.8 215.8L373.1 213.5L372.2 211.1L371.0 208.8L370.0 207.0L368.7 205.3L367.3 203.5L363.0 198.8L356.5 198.6L342.4 197.7L336.0 197.5L303.6 197.4L303.6 217.9L315.4 229.8L315.4 255.0L316.4 266.1L317.1 277.2L319.5 278.2L322.4 279.1L325.4 279.8L328.9 280.5L335.4 281.4L348.3 282.7L351.8 283.3L358.3 284.6ZM419.4 284.8L421.8 284.9L424.1 284.7L431.7 283.3L435.3 282.7L448.2 281.4L453.5 280.7L457.0 280.1L460.5 279.2L463.5 278.4L466.5 277.2L467.2 266.1L468.2 255.0L468.2 230.4L479.9 218.5L479.9 197.4L447.6 197.5L441.1 197.7L427.0 198.6L420.6 198.8L416.3 203.5L414.0 206.4L412.9 208.2L412.0 210.0L410.9 212.3L410.1 214.6L409.5 217.0L408.8 219.9L407.9 225.8L407.3 230.4L406.9 235.7L406.3 248.0L406.1 255.0L406.5 263.2L407.0 267.9L407.7 272.0L408.2 273.7L408.8 275.5L409.3 276.6L410.2 278.4L410.9 279.6L411.8 280.7L412.9 281.9L414.1 282.9L415.3 283.6L416.5 284.2L417.6 284.5ZM388.3 198.3L391.8 198.5L395.3 198.3L398.2 197.8L401.2 196.9L403.5 195.7L405.9 194.2L407.7 192.8L411.4 189.5L372.2 189.5L377.1 193.8L378.9 195.0L380.0 195.7L381.8 196.6L384.1 197.5L385.9 197.9Z" fill="#4cbd8c"/>
<path d="M320.7 313.5L463.4 313.5L461.1 312.8L458.2 312.1L454.7 311.4L451.1 310.8L445.8 310.1L434.1 309.1L430.6 308.6L427.6 308.1L424.7 307.5L421.8 306.7L407.1 302.2L402.4 300.9L399.4 300.3L397.1 299.9L394.1 299.6L391.8 299.5L389.4 299.6L386.5 299.9L384.1 300.3L381.2 300.9L376.5 302.2L361.8 306.7L358.9 307.5L355.9 308.1L353.0 308.6L349.5 309.1L337.7 310.1L332.4 310.8L328.9 311.4L325.4 312.1L322.4 312.8L320.2 313.5ZM361.2 284.3L363.0 284.3L364.8 284.1L365.9 283.9L367.1 283.4L368.3 282.8L369.5 282.0L370.2 281.3L371.2 280.2L372.1 279.0L373.1 277.2L373.6 276.1L374.3 274.3L374.8 272.6L375.2 270.2L375.8 265.5L376.2 255.0L376.1 249.7L375.8 242.7L375.4 236.3L374.9 231.0L374.3 226.3L373.8 222.8L373.2 219.9L372.4 217.0L371.7 214.6L370.8 212.3L369.8 210.0L368.5 207.6L367.3 205.9L365.6 203.5L363.0 200.3L356.5 200.1L342.4 199.0L336.0 198.7L303.6 198.6L303.6 217.8L317.8 232.2L317.9 232.8L317.9 255.0L319.1 266.7L319.9 277.2L324.2 278.5L329.5 279.5L335.4 280.4L344.8 281.3L348.3 281.7L351.8 282.3L358.3 283.8ZM420.0 284.3L421.8 284.3L424.1 284.1L431.7 282.3L435.9 281.6L447.6 280.4L452.9 279.7L458.8 278.6L461.1 278.0L463.7 277.2L464.4 266.7L465.7 255.0L465.7 233.4L465.8 232.8L479.9 218.4L479.9 198.6L447.6 198.7L441.1 199.0L427.0 200.1L420.6 200.3L418.0 203.5L416.2 205.9L415.1 207.6L413.8 210.0L412.7 212.3L412.1 214.1L411.3 216.4L410.5 219.3L409.4 225.2L408.9 229.3L408.5 233.4L407.7 243.9L407.3 255.0L407.6 262.0L408.0 267.3L408.5 271.4L409.0 273.1L409.5 274.9L410.2 276.6L410.8 277.8L411.9 279.6L412.8 280.7L413.5 281.5L414.7 282.4L415.9 283.1L417.1 283.7L418.2 284.0ZM387.1 196.6L390.0 196.9L393.5 196.9L396.5 196.6L399.4 195.8L401.8 194.9L404.1 193.7L406.5 192.2L410.0 189.5L373.5 189.5L377.7 192.6L380.6 194.4L383.6 195.6L385.3 196.2Z" fill="#2fb365"/>
<path d="M324.2 313.5L459.7 313.5L455.2 312.6L449.4 311.6L445.3 311.2L434.1 310.2L428.2 309.4L425.9 308.9L422.9 308.1L408.8 303.9L402.9 302.3L400.0 301.6L397.1 301.2L394.1 300.9L391.8 300.8L389.4 300.9L386.5 301.2L383.6 301.6L380.6 302.3L374.7 303.9L360.6 308.1L357.7 308.9L355.4 309.4L349.5 310.2L338.3 311.2L334.2 311.6L328.3 312.6L323.9 313.5ZM361.8 283.7L363.6 283.7L364.8 283.5L365.9 283.2L367.6 282.5L368.9 281.6L369.8 280.7L370.8 279.6L371.6 278.4L372.5 276.6L373.0 275.5L373.5 273.7L374.0 272.0L374.5 267.9L374.8 262.6L375.0 255.0L374.5 242.7L373.7 232.8L373.2 228.7L372.6 224.6L372.0 221.7L371.4 218.7L370.5 215.8L369.7 213.5L368.7 211.1L367.5 208.8L366.1 206.4L364.6 204.1L363.0 201.9L359.5 201.8L355.9 201.6L340.7 200.2L333.6 199.9L303.6 199.9L303.6 217.8L320.7 235.1L321.1 235.7L321.1 255.0L322.6 266.7L323.2 272.6L323.5 277.2L327.7 278.1L333.6 279.1L345.4 280.3L348.9 280.8L352.4 281.5L358.9 283.3L360.6 283.6ZM420.0 283.7L421.8 283.7L424.1 283.4L431.2 281.5L435.3 280.7L438.8 280.2L450.0 279.1L455.8 278.1L460.0 277.2L460.4 272.6L460.9 266.7L462.5 255.0L462.5 236.3L462.9 235.7L479.9 218.4L479.9 199.9L450.0 199.9L445.3 200.1L439.4 200.5L427.0 201.6L423.5 201.8L420.6 201.9L419.8 202.9L416.7 207.6L415.5 210.0L414.6 211.7L413.7 214.1L412.9 216.4L412.2 218.7L411.5 221.7L410.4 228.1L409.7 235.1L409.0 243.9L408.6 255.0L408.8 263.2L409.1 268.5L409.7 272.6L410.2 274.3L410.8 276.1L411.7 277.8L412.8 279.6L413.8 280.7L414.7 281.6L415.9 282.4L417.1 283.0L418.2 283.4ZM388.8 195.4L391.2 195.5L394.1 195.4L396.5 195.1L398.8 194.5L401.2 193.7L403.5 192.6L405.8 191.2L408.5 189.5L375.1 189.5L379.4 192.2L382.4 193.7L385.3 194.7L387.1 195.1Z" fill="#1fab52"/>
<path d="M329.5 313.5L454.6 313.5L447.6 312.5L433.5 311.3L430.6 311.0L427.6 310.5L423.5 309.6L414.0 306.5L407.7 304.6L403.5 303.6L400.6 303.0L397.7 302.5L394.7 302.2L391.8 302.1L388.8 302.2L385.9 302.5L383.0 303.0L380.0 303.6L375.9 304.6L369.6 306.5L360.1 309.6L355.9 310.5L353.0 311.0L350.1 311.3L336.0 312.5L329.0 313.5ZM361.2 283.1L363.0 283.2L364.2 283.1L365.3 282.8L366.5 282.4L367.7 281.7L368.9 280.7L370.0 279.6L370.8 278.4L371.4 277.2L372.1 275.5L372.9 272.6L373.2 270.8L373.5 268.5L373.7 263.2L373.8 255.0L373.1 242.1L372.3 232.2L371.8 228.1L371.2 224.6L370.6 221.7L369.9 218.7L369.0 215.8L368.1 213.5L367.1 211.1L366.0 208.8L364.7 206.4L363.0 203.7L360.1 203.6L356.5 203.4L342.4 201.8L336.0 201.4L303.6 201.3L303.6 217.8L325.4 239.8L325.4 255.0L326.5 260.9L327.4 266.7L328.0 272.0L328.6 277.2L334.8 278.2L344.8 279.1L348.9 279.7L352.4 280.5L358.9 282.6ZM420.0 283.1L421.8 283.2L424.1 282.8L431.2 280.5L435.3 279.6L438.8 279.1L448.8 278.2L455.0 277.2L455.5 272.0L456.2 266.7L457.1 260.9L458.2 255.0L458.2 240.4L479.9 218.4L479.9 201.3L447.6 201.4L441.1 201.8L427.0 203.4L423.5 203.6L420.6 203.7L417.9 208.2L416.7 210.5L415.7 212.9L414.8 215.2L414.0 217.6L412.7 222.8L411.7 228.7L410.9 235.7L410.3 244.5L409.8 255.0L409.9 263.8L410.1 268.5L410.3 270.8L410.6 272.6L411.4 275.5L412.2 277.2L412.8 278.4L413.6 279.6L414.7 280.8L415.9 281.7L417.1 282.4L418.2 282.8ZM390.6 194.2L392.4 194.2L394.7 194.0L396.5 193.7L398.8 193.2L400.6 192.6L402.9 191.6L406.8 189.5L376.7 189.5L380.0 191.3L383.6 192.8L385.3 193.3L387.1 193.7L388.8 194.0Z" fill="#12a54e"/>
<path d="M336.6 313.5L447.3 313.5L432.9 312.4L430.0 312.1L427.0 311.7L424.7 311.2L422.3 310.5L412.3 307.1L408.8 306.1L404.7 305.0L401.2 304.2L397.7 303.7L394.7 303.4L391.8 303.3L388.8 303.4L385.9 303.7L382.4 304.2L378.9 305.0L374.7 306.1L371.2 307.1L361.2 310.5L358.9 311.2L356.5 311.7L353.6 312.1L350.7 312.4L336.3 313.5ZM361.2 282.6L362.4 282.7L363.6 282.6L364.8 282.5L365.9 282.1L367.1 281.4L368.1 280.7L368.9 279.9L369.6 279.0L370.3 277.8L370.9 276.6L371.7 274.3L372.1 272.6L372.3 270.8L372.5 266.7L372.6 255.0L372.2 246.8L371.4 236.3L370.9 231.6L370.3 227.5L369.7 224.0L369.1 221.1L368.5 218.7L367.6 215.8L366.7 213.5L365.5 210.5L364.3 208.2L363.0 205.7L360.1 205.6L357.1 205.4L342.8 203.5L336.0 203.0L303.6 202.9L303.6 217.7L331.3 245.6L331.4 246.2L331.4 255.0L332.6 260.3L334.0 266.7L335.0 272.6L335.7 277.2L345.4 278.1L349.5 278.8L352.4 279.5L358.6 281.9L360.1 282.3ZM419.4 282.6L421.2 282.7L422.3 282.6L423.5 282.3L425.3 281.8L430.6 279.7L432.3 279.2L434.7 278.7L438.8 278.1L447.9 277.2L448.6 272.6L449.6 266.7L450.9 260.3L452.2 255.0L452.2 246.8L452.3 246.2L479.9 218.3L479.9 202.9L447.6 203.0L440.8 203.5L426.5 205.4L423.5 205.6L420.6 205.7L418.4 210.0L416.6 214.1L415.1 218.7L413.9 224.0L412.9 229.8L412.2 236.3L411.5 244.5L411.0 255.0L411.0 264.4L411.1 268.5L411.4 272.0L412.0 274.9L412.6 276.6L413.2 277.8L413.9 279.0L414.9 280.2L415.9 281.0L417.1 281.8L418.2 282.3ZM387.1 192.5L388.8 192.8L391.2 192.9L393.5 192.9L395.9 192.6L398.2 192.1L400.6 191.3L404.9 189.5L378.6 189.5L383.0 191.3L385.3 192.1Z" fill="#35b04a"/>
<path d="M351.8 313.5L432.1 313.5L427.0 312.9L424.7 312.4L422.3 311.9L418.3 310.6L410.3 307.6L408.2 307.0L404.7 306.1L401.2 305.4L397.7 304.9L394.7 304.6L391.8 304.5L388.8 304.6L385.9 304.9L382.4 305.4L378.9 306.1L375.3 307.0L373.2 307.6L365.2 310.6L361.2 311.9L358.9 312.4L356.5 312.9L351.4 313.5ZM360.6 282.0L361.8 282.2L363.0 282.2L364.8 282.0L365.9 281.5L366.5 281.2L367.7 280.4L368.5 279.6L369.7 277.8L370.2 276.6L370.8 274.9L371.3 272.0L371.5 269.0L371.4 255.0L371.1 250.3L370.3 238.6L369.3 229.8L368.2 223.4L366.9 218.1L366.2 215.8L365.1 212.9L363.0 208.0L360.1 207.9L357.1 207.7L343.0 205.4L339.5 205.0L336.0 204.7L333.0 204.6L303.6 204.6L303.6 217.7L341.3 255.6L341.8 256.7L343.0 259.7L344.0 262.6L344.8 265.6L346.0 271.3L346.7 277.2L350.1 277.8L352.4 278.5L354.8 279.4L358.7 281.3ZM418.8 282.0L420.6 282.2L421.8 282.2L422.9 282.0L424.8 281.3L428.8 279.4L431.2 278.5L433.5 277.8L436.8 277.2L437.6 271.3L438.8 265.6L440.0 261.4L441.7 256.8L479.9 218.3L479.9 204.6L450.5 204.6L447.6 204.7L444.1 205.0L440.6 205.4L426.5 207.7L423.5 207.9L420.6 208.0L418.7 212.3L417.2 216.4L416.0 220.5L414.9 225.8L414.1 231.0L413.4 237.4L412.8 245.1L412.2 255.0L412.1 269.0L412.2 272.0L412.8 274.9L413.3 276.6L413.9 277.8L415.1 279.6L415.9 280.4L417.1 281.2L417.6 281.5ZM387.1 191.3L388.8 191.6L390.6 191.7L393.0 191.7L394.7 191.6L397.1 191.2L402.8 189.5L380.8 189.5L385.9 191.0Z" fill="#62bb46"/>
<path d="M360.1 313.5L423.6 313.5L421.1 312.9L417.1 311.7L407.4 308.2L403.2 307.1L400.1 306.5L397.7 306.2L394.7 305.9L391.8 305.8L388.8 305.9L385.9 306.2L383.0 306.6L380.0 307.1L376.2 308.2L366.4 311.7L362.5 312.9ZM360.6 281.4L362.4 281.8L364.2 281.6L365.9 281.0L367.1 280.2L367.7 279.6L368.2 279.0L369.0 277.8L369.7 276.1L370.3 273.7L370.5 271.4L370.5 268.5L370.1 255.0L369.2 242.1L368.3 232.8L367.4 226.3L366.3 221.1L364.8 215.8L363.0 211.0L360.1 210.9L357.1 210.5L354.2 210.0L343.0 207.7L339.5 207.2L336.6 206.9L333.0 206.8L303.6 206.8L303.6 217.7L351.2 265.5L351.6 266.1L351.9 270.8L352.2 277.2L353.6 277.8L354.8 278.4L358.9 280.7ZM418.8 281.5L420.0 281.7L421.2 281.8L422.3 281.6L423.3 281.3L425.3 280.4L429.4 278.1L431.4 277.2L432.0 266.7L432.3 266.1L479.9 218.3L479.9 206.8L450.5 206.8L447.0 206.9L444.1 207.2L440.6 207.7L429.4 210.0L426.5 210.5L423.5 210.9L420.6 211.0L419.0 215.2L417.5 220.5L416.3 225.8L415.4 231.6L414.6 239.2L413.9 248.0L413.5 255.0L413.1 268.5L413.1 271.4L413.3 273.7L413.7 275.5L414.3 277.2L415.3 279.0L416.4 280.2L417.6 281.0ZM387.7 190.1L390.0 190.4L393.0 190.4L395.3 190.2L399.7 189.5L383.9 189.5Z" fill="#8cc63e"/>
<path d="M365.9 313.5L418.2 313.5L411.6 311.7L404.7 309.4L400.7 308.2L396.5 307.5L394.1 307.3L391.8 307.3L389.4 307.3L387.1 307.5L382.9 308.2L378.9 309.4L371.9 311.7L365.4 313.5ZM360.6 280.9L362.4 281.3L364.2 281.2L364.8 281.0L365.9 280.5L367.0 279.6L368.0 278.4L368.8 276.6L369.3 274.9L369.5 272.6L369.5 270.2L368.9 262.0L368.7 255.0L368.3 249.7L367.7 241.5L367.1 235.1L366.4 229.3L365.4 224.0L364.3 219.3L363.0 214.7L360.1 214.6L357.1 214.2L353.6 213.3L343.6 210.7L340.0 210.0L336.6 209.5L333.0 209.3L303.6 209.3L303.6 217.6L354.2 268.5L354.7 269.0L354.9 277.2L358.9 280.0ZM418.2 280.8L419.4 281.2L420.6 281.3L421.8 281.2L422.9 280.9L424.7 280.0L428.6 277.2L428.8 269.6L434.0 264.4L479.9 218.2L479.9 209.3L450.5 209.3L447.0 209.5L443.6 210.0L440.0 210.7L430.0 213.3L426.5 214.2L423.5 214.6L420.6 214.7L419.2 219.3L418.1 224.0L417.3 228.7L416.5 234.5L415.9 240.4L415.4 247.4L414.9 255.0L414.6 262.6L414.1 270.8L414.1 272.6L414.2 274.3L414.5 276.1L415.0 277.2L415.6 278.4L416.5 279.5L417.2 280.2ZM390.6 189.5L393.5 189.5L390.1 189.5Z" fill="#b0d136"/>
<path d="M371.8 313.5L412.1 313.5L408.8 312.7L404.1 311.7L402.1 311.2L397.7 310.2L394.7 309.8L391.8 309.6L388.8 309.8L385.9 310.2L381.5 311.2L379.4 311.7L374.7 312.7L371.5 313.5ZM361.8 280.8L363.0 280.9L364.2 280.8L365.3 280.3L366.5 279.5L367.4 278.4L368.0 277.2L368.5 275.5L368.7 273.7L368.6 271.4L367.7 262.6L366.7 246.8L365.8 236.3L365.3 231.6L364.6 227.5L363.9 223.4L363.0 219.5L360.6 219.4L357.7 218.9L354.8 218.0L347.1 215.2L343.6 214.1L340.1 213.2L336.6 212.6L333.0 212.4L303.6 212.4L303.6 217.6L350.3 264.4L356.0 270.2L356.5 270.8L356.6 277.2L359.2 279.6L360.6 280.4ZM419.4 280.8L420.0 280.9L421.2 280.9L422.3 280.6L422.9 280.4L424.4 279.6L427.0 277.2L427.1 271.4L427.6 270.8L433.9 264.4L479.9 218.2L479.9 212.4L450.5 212.4L447.0 212.6L443.5 213.2L440.0 214.1L436.5 215.2L428.8 218.0L425.9 218.9L422.9 219.4L420.6 219.5L419.7 223.4L418.9 227.5L418.3 231.6L417.7 236.3L416.8 246.8L415.9 262.6L415.0 270.8L414.9 273.1L415.0 274.9L415.2 276.1L415.6 277.2L416.2 278.4L417.1 279.5L417.6 279.9L418.2 280.3Z" fill="#d3dd28"/>
<path d="M383.6 313.5L400.2 313.5L399.9 312.9L395.9 312.6L391.8 312.4L387.7 312.6L383.7 312.9L383.4 313.5ZM361.2 280.2L362.4 280.5L363.6 280.5L364.8 280.2L365.8 279.6L366.5 278.9L367.2 277.8L367.7 276.6L368.0 274.9L367.9 272.6L366.8 266.1L366.4 262.6L365.3 246.2L364.5 237.4L363.9 231.6L363.0 226.0L360.6 225.9L359.5 225.6L357.7 225.1L354.8 223.8L348.4 220.5L344.6 218.7L340.7 217.3L337.1 216.5L334.8 216.2L333.0 216.1L303.6 216.1L303.6 217.6L351.0 264.9L357.2 271.4L357.7 272.0L357.8 277.2L359.3 279.0L360.1 279.6ZM418.8 280.2L420.0 280.5L420.6 280.6L421.8 280.4L422.5 280.2L423.5 279.6L424.8 278.4L425.8 277.2L425.9 272.6L428.6 269.6L432.6 265.5L479.9 218.2L479.9 216.1L450.5 216.1L448.8 216.2L446.4 216.5L442.9 217.3L439.0 218.7L435.2 220.5L428.8 223.8L425.9 225.1L424.1 225.6L422.9 225.9L420.6 226.0L419.6 232.2L418.9 239.2L418.2 246.8L417.2 263.2L416.7 266.7L415.8 272.0L415.6 273.7L415.6 274.9L415.8 276.1L416.1 277.2L416.4 277.8L417.2 279.0L417.8 279.6Z" fill="#f5ea14"/>
<path d="M362.4 280.2L363.6 280.2L364.2 280.1L365.2 279.6L365.9 279.0L366.4 278.4L367.0 277.2L367.2 276.1L367.3 274.9L367.1 272.9L365.6 266.7L364.9 262.6L363.6 243.0L363.0 236.6L361.8 236.5L360.6 236.3L359.5 235.9L358.3 235.2L355.4 233.1L348.5 227.5L345.4 225.3L343.2 224.0L341.3 223.0L339.5 222.3L337.7 221.7L335.4 221.2L333.6 221.0L307.2 221.0L351.1 264.9L356.8 270.8L358.4 272.6L358.6 273.1L358.7 277.2L359.5 278.4L360.1 279.0L360.8 279.6L361.8 280.0ZM420.0 280.2L421.2 280.2L421.8 280.0L422.8 279.6L423.5 279.0L424.1 278.4L424.9 277.2L424.9 273.7L425.2 273.1L426.3 272.0L431.9 266.1L477.0 221.0L450.0 221.0L448.2 221.2L445.8 221.7L444.1 222.3L442.3 223.0L440.3 224.0L438.2 225.3L435.1 227.5L428.2 233.1L425.3 235.2L424.1 235.9L422.9 236.3L421.8 236.5L420.6 236.6L420.0 243.0L418.6 262.6L418.0 266.7L416.5 272.9L416.3 274.9L416.4 276.6L416.6 277.2L417.2 278.4L417.7 279.0L418.4 279.6L419.4 280.1Z" fill="#fcc20e"/>
<path d="M361.8 279.6L362.4 279.8L363.0 279.9L363.6 279.8L364.8 279.4L365.8 278.4L366.2 277.8L366.4 277.2L366.6 276.1L366.6 274.9L366.3 273.7L364.5 269.0L363.8 266.7L363.3 264.4L363.0 261.8L361.2 261.7L360.1 261.3L359.2 260.9L358.4 260.3L357.1 259.0L355.9 257.2L354.8 255.0L353.0 252.0L349.2 245.1L347.5 242.1L345.4 238.9L343.2 236.3L341.3 234.3L340.1 233.3L338.9 232.5L337.1 231.6L336.0 231.1L334.8 230.8L333.0 230.6L317.2 230.6L317.2 231.0L351.8 265.5L357.5 271.4L359.5 273.7L359.5 277.2L360.2 278.4L360.6 278.8L361.2 279.3ZM419.4 279.6L420.0 279.8L420.6 279.9L421.2 279.8L422.3 279.3L422.9 278.8L423.3 278.4L424.1 277.2L424.1 274.3L425.6 272.6L431.8 266.1L467.0 231.0L467.0 230.6L450.5 230.6L448.8 230.8L447.6 231.1L446.4 231.6L444.7 232.5L442.7 233.9L440.9 235.7L438.4 238.6L436.0 242.1L434.3 245.1L430.6 252.0L428.7 255.0L427.6 257.2L426.5 259.0L425.1 260.3L424.3 260.9L423.5 261.3L422.3 261.7L420.6 261.8L420.1 264.9L419.6 267.3L419.1 269.0L417.4 273.1L417.1 274.3L416.9 275.5L417.0 276.6L417.4 277.8L417.8 278.4L418.3 279.0Z" fill="#f9a31a"/>
<path d="M361.8 279.2L363.0 279.5L364.2 279.3L364.8 278.9L365.3 278.4L365.7 277.8L366.1 276.6L366.0 275.5L365.7 274.3L365.1 273.1L363.0 269.7L361.2 269.6L359.5 269.5L357.1 269.1L355.4 268.7L355.3 269.0L359.2 273.1L360.1 274.3L360.1 277.2L360.8 278.4ZM419.4 279.3L420.6 279.5L421.2 279.4L422.1 279.0L422.7 278.4L423.4 277.2L423.5 274.9L424.9 273.1L428.8 269.0L428.8 268.5L426.8 269.0L424.7 269.4L422.6 269.6L420.6 269.7L418.2 273.6L417.9 274.3L417.6 275.5L417.5 276.6L417.9 277.8L418.3 278.4L418.8 278.9ZM429.4 268.5L429.4 268.3L429.0 268.5ZM444.1 253.8L444.1 253.6L443.9 253.8ZM444.7 253.2L444.7 252.9L444.4 253.2ZM445.3 252.7L445.3 252.2L444.8 252.7ZM445.8 252.1L445.8 251.5L445.3 252.1ZM446.4 251.5L446.4 251.0L445.9 251.5ZM447.0 250.9L447.0 250.5L446.5 250.9ZM447.6 250.3L447.6 250.0L447.2 250.3ZM448.2 249.7L448.2 249.7L448.1 249.7Z" fill="#f47721"/>
<path d="M362.4 279.1L363.0 279.2L364.0 279.0L364.8 278.4L365.3 277.8L365.5 277.2L365.5 276.1L365.3 275.3L364.8 274.2L363.0 272.2L358.9 272.1L358.9 272.6L360.4 274.3L360.6 274.9L360.6 277.2L361.4 278.4ZM420.0 279.1L420.6 279.2L421.2 279.1L421.8 278.7L422.3 278.2L423.0 277.2L423.0 275.5L423.2 274.9L425.3 272.6L425.3 272.1L422.9 272.2L420.6 272.2L418.8 274.2L418.2 275.5L418.1 276.6L418.1 277.2L418.3 277.8L418.7 278.4L419.4 278.9Z" fill="#ef4b23"/>
<path d="M362.4 278.5L363.0 278.8L363.6 278.6L364.2 278.2L364.5 277.8L364.8 277.2L364.7 276.6L364.5 276.1L364.2 275.6L363.6 275.1L363.0 274.8L361.2 274.8L361.2 274.9L361.4 275.5L361.4 277.2L361.8 277.8ZM420.0 278.6L420.6 278.8L421.3 278.4L421.8 277.8L422.2 277.2L422.2 276.1L422.9 274.9L422.9 274.7L420.6 274.8L420.0 275.1L419.4 275.6L419.1 276.1L418.8 276.6L418.8 277.2L419.0 277.8L419.4 278.2Z" fill="#e8281f"/>
</g>
<path d="M303.65 313.5L479.92 313.5L479.92 277.23L420.58 277.23L420.58 196.5L362.99 196.5L362.99 277.23L303.65 277.23Z" fill="none" stroke="#111" stroke-width="0.6"/>
<rect x="297.5" y="196.5" width="188.5" height="117.0" fill="none" stroke="#333" stroke-width="0.6"/>
<path d="M333.03 313.5v-2.2M333.03 196.5v2.2M391.79 313.5v-2.2M391.79 196.5v2.2M450.54 313.5v-2.2M450.54 196.5v2.2M303.65 313.5v-1.3M303.65 196.5v1.3M479.92 313.5v-1.3M479.92 196.5v1.3M297.5 295.95h2.2M486 295.95h-2.2M297.5 272.55h2.2M486 272.55h-2.2M297.5 249.15h2.2M486 249.15h-2.2M297.5 225.75h2.2M486 225.75h-2.2M297.5 202.35h2.2M486 202.35h-2.2M297.5 307.65h1.3M486 307.65h-1.3M297.5 284.25h1.3M486 284.25h-1.3M297.5 260.85h1.3M486 260.85h-1.3M297.5 237.45h1.3M486 237.45h-1.3M297.5 214.05h1.3M486 214.05h-1.3" stroke="#333" stroke-width="0.6" fill="none"/>
<g font-size="9" fill="#222" stroke="#222" stroke-width="0.12">
<text x="333.0" y="323.9" text-anchor="middle">-50</text>
<text x="391.8" y="323.9" text-anchor="middle">0</text>
<text x="450.5" y="323.9" text-anchor="middle">50</text>
<text x="293.9" y="298.9" text-anchor="end">0</text>
<text x="293.9" y="275.6" text-anchor="end">20</text>
<text x="293.9" y="252.2" text-anchor="end">40</text>
<text x="293.9" y="228.8" text-anchor="end">60</text>
<text x="293.9" y="205.4" text-anchor="end">80</text>
</g>
<text x="398.9" y="338.2" text-anchor="middle" font-size="11.2" letter-spacing="0.45" fill="#222" stroke="#222" stroke-width="0.2"><tspan font-style="italic">x</tspan> (<tspan font-style="italic">μ</tspan>m)</text>
<text transform="translate(272.2 254.9) rotate(-90)" text-anchor="middle" font-size="11.2" letter-spacing="0.45" fill="#222" stroke="#222" stroke-width="0.2"><tspan font-style="italic">y</tspan> (<tspan font-style="italic">μ</tspan>m)</text>
<text x="264.3" y="181.6" font-size="15" fill="#222" stroke="#222" stroke-width="0.15">(d)</text>
<text x="455.4" y="210.0" text-anchor="middle" font-size="11.8" fill="#222" stroke="#222" stroke-width="0.2">Type 3</text>
<text x="425.2" y="223.9" font-size="8.9" fill="#222" stroke="#222" stroke-width="0.15"><tspan font-style="italic">Q</tspan> = 10<tspan font-style="italic">μ</tspan>L/min</text>
<text x="425.5" y="235.3" font-size="8.9" fill="#222" stroke="#222" stroke-width="0.15"><tspan font-style="italic">U</tspan><tspan font-style="italic" font-size="7.3">max</tspan>=0.038 m/s</text>
<rect x="504.75" y="33.25" width="12.25" height="118.75" fill="#fde725"/>
<rect x="504.75" y="37.82" width="12.25" height="114.18" fill="#f4e61e"/>
<rect x="504.75" y="42.38" width="12.25" height="109.62" fill="#d8e219"/>
<rect x="504.75" y="46.95" width="12.25" height="105.05" fill="#bddf26"/>
<rect x="504.75" y="51.52" width="12.25" height="100.48" fill="#a0da39"/>
<rect x="504.75" y="56.09" width="12.25" height="95.91" fill="#86d549"/>
<rect x="504.75" y="60.65" width="12.25" height="91.35" fill="#6ccd5a"/>
<rect x="504.75" y="65.22" width="12.25" height="86.78" fill="#56c667"/>
<rect x="504.75" y="69.79" width="12.25" height="82.21" fill="#40bd72"/>
<rect x="504.75" y="74.36" width="12.25" height="77.64" fill="#31b57b"/>
<rect x="504.75" y="78.92" width="12.25" height="73.08" fill="#25ab82"/>
<rect x="504.75" y="83.49" width="12.25" height="68.51" fill="#1fa187"/>
<rect x="504.75" y="88.06" width="12.25" height="63.94" fill="#1f978b"/>
<rect x="504.75" y="92.62" width="12.25" height="59.38" fill="#218e8d"/>
<rect x="504.75" y="97.19" width="12.25" height="54.81" fill="#25838e"/>
<rect x="504.75" y="101.76" width="12.25" height="50.24" fill="#297a8e"/>
<rect x="504.75" y="106.33" width="12.25" height="45.67" fill="#2d708e"/>
<rect x="504.75" y="110.89" width="12.25" height="41.11" fill="#32658e"/>
<rect x="504.75" y="115.46" width="12.25" height="36.54" fill="#375b8d"/>
<rect x="504.75" y="120.03" width="12.25" height="31.97" fill="#3c4f8a"/>
<rect x="504.75" y="124.60" width="12.25" height="27.40" fill="#414487"/>
<rect x="504.75" y="129.16" width="12.25" height="22.84" fill="#453781"/>
<rect x="504.75" y="133.73" width="12.25" height="18.27" fill="#472a7a"/>
<rect x="504.75" y="138.30" width="12.25" height="13.70" fill="#481c6e"/>
<rect x="504.75" y="142.87" width="12.25" height="9.13" fill="#470e61"/>
<rect x="504.75" y="147.43" width="12.25" height="4.57" fill="#440154"/>
<g font-size="9" fill="#222" stroke="#222" stroke-width="0.12">
<text x="523.3" y="40.9">1</text>
<text x="523.3" y="63.4">0.8</text>
<text x="523.3" y="85.9">0.6</text>
<text x="523.3" y="108.5">0.4</text>
<text x="523.3" y="131.0">0.2</text>
<text x="523.3" y="153.5">0</text>
</g>
<text x="504.3" y="23.8" font-size="12.3" font-style="italic" fill="#222" stroke="#222" stroke-width="0.15">U/U<tspan font-size="9">max</tspan></text>
<rect x="504.75" y="196.00" width="12.25" height="118.00" fill="#e8281f"/>
<rect x="504.75" y="200.92" width="12.25" height="113.08" fill="#ef4b23"/>
<rect x="504.75" y="205.83" width="12.25" height="108.17" fill="#f47721"/>
<rect x="504.75" y="210.75" width="12.25" height="103.25" fill="#f9a31a"/>
<rect x="504.75" y="215.67" width="12.25" height="98.33" fill="#fcc20e"/>
<rect x="504.75" y="220.58" width="12.25" height="93.42" fill="#f5ea14"/>
<rect x="504.75" y="225.50" width="12.25" height="88.50" fill="#d3dd28"/>
<rect x="504.75" y="230.42" width="12.25" height="83.58" fill="#b0d136"/>
<rect x="504.75" y="235.33" width="12.25" height="78.67" fill="#8cc63e"/>
<rect x="504.75" y="240.25" width="12.25" height="73.75" fill="#62bb46"/>
<rect x="504.75" y="245.17" width="12.25" height="68.83" fill="#35b04a"/>
<rect x="504.75" y="250.08" width="12.25" height="63.92" fill="#12a54e"/>
<rect x="504.75" y="255.00" width="12.25" height="59.00" fill="#1fab52"/>
<rect x="504.75" y="259.92" width="12.25" height="54.08" fill="#2fb365"/>
<rect x="504.75" y="264.83" width="12.25" height="49.17" fill="#4cbd8c"/>
<rect x="504.75" y="269.75" width="12.25" height="44.25" fill="#66c6b4"/>
<rect x="504.75" y="274.67" width="12.25" height="39.33" fill="#74ccd0"/>
<rect x="504.75" y="279.58" width="12.25" height="34.42" fill="#6fcdea"/>
<rect x="504.75" y="284.50" width="12.25" height="29.50" fill="#3db5ec"/>
<rect x="504.75" y="289.42" width="12.25" height="24.58" fill="#3f8fd4"/>
<rect x="504.75" y="294.33" width="12.25" height="19.67" fill="#3d6fc0"/>
<rect x="504.75" y="299.25" width="12.25" height="14.75" fill="#3a5db0"/>
<rect x="504.75" y="304.17" width="12.25" height="9.83" fill="#3a56a8"/>
<rect x="504.75" y="309.08" width="12.25" height="4.92" fill="#3953a4"/>
<g font-size="9.6" fill="#222" stroke="#222" stroke-width="0.12">
<text x="523.3" y="202.7">3500</text>
<text x="523.3" y="231.3">2750</text>
<text x="523.3" y="259.6">2000</text>
<text x="523.3" y="287.9">1250</text>
<text x="523.3" y="316.1">500</text>
</g>
<text x="509.0" y="186.6" font-size="13" text-anchor="middle" fill="#222" stroke="#222" stroke-width="0.3">&#729;</text>
<text x="505.6" y="190.2" font-size="12.4" fill="#222" stroke="#222" stroke-width="0.15"><tspan font-style="italic">γ</tspan> (1/s)</text>
</svg>
</body></html>
